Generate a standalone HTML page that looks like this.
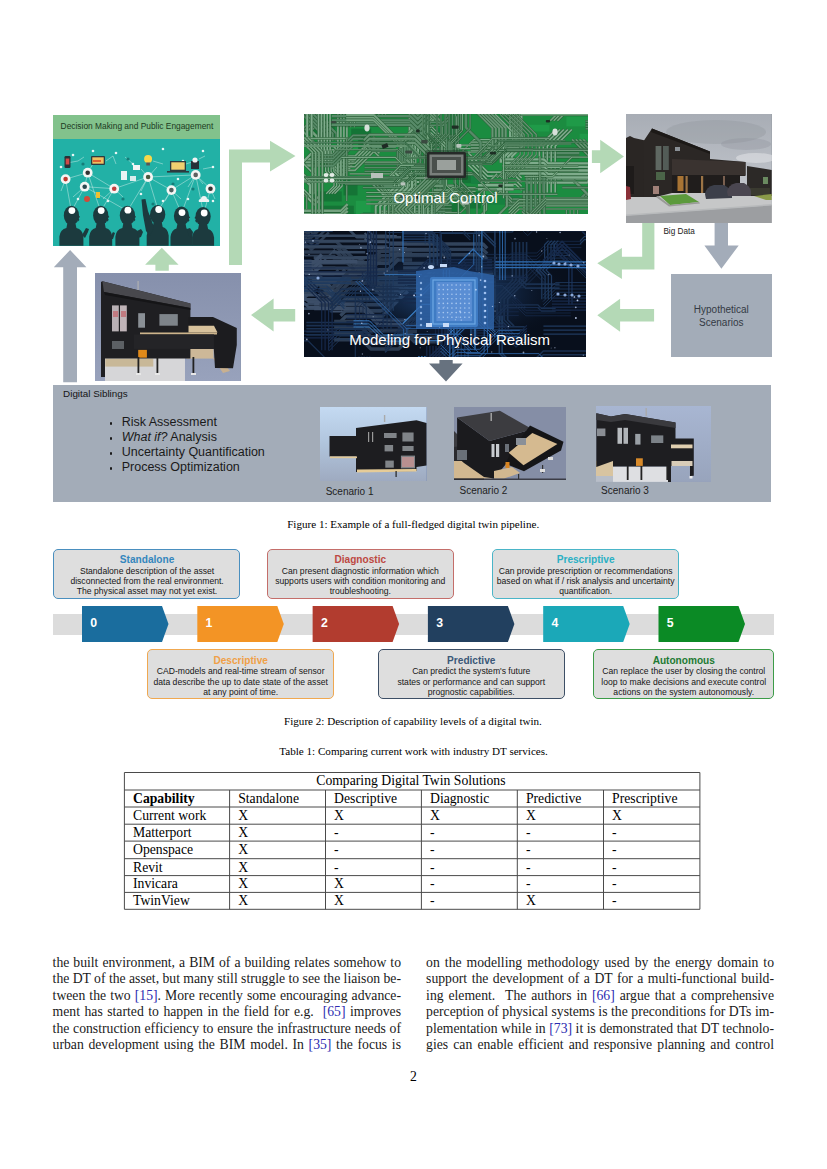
<!DOCTYPE html>
<html><head><meta charset="utf-8"><style>
html,body{margin:0;padding:0;background:#fff;}
body{width:827px;height:1169px;position:relative;overflow:hidden;}
.jl{position:absolute;font:400 13.7px/16.5px 'Liberation Serif', serif;color:#1a1a1a;text-align:justify;text-align-last:justify;white-space:nowrap;}
.jl{height:16.5px;overflow:visible;text-align:left;text-align-last:left;}
.c{color:#2b2bb0;}
svg.img{filter:blur(0.35px);}
</style></head><body>
<svg style="position:absolute;left:0;top:0" width="827" height="1169" viewBox="0 0 827 1169"><polygon points="229.0,265.0 229.0,149.6 270.0,149.6 270.0,140.8 295.5,156.0 270.0,171.6 270.0,162.4 242.0,162.4 242.0,265.0" fill="#b4d9b6"/><polygon points="591.9,150.2 600.2,150.2 600.2,139.8 623.9,156.4 600.2,173.2 600.2,163.1 591.9,163.1" fill="#b4d9b6"/><polygon points="642.2,223.0 654.4,223.0 654.4,269.5 621.9,269.5 621.9,278.9 597.3,263.3 621.9,247.9 621.9,256.8 642.2,256.8" fill="#b4d9b6"/><polygon points="714.6,223.0 728.0,223.0 728.0,245.4 738.7,245.4 721.4,268.8 704.4,245.4 714.6,245.4" fill="#a3acb9"/><polygon points="654.1,308.9 654.1,321.6 620.1,321.6 620.1,331.7 597.3,315.2 620.1,298.7 620.1,308.9" fill="#b4d9b6"/><polygon points="295.2,308.9 295.2,321.6 273.6,321.6 273.6,331.5 251.0,315.1 273.6,298.6 273.6,308.9" fill="#b4d9b6"/><polygon points="155.4,270.8 155.4,264.7 145.1,264.7 161.8,247.8 178.6,264.7 168.8,264.7 168.8,270.8" fill="#b4d9b6"/><polygon points="63.2,382.2 63.2,267.3 53.8,267.3 70.1,250.0 86.4,267.3 77.0,267.3 77.0,382.2" fill="#a3acb9"/><polygon points="439.4,360.1 452.7,360.1 452.7,363.4 462.6,363.4 446.0,381.4 429.0,363.4 439.4,363.4" fill="#67727f"/></svg><div style="position:absolute;left:53.30px;top:115.00px;width:166.70px;height:24.30px;background:#82c28c;"></div><div style="position:absolute;left:60.60px;top:121.35px;font:normal 400 8.4px/10.08px 'Liberation Sans', sans-serif;color:#1c3a22;white-space:nowrap;">Decision Making and Public Engagement</div><div style="position:absolute;left:53.3px;top:139.3px;width:166.7px;height:106.7px;background:#22b1a6;overflow:hidden"><svg class="img" width="166.7" height="106.7" viewBox="0 0 166.7 106.7" style="position:absolute;left:0;top:0"><rect width="166.7" height="106.7" fill="#22b1a6"/><line x1="12.6" y1="40.1" x2="34.7" y2="33.7" stroke="#d8f0ec" stroke-width="0.55" opacity="0.85"/><line x1="34.7" y1="33.7" x2="31.7" y2="47.7" stroke="#d8f0ec" stroke-width="0.55" opacity="0.85"/><line x1="34.7" y1="33.7" x2="61.2" y2="49.7" stroke="#d8f0ec" stroke-width="0.55" opacity="0.85"/><line x1="61.2" y1="49.7" x2="95.1" y2="38.0" stroke="#d8f0ec" stroke-width="0.55" opacity="0.85"/><line x1="95.1" y1="38.0" x2="118.4" y2="51.1" stroke="#d8f0ec" stroke-width="0.55" opacity="0.85"/><line x1="95.1" y1="38.0" x2="142.7" y2="35.9" stroke="#d8f0ec" stroke-width="0.55" opacity="0.85"/><line x1="142.7" y1="35.9" x2="157.5" y2="49.7" stroke="#d8f0ec" stroke-width="0.55" opacity="0.85"/><line x1="31.7" y1="47.7" x2="61.2" y2="49.7" stroke="#d8f0ec" stroke-width="0.55" opacity="0.85"/><line x1="118.4" y1="51.1" x2="142.7" y2="35.9" stroke="#d8f0ec" stroke-width="0.55" opacity="0.85"/><line x1="18.4" y1="72.4" x2="12.6" y2="40.1" stroke="#d8f0ec" stroke-width="0.55" opacity="0.85"/><line x1="18.4" y1="72.4" x2="31.7" y2="47.7" stroke="#d8f0ec" stroke-width="0.55" opacity="0.85"/><line x1="47.7" y1="72.4" x2="34.7" y2="33.7" stroke="#d8f0ec" stroke-width="0.55" opacity="0.85"/><line x1="47.7" y1="72.4" x2="61.2" y2="49.7" stroke="#d8f0ec" stroke-width="0.55" opacity="0.85"/><line x1="74.4" y1="72.0" x2="31.7" y2="47.7" stroke="#d8f0ec" stroke-width="0.55" opacity="0.85"/><line x1="74.4" y1="72.0" x2="95.1" y2="38.0" stroke="#d8f0ec" stroke-width="0.55" opacity="0.85"/><line x1="105.2" y1="71.3" x2="95.1" y2="38.0" stroke="#d8f0ec" stroke-width="0.55" opacity="0.85"/><line x1="105.2" y1="71.3" x2="118.4" y2="51.1" stroke="#d8f0ec" stroke-width="0.55" opacity="0.85"/><line x1="128.5" y1="74.4" x2="118.4" y2="51.1" stroke="#d8f0ec" stroke-width="0.55" opacity="0.85"/><line x1="128.5" y1="74.4" x2="142.7" y2="35.9" stroke="#d8f0ec" stroke-width="0.55" opacity="0.85"/><line x1="150.7" y1="74.8" x2="142.7" y2="35.9" stroke="#d8f0ec" stroke-width="0.55" opacity="0.85"/><line x1="150.7" y1="74.8" x2="157.5" y2="49.7" stroke="#d8f0ec" stroke-width="0.55" opacity="0.85"/><line x1="14" y1="24" x2="25" y2="22" stroke="#d8f0ec" stroke-width="0.55" opacity="0.85"/><line x1="25" y1="22" x2="31" y2="18" stroke="#d8f0ec" stroke-width="0.55" opacity="0.85"/><line x1="53" y1="22" x2="60" y2="17" stroke="#d8f0ec" stroke-width="0.55" opacity="0.85"/><line x1="60" y1="17" x2="63" y2="25" stroke="#d8f0ec" stroke-width="0.55" opacity="0.85"/><line x1="72" y1="18" x2="80" y2="25" stroke="#d8f0ec" stroke-width="0.55" opacity="0.85"/><line x1="88" y1="30" x2="95" y2="38" stroke="#d8f0ec" stroke-width="0.55" opacity="0.85"/><line x1="100" y1="22" x2="110" y2="25" stroke="#d8f0ec" stroke-width="0.55" opacity="0.85"/><line x1="133" y1="25" x2="142" y2="22" stroke="#d8f0ec" stroke-width="0.55" opacity="0.85"/><line x1="146" y1="20" x2="152" y2="17" stroke="#d8f0ec" stroke-width="0.55" opacity="0.85"/><line x1="150" y1="30" x2="160" y2="28" stroke="#d8f0ec" stroke-width="0.55" opacity="0.85"/><line x1="12.6" y1="40.1" x2="8" y2="52" stroke="#d8f0ec" stroke-width="0.55" opacity="0.85"/><line x1="31.7" y1="47.7" x2="20" y2="58" stroke="#d8f0ec" stroke-width="0.55" opacity="0.85"/><line x1="61.2" y1="49.7" x2="70" y2="58" stroke="#d8f0ec" stroke-width="0.55" opacity="0.85"/><line x1="95.1" y1="38" x2="88" y2="52" stroke="#d8f0ec" stroke-width="0.55" opacity="0.85"/><line x1="118.4" y1="51.1" x2="128" y2="60" stroke="#d8f0ec" stroke-width="0.55" opacity="0.85"/><line x1="142.7" y1="35.9" x2="150" y2="45" stroke="#d8f0ec" stroke-width="0.55" opacity="0.85"/><line x1="157.5" y1="49.7" x2="162" y2="60" stroke="#d8f0ec" stroke-width="0.55" opacity="0.85"/><line x1="34.7" y1="33.7" x2="40" y2="25" stroke="#d8f0ec" stroke-width="0.55" opacity="0.85"/><line x1="95.1" y1="38" x2="104" y2="28" stroke="#d8f0ec" stroke-width="0.55" opacity="0.85"/><line x1="118.4" y1="51.1" x2="112" y2="62" stroke="#d8f0ec" stroke-width="0.55" opacity="0.85"/><line x1="61.2" y1="49.7" x2="50" y2="60" stroke="#d8f0ec" stroke-width="0.55" opacity="0.85"/><line x1="142.7" y1="35.9" x2="135" y2="48" stroke="#d8f0ec" stroke-width="0.55" opacity="0.85"/><circle cx="20" cy="16" r="1.3" fill="#e8f6f4"/><circle cx="40" cy="12" r="1.3" fill="#e8f6f4"/><circle cx="63" cy="14" r="1.3" fill="#e8f6f4"/><circle cx="80" cy="25" r="1.3" fill="#e8f6f4"/><circle cx="95" cy="18" r="1.3" fill="#e8f6f4"/><circle cx="110" cy="10" r="1.3" fill="#e8f6f4"/><circle cx="130" cy="22" r="1.3" fill="#e8f6f4"/><circle cx="150" cy="12" r="1.3" fill="#e8f6f4"/><circle cx="160" cy="28" r="1.3" fill="#e8f6f4"/><circle cx="8" cy="28" r="1.3" fill="#e8f6f4"/><circle cx="25" cy="60" r="1.3" fill="#e8f6f4"/><circle cx="55" cy="62" r="1.3" fill="#e8f6f4"/><circle cx="88" cy="55" r="1.3" fill="#e8f6f4"/><circle cx="110" cy="62" r="1.3" fill="#e8f6f4"/><circle cx="135" cy="60" r="1.3" fill="#e8f6f4"/><circle cx="160" cy="62" r="1.3" fill="#e8f6f4"/><circle cx="70" cy="35" r="1.3" fill="#e8f6f4"/><circle cx="125" cy="40" r="1.3" fill="#e8f6f4"/><circle cx="45" cy="58" r="1.6" fill="#157c78"/><circle cx="70" cy="60" r="1.6" fill="#157c78"/><circle cx="100" cy="65" r="1.6" fill="#157c78"/><circle cx="120" cy="45" r="1.6" fill="#157c78"/><circle cx="140" cy="50" r="1.6" fill="#157c78"/><circle cx="30" cy="25" r="1.6" fill="#157c78"/><circle cx="75" cy="20" r="1.6" fill="#157c78"/><circle cx="12.6" cy="40.1" r="4.9" fill="#f4f6f4"/><circle cx="12.6" cy="40.1" r="2.3" fill="#c03a30"/><circle cx="34.7" cy="33.7" r="4.9" fill="#f4f6f4"/><circle cx="34.7" cy="33.7" r="2.3" fill="#333"/><circle cx="31.7" cy="47.7" r="4.9" fill="#f4f6f4"/><circle cx="31.7" cy="47.7" r="2.3" fill="#2a4a50"/><circle cx="61.2" cy="49.7" r="4.9" fill="#f4f6f4"/><circle cx="61.2" cy="49.7" r="2.3" fill="#c04040"/><circle cx="95.1" cy="38.0" r="4.9" fill="#f4f6f4"/><circle cx="95.1" cy="38.0" r="2.3" fill="#4a5a40"/><circle cx="118.4" cy="51.1" r="4.9" fill="#f4f6f4"/><circle cx="118.4" cy="51.1" r="2.3" fill="#506060"/><circle cx="142.7" cy="35.9" r="4.9" fill="#f4f6f4"/><circle cx="142.7" cy="35.9" r="2.3" fill="#606060"/><circle cx="157.5" cy="49.7" r="4.9" fill="#f4f6f4"/><circle cx="157.5" cy="49.7" r="2.3" fill="#333"/><rect x="11.5" y="17" width="6" height="12" rx="1.2" fill="#263238"/><rect x="12.7" y="19.5" width="3.6" height="6" fill="#d04848"/><rect x="38" y="17" width="14" height="9" rx="1" fill="#2d3b40"/><rect x="39.3" y="18.3" width="11.4" height="6.4" fill="#f0c060"/><rect x="40" y="21" width="8" height="2" fill="#e06030"/><circle cx="95.1" cy="20" r="4" fill="#f7d84a"/><rect x="93.3" y="23.5" width="3.6" height="3" fill="#555"/><rect x="117" y="22" width="16" height="10" fill="#2d3b40"/><rect x="118.3" y="23.3" width="13.4" height="7.4" fill="#f0d070"/><rect x="114" y="32" width="22" height="1.6" fill="#2d3b40"/><rect x="138" y="22" width="8" height="8" fill="#263238"/><circle cx="142" cy="21" r="2.6" fill="#f4f4f4"/><rect x="68" y="32" width="6" height="9" fill="#e8f4f4"/><rect x="77" y="37" width="6" height="5" fill="#d8ecec"/><rect x="80" y="26" width="7" height="5" fill="#f4f4f4"/><circle cx="34" cy="60" r="3" fill="#d04a3a"/><rect x="43" y="53" width="4" height="6" fill="#f0c030"/><path d="M148 60 a3 3 0 0 1 6 0 a2 2 0 0 1 2 3 h-10 a2 2 0 0 1 2 -3z" fill="#f0f4f4"/><ellipse cx="18.4" cy="76.4" rx="7.6" ry="9.6" fill="#1c3a3e"/><path d="M24.9 75.4 l2.2 2.5 l-1.5 1 l0.8 2 l-2 2 z" fill="#1c3a3e"/><path d="M6.4 106.7 L6.4 97.4 Q7.4 89.9 13.4 88.9 L14.9 81.4 L21.9 81.4 L23.4 88.9 Q29.4 89.9 30.4 97.4 L30.4 106.7 Z" fill="#1c3a3e"/><ellipse cx="47.7" cy="76.4" rx="7.6" ry="9.6" fill="#1c3a3e"/><path d="M54.2 75.4 l2.2 2.5 l-1.5 1 l0.8 2 l-2 2 z" fill="#1c3a3e"/><path d="M36.2 106.7 L36.2 97.4 Q37.2 89.9 42.7 88.9 L44.2 81.4 L51.2 81.4 L52.7 88.9 Q58.2 89.9 59.2 97.4 L59.2 106.7 Z" fill="#1c3a3e"/><ellipse cx="74.4" cy="76.4" rx="7.6" ry="9.6" fill="#1c3a3e"/><path d="M80.9 75.4 l2.2 2.5 l-1.5 1 l0.8 2 l-2 2 z" fill="#1c3a3e"/><path d="M62.4 106.7 L62.4 97.4 Q63.4 89.9 69.4 88.9 L70.9 81.4 L77.9 81.4 L79.4 88.9 Q85.4 89.9 86.4 97.4 L86.4 106.7 Z" fill="#1c3a3e"/><ellipse cx="104.7" cy="75.5" rx="7.6" ry="9.6" fill="#1c3a3e"/><path d="M98.2 74.5 l-2.2 2.5 l1.5 1 l-0.8 2 l2 2 z" fill="#1c3a3e"/><path d="M93.7 106.7 L93.7 96.5 Q94.7 89.0 99.7 88.0 L101.2 80.5 L108.2 80.5 L109.7 88.0 Q114.7 89.0 115.7 96.5 L115.7 106.7 Z" fill="#1c3a3e"/><ellipse cx="128.5" cy="77" rx="7.6" ry="9.6" fill="#1c3a3e"/><path d="M135.0 76 l2.2 2.5 l-1.5 1 l0.8 2 l-2 2 z" fill="#1c3a3e"/><path d="M117.5 106.7 L117.5 98.0 Q118.5 90.5 123.5 89.5 L125.0 82.0 L132.0 82.0 L133.5 89.5 Q138.5 90.5 139.5 98.0 L139.5 106.7 Z" fill="#1c3a3e"/><ellipse cx="150.1" cy="77.5" rx="7.6" ry="9.6" fill="#1c3a3e"/><path d="M143.6 76.5 l-2.2 2.5 l1.5 1 l-0.8 2 l2 2 z" fill="#1c3a3e"/><path d="M139.1 106.7 L139.1 98.5 Q140.1 91.0 145.1 90.0 L146.6 82.5 L153.6 82.5 L155.1 90.0 Q160.1 91.0 161.1 98.5 L161.1 106.7 Z" fill="#1c3a3e"/><path d="M88.5 60.5 L92.5 60 L95 72 L101 88 L97 97 L93 92 L90 76 Z" fill="#1c3a3e"/><path d="M29 96 L33 89 L36 90 L35 93 L32 99 Z M85 99 L84 92 L88 90 L90 93 L88 98 Z M136 97 L134 90 L137 89 L140 93 L139 99 Z M56 100 L60 93 L62 94 L60 100 Z" fill="#1c3a3e"/><circle cx="18.9" cy="71.60000000000001" r="3.4" fill="#ffffff"/><circle cx="48.2" cy="71.60000000000001" r="3.4" fill="#ffffff"/><circle cx="74.9" cy="71.2" r="3.4" fill="#ffffff"/><circle cx="105.7" cy="70.5" r="3.4" fill="#ffffff"/><circle cx="129.0" cy="73.60000000000001" r="3.4" fill="#ffffff"/><circle cx="151.2" cy="74.0" r="3.4" fill="#ffffff"/></svg></div><div style="position:absolute;left:303.5px;top:114.2px;width:284.5px;height:100.1px;background:#238f48;overflow:hidden"><svg class="img" width="284.5" height="100.1" viewBox="0 0 284.5 100.1" style="position:absolute;left:0;top:0"><rect width="284.5" height="100.1" fill="#1b8c40"/><rect x="177.2" y="74.3" width="38.3" height="16.4" fill="#178040"/><rect x="262.4" y="2.9" width="33.3" height="9.5" fill="#1f9a48"/><rect x="14.8" y="15.7" width="24.1" height="9.5" fill="#1f9a48"/><rect x="154.7" y="57.5" width="31.9" height="11.7" fill="#157436"/><rect x="51.8" y="86.8" width="14.8" height="17.2" fill="#1f9a48"/><rect x="39.5" y="61.8" width="14.0" height="19.6" fill="#157436"/><rect x="1.5" y="77.4" width="36.2" height="10.1" fill="#157436"/><rect x="273.5" y="54.0" width="28.8" height="8.5" fill="#178040"/><rect x="275.6" y="19.7" width="19.0" height="11.1" fill="#1f9a48"/><rect x="47.2" y="14.6" width="20.0" height="17.4" fill="#157436"/><rect x="166.8" y="59.7" width="20.1" height="10.3" fill="#178040"/><rect x="232.9" y="48.1" width="15.5" height="12.6" fill="#1f9a48"/><rect x="50.1" y="25.6" width="38.5" height="11.0" fill="#157436"/><rect x="115.0" y="55.0" width="21.0" height="14.1" fill="#1f9a48"/><rect x="2.6" y="4.7" width="28.7" height="19.4" fill="#157436"/><rect x="33.9" y="24.6" width="20.3" height="11.0" fill="#1f9a48"/><rect x="149.3" y="77.6" width="27.7" height="16.9" fill="#157436"/><rect x="104.5" y="29.6" width="38.4" height="7.3" fill="#1f9a48"/><rect x="96.9" y="61.1" width="20.2" height="18.9" fill="#157436"/><rect x="155.1" y="31.3" width="19.2" height="17.2" fill="#1f9a48"/><rect x="178.3" y="72.2" width="39.9" height="8.3" fill="#1f9a48"/><rect x="13.8" y="98.8" width="37.7" height="6.4" fill="#178040"/><rect x="210.7" y="34.4" width="23.7" height="11.9" fill="#1f9a48"/><rect x="15.8" y="91.7" width="34.0" height="10.7" fill="#157436"/><rect x="58.9" y="98.2" width="38.5" height="14.8" fill="#178040"/><rect x="224.2" y="10.7" width="21.2" height="6.8" fill="#1f9a48"/><rect x="119.7" y="14.1" width="35.6" height="19.7" fill="#178040"/><rect x="129.0" y="48.9" width="19.5" height="9.8" fill="#178040"/><rect x="133.7" y="90.3" width="21.3" height="19.8" fill="#157436"/><rect x="273.1" y="62.8" width="36.0" height="8.5" fill="#1f9a48"/><polyline points="139.6,51.9 139.6,84.6 139.6,114.2" fill="none" stroke="#2a5e38" stroke-width="3.4" stroke-linejoin="round" opacity="0.95"/><polyline points="139.6,51.9 139.6,84.6 139.6,114.2" fill="none" stroke="#5a8c6a" stroke-width="2.4" stroke-linejoin="round" opacity="0.95"/><polyline points="136.4,51.9 136.4,84.6 136.4,114.2" fill="none" stroke="#2a5e38" stroke-width="3.4" stroke-linejoin="round" opacity="0.95"/><polyline points="136.4,51.9 136.4,84.6 136.4,114.2" fill="none" stroke="#5a8c6a" stroke-width="2.4" stroke-linejoin="round" opacity="0.95"/><polyline points="133.2,51.9 133.2,84.6 133.2,114.2" fill="none" stroke="#2a5e38" stroke-width="3.4" stroke-linejoin="round" opacity="0.95"/><polyline points="133.2,51.9 133.2,84.6 133.2,114.2" fill="none" stroke="#5a8c6a" stroke-width="2.4" stroke-linejoin="round" opacity="0.95"/><polyline points="65.9,107.8 65.9,135.9 65.9,142.3 65.9,156.8 65.9,178.6" fill="none" stroke="#2a5e38" stroke-width="3.4" stroke-linejoin="round" opacity="0.95"/><polyline points="65.9,107.8 65.9,135.9 65.9,142.3 65.9,156.8 65.9,178.6" fill="none" stroke="#5a8c6a" stroke-width="2.4" stroke-linejoin="round" opacity="0.95"/><polyline points="62.8,107.8 62.8,135.9 62.8,142.3 62.8,156.8 62.8,178.6" fill="none" stroke="#2a5e38" stroke-width="3.4" stroke-linejoin="round" opacity="0.95"/><polyline points="62.8,107.8 62.8,135.9 62.8,142.3 62.8,156.8 62.8,178.6" fill="none" stroke="#5a8c6a" stroke-width="2.4" stroke-linejoin="round" opacity="0.95"/><polyline points="59.6,107.8 59.6,135.9 59.6,142.3 59.6,156.8 59.6,178.6" fill="none" stroke="#2a5e38" stroke-width="3.4" stroke-linejoin="round" opacity="0.95"/><polyline points="59.6,107.8 59.6,135.9 59.6,142.3 59.6,156.8 59.6,178.6" fill="none" stroke="#5a8c6a" stroke-width="2.4" stroke-linejoin="round" opacity="0.95"/><polyline points="93.6,91.2 93.6,52.7 105.6,40.7 105.6,2.8 105.6,-26.7" fill="none" stroke="#2a5e38" stroke-width="3.0" stroke-linejoin="round" opacity="0.95"/><polyline points="93.6,91.2 93.6,52.7 105.6,40.7 105.6,2.8 105.6,-26.7" fill="none" stroke="#84b090" stroke-width="2.0" stroke-linejoin="round" opacity="0.95"/><polyline points="96.4,91.2 96.4,52.7 108.4,40.7 108.4,2.8 108.4,-26.7" fill="none" stroke="#2a5e38" stroke-width="3.0" stroke-linejoin="round" opacity="0.95"/><polyline points="96.4,91.2 96.4,52.7 108.4,40.7 108.4,2.8 108.4,-26.7" fill="none" stroke="#84b090" stroke-width="2.0" stroke-linejoin="round" opacity="0.95"/><polyline points="99.3,91.2 99.3,52.7 111.3,40.7 111.3,2.8 111.3,-26.7" fill="none" stroke="#2a5e38" stroke-width="3.0" stroke-linejoin="round" opacity="0.95"/><polyline points="99.3,91.2 99.3,52.7 111.3,40.7 111.3,2.8 111.3,-26.7" fill="none" stroke="#84b090" stroke-width="2.0" stroke-linejoin="round" opacity="0.95"/><polyline points="102.1,91.2 102.1,52.7 114.1,40.7 114.1,2.8 114.1,-26.7" fill="none" stroke="#2a5e38" stroke-width="3.0" stroke-linejoin="round" opacity="0.95"/><polyline points="102.1,91.2 102.1,52.7 114.1,40.7 114.1,2.8 114.1,-26.7" fill="none" stroke="#84b090" stroke-width="2.0" stroke-linejoin="round" opacity="0.95"/><polyline points="182.4,83.0 182.4,95.7 168.8,109.3" fill="none" stroke="#2a5e38" stroke-width="2.6" stroke-linejoin="round" opacity="0.95"/><polyline points="182.4,83.0 182.4,95.7 168.8,109.3" fill="none" stroke="#78a684" stroke-width="1.6" stroke-linejoin="round" opacity="0.95"/><polyline points="-2.4,6.0 -2.4,28.4 -2.4,48.6 -16.7,62.8" fill="none" stroke="#2a5e38" stroke-width="2.2" stroke-linejoin="round" opacity="0.95"/><polyline points="-2.4,6.0 -2.4,28.4 -2.4,48.6 -16.7,62.8" fill="none" stroke="#5a8c6a" stroke-width="1.2" stroke-linejoin="round" opacity="0.95"/><polyline points="-6.4,6.0 -6.4,28.4 -6.4,48.6 -20.6,62.8" fill="none" stroke="#2a5e38" stroke-width="2.2" stroke-linejoin="round" opacity="0.95"/><polyline points="-6.4,6.0 -6.4,28.4 -6.4,48.6 -20.6,62.8" fill="none" stroke="#5a8c6a" stroke-width="1.2" stroke-linejoin="round" opacity="0.95"/><polyline points="93.7,104.3 93.7,74.9 93.7,36.1" fill="none" stroke="#2a5e38" stroke-width="3.0" stroke-linejoin="round" opacity="0.95"/><polyline points="93.7,104.3 93.7,74.9 93.7,36.1" fill="none" stroke="#5a8c6a" stroke-width="2.0" stroke-linejoin="round" opacity="0.95"/><polyline points="96.4,104.3 96.4,74.9 96.4,36.1" fill="none" stroke="#2a5e38" stroke-width="3.0" stroke-linejoin="round" opacity="0.95"/><polyline points="96.4,104.3 96.4,74.9 96.4,36.1" fill="none" stroke="#5a8c6a" stroke-width="2.0" stroke-linejoin="round" opacity="0.95"/><polyline points="99.1,104.3 99.1,74.9 99.1,36.1" fill="none" stroke="#2a5e38" stroke-width="3.0" stroke-linejoin="round" opacity="0.95"/><polyline points="99.1,104.3 99.1,74.9 99.1,36.1" fill="none" stroke="#5a8c6a" stroke-width="2.0" stroke-linejoin="round" opacity="0.95"/><polyline points="291.0,88.3 291.0,54.7 300.2,45.4 300.2,20.2 300.2,-18.7 300.2,-36.6" fill="none" stroke="#2a5e38" stroke-width="2.6" stroke-linejoin="round" opacity="0.95"/><polyline points="291.0,88.3 291.0,54.7 300.2,45.4 300.2,20.2 300.2,-18.7 300.2,-36.6" fill="none" stroke="#5a8c6a" stroke-width="1.6" stroke-linejoin="round" opacity="0.95"/><polyline points="85.6,95.3 95.9,84.9 95.9,62.6 95.9,43.6 95.9,32.2 111.5,16.6" fill="none" stroke="#2a5e38" stroke-width="3.4" stroke-linejoin="round" opacity="0.95"/><polyline points="85.6,95.3 95.9,84.9 95.9,62.6 95.9,43.6 95.9,32.2 111.5,16.6" fill="none" stroke="#5a8c6a" stroke-width="2.4" stroke-linejoin="round" opacity="0.95"/><polyline points="88.1,95.3 98.5,84.9 98.5,62.6 98.5,43.6 98.5,32.2 114.1,16.6" fill="none" stroke="#2a5e38" stroke-width="3.4" stroke-linejoin="round" opacity="0.95"/><polyline points="88.1,95.3 98.5,84.9 98.5,62.6 98.5,43.6 98.5,32.2 114.1,16.6" fill="none" stroke="#5a8c6a" stroke-width="2.4" stroke-linejoin="round" opacity="0.95"/><polyline points="90.7,95.3 101.0,84.9 101.0,62.6 101.0,43.6 101.0,32.2 116.6,16.6" fill="none" stroke="#2a5e38" stroke-width="3.4" stroke-linejoin="round" opacity="0.95"/><polyline points="90.7,95.3 101.0,84.9 101.0,62.6 101.0,43.6 101.0,32.2 116.6,16.6" fill="none" stroke="#5a8c6a" stroke-width="2.4" stroke-linejoin="round" opacity="0.95"/><polyline points="93.2,95.3 103.6,84.9 103.6,62.6 103.6,43.6 103.6,32.2 119.2,16.6" fill="none" stroke="#2a5e38" stroke-width="3.4" stroke-linejoin="round" opacity="0.95"/><polyline points="93.2,95.3 103.6,84.9 103.6,62.6 103.6,43.6 103.6,32.2 119.2,16.6" fill="none" stroke="#5a8c6a" stroke-width="2.4" stroke-linejoin="round" opacity="0.95"/><polyline points="281.6,7.2 310.1,7.2 317.3,0.0" fill="none" stroke="#2a5e38" stroke-width="2.6" stroke-linejoin="round" opacity="0.95"/><polyline points="281.6,7.2 310.1,7.2 317.3,0.0" fill="none" stroke="#5a8c6a" stroke-width="1.6" stroke-linejoin="round" opacity="0.95"/><polyline points="281.6,9.7 310.1,9.7 317.3,2.6" fill="none" stroke="#2a5e38" stroke-width="2.6" stroke-linejoin="round" opacity="0.95"/><polyline points="281.6,9.7 310.1,9.7 317.3,2.6" fill="none" stroke="#5a8c6a" stroke-width="1.6" stroke-linejoin="round" opacity="0.95"/><polyline points="281.6,12.3 310.1,12.3 317.3,5.1" fill="none" stroke="#2a5e38" stroke-width="2.6" stroke-linejoin="round" opacity="0.95"/><polyline points="281.6,12.3 310.1,12.3 317.3,5.1" fill="none" stroke="#5a8c6a" stroke-width="1.6" stroke-linejoin="round" opacity="0.95"/><polyline points="281.6,14.8 310.1,14.8 317.3,7.6" fill="none" stroke="#2a5e38" stroke-width="2.6" stroke-linejoin="round" opacity="0.95"/><polyline points="281.6,14.8 310.1,14.8 317.3,7.6" fill="none" stroke="#5a8c6a" stroke-width="1.6" stroke-linejoin="round" opacity="0.95"/><polyline points="283.5,83.9 275.9,91.5 260.0,91.5 237.8,91.5 211.3,91.5 201.3,91.5" fill="none" stroke="#2a5e38" stroke-width="3.0" stroke-linejoin="round" opacity="0.95"/><polyline points="283.5,83.9 275.9,91.5 260.0,91.5 237.8,91.5 211.3,91.5 201.3,91.5" fill="none" stroke="#5a8c6a" stroke-width="2.0" stroke-linejoin="round" opacity="0.95"/><polyline points="283.5,80.8 275.9,88.4 260.0,88.4 237.8,88.4 211.3,88.4 201.3,88.4" fill="none" stroke="#2a5e38" stroke-width="3.0" stroke-linejoin="round" opacity="0.95"/><polyline points="283.5,80.8 275.9,88.4 260.0,88.4 237.8,88.4 211.3,88.4 201.3,88.4" fill="none" stroke="#5a8c6a" stroke-width="2.0" stroke-linejoin="round" opacity="0.95"/><polyline points="283.5,77.8 275.9,85.3 260.0,85.3 237.8,85.3 211.3,85.3 201.3,85.3" fill="none" stroke="#2a5e38" stroke-width="3.0" stroke-linejoin="round" opacity="0.95"/><polyline points="283.5,77.8 275.9,85.3 260.0,85.3 237.8,85.3 211.3,85.3 201.3,85.3" fill="none" stroke="#5a8c6a" stroke-width="2.0" stroke-linejoin="round" opacity="0.95"/><polyline points="217.3,-6.8 217.3,22.4 222.6,27.6 207.9,42.3 207.9,48.8" fill="none" stroke="#2a5e38" stroke-width="3.4" stroke-linejoin="round" opacity="0.95"/><polyline points="217.3,-6.8 217.3,22.4 222.6,27.6 207.9,42.3 207.9,48.8" fill="none" stroke="#84b090" stroke-width="2.4" stroke-linejoin="round" opacity="0.95"/><polyline points="213.6,-6.8 213.6,22.4 218.9,27.6 204.2,42.3 204.2,48.8" fill="none" stroke="#2a5e38" stroke-width="3.4" stroke-linejoin="round" opacity="0.95"/><polyline points="213.6,-6.8 213.6,22.4 218.9,27.6 204.2,42.3 204.2,48.8" fill="none" stroke="#84b090" stroke-width="2.4" stroke-linejoin="round" opacity="0.95"/><polyline points="209.9,-6.8 209.9,22.4 215.2,27.6 200.5,42.3 200.5,48.8" fill="none" stroke="#2a5e38" stroke-width="3.4" stroke-linejoin="round" opacity="0.95"/><polyline points="209.9,-6.8 209.9,22.4 215.2,27.6 200.5,42.3 200.5,48.8" fill="none" stroke="#84b090" stroke-width="2.4" stroke-linejoin="round" opacity="0.95"/><polyline points="206.2,-6.8 206.2,22.4 211.5,27.6 196.8,42.3 196.8,48.8" fill="none" stroke="#2a5e38" stroke-width="3.4" stroke-linejoin="round" opacity="0.95"/><polyline points="206.2,-6.8 206.2,22.4 211.5,27.6 196.8,42.3 196.8,48.8" fill="none" stroke="#84b090" stroke-width="2.4" stroke-linejoin="round" opacity="0.95"/><polyline points="134.4,71.9 112.6,71.9 104.4,80.1 78.6,80.1 67.6,69.1" fill="none" stroke="#2a5e38" stroke-width="3.0" stroke-linejoin="round" opacity="0.95"/><polyline points="134.4,71.9 112.6,71.9 104.4,80.1 78.6,80.1 67.6,69.1" fill="none" stroke="#84b090" stroke-width="2.0" stroke-linejoin="round" opacity="0.95"/><polyline points="134.4,68.1 112.6,68.1 104.4,76.2 78.6,76.2 67.6,65.2" fill="none" stroke="#2a5e38" stroke-width="3.0" stroke-linejoin="round" opacity="0.95"/><polyline points="134.4,68.1 112.6,68.1 104.4,76.2 78.6,76.2 67.6,65.2" fill="none" stroke="#84b090" stroke-width="2.0" stroke-linejoin="round" opacity="0.95"/><polyline points="134.4,64.2 112.6,64.2 104.4,72.3 78.6,72.3 67.6,61.3" fill="none" stroke="#2a5e38" stroke-width="3.0" stroke-linejoin="round" opacity="0.95"/><polyline points="134.4,64.2 112.6,64.2 104.4,72.3 78.6,72.3 67.6,61.3" fill="none" stroke="#84b090" stroke-width="2.0" stroke-linejoin="round" opacity="0.95"/><polyline points="134.4,60.3 112.6,60.3 104.4,68.4 78.6,68.4 67.6,57.4" fill="none" stroke="#2a5e38" stroke-width="3.0" stroke-linejoin="round" opacity="0.95"/><polyline points="134.4,60.3 112.6,60.3 104.4,68.4 78.6,68.4 67.6,57.4" fill="none" stroke="#84b090" stroke-width="2.0" stroke-linejoin="round" opacity="0.95"/><polyline points="154.6,41.1 170.0,25.7 202.9,25.7" fill="none" stroke="#2a5e38" stroke-width="2.2" stroke-linejoin="round" opacity="0.95"/><polyline points="154.6,41.1 170.0,25.7 202.9,25.7" fill="none" stroke="#84b090" stroke-width="1.2" stroke-linejoin="round" opacity="0.95"/><polyline points="304.0,74.2 321.3,56.9 336.4,72.0" fill="none" stroke="#2a5e38" stroke-width="3.4" stroke-linejoin="round" opacity="0.95"/><polyline points="304.0,74.2 321.3,56.9 336.4,72.0" fill="none" stroke="#78a684" stroke-width="2.4" stroke-linejoin="round" opacity="0.95"/><polyline points="304.0,77.0 321.3,59.7 336.4,74.8" fill="none" stroke="#2a5e38" stroke-width="3.4" stroke-linejoin="round" opacity="0.95"/><polyline points="304.0,77.0 321.3,59.7 336.4,74.8" fill="none" stroke="#78a684" stroke-width="2.4" stroke-linejoin="round" opacity="0.95"/><polyline points="304.0,79.8 321.3,62.5 336.4,77.6" fill="none" stroke="#2a5e38" stroke-width="3.4" stroke-linejoin="round" opacity="0.95"/><polyline points="304.0,79.8 321.3,62.5 336.4,77.6" fill="none" stroke="#78a684" stroke-width="2.4" stroke-linejoin="round" opacity="0.95"/><polyline points="304.0,82.6 321.3,65.3 336.4,80.4" fill="none" stroke="#2a5e38" stroke-width="3.4" stroke-linejoin="round" opacity="0.95"/><polyline points="304.0,82.6 321.3,65.3 336.4,80.4" fill="none" stroke="#78a684" stroke-width="2.4" stroke-linejoin="round" opacity="0.95"/><polyline points="240.3,-1.9 215.4,-1.9 199.7,-17.6" fill="none" stroke="#2a5e38" stroke-width="2.2" stroke-linejoin="round" opacity="0.95"/><polyline points="240.3,-1.9 215.4,-1.9 199.7,-17.6" fill="none" stroke="#78a684" stroke-width="1.2" stroke-linejoin="round" opacity="0.95"/><polyline points="240.3,-6.2 215.4,-6.2 199.7,-21.9" fill="none" stroke="#2a5e38" stroke-width="2.2" stroke-linejoin="round" opacity="0.95"/><polyline points="240.3,-6.2 215.4,-6.2 199.7,-21.9" fill="none" stroke="#78a684" stroke-width="1.2" stroke-linejoin="round" opacity="0.95"/><polyline points="240.3,-10.4 215.4,-10.4 199.7,-26.1" fill="none" stroke="#2a5e38" stroke-width="2.2" stroke-linejoin="round" opacity="0.95"/><polyline points="240.3,-10.4 215.4,-10.4 199.7,-26.1" fill="none" stroke="#78a684" stroke-width="1.2" stroke-linejoin="round" opacity="0.95"/><polyline points="240.3,-14.7 215.4,-14.7 199.7,-30.4" fill="none" stroke="#2a5e38" stroke-width="2.2" stroke-linejoin="round" opacity="0.95"/><polyline points="240.3,-14.7 215.4,-14.7 199.7,-30.4" fill="none" stroke="#78a684" stroke-width="1.2" stroke-linejoin="round" opacity="0.95"/><polyline points="120.1,27.8 120.1,9.8 138.6,-8.8 138.6,-19.9 138.6,-43.1 138.6,-68.0" fill="none" stroke="#2a5e38" stroke-width="3.0" stroke-linejoin="round" opacity="0.95"/><polyline points="120.1,27.8 120.1,9.8 138.6,-8.8 138.6,-19.9 138.6,-43.1 138.6,-68.0" fill="none" stroke="#78a684" stroke-width="2.0" stroke-linejoin="round" opacity="0.95"/><polyline points="122.7,27.8 122.7,9.8 141.3,-8.8 141.3,-19.9 141.3,-43.1 141.3,-68.0" fill="none" stroke="#2a5e38" stroke-width="3.0" stroke-linejoin="round" opacity="0.95"/><polyline points="122.7,27.8 122.7,9.8 141.3,-8.8 141.3,-19.9 141.3,-43.1 141.3,-68.0" fill="none" stroke="#78a684" stroke-width="2.0" stroke-linejoin="round" opacity="0.95"/><polyline points="125.3,27.8 125.3,9.8 143.9,-8.8 143.9,-19.9 143.9,-43.1 143.9,-68.0" fill="none" stroke="#2a5e38" stroke-width="3.0" stroke-linejoin="round" opacity="0.95"/><polyline points="125.3,27.8 125.3,9.8 143.9,-8.8 143.9,-19.9 143.9,-43.1 143.9,-68.0" fill="none" stroke="#78a684" stroke-width="2.0" stroke-linejoin="round" opacity="0.95"/><polyline points="250.2,24.0 214.8,24.0 205.2,14.4 191.1,0.3" fill="none" stroke="#2a5e38" stroke-width="2.6" stroke-linejoin="round" opacity="0.95"/><polyline points="250.2,24.0 214.8,24.0 205.2,14.4 191.1,0.3" fill="none" stroke="#84b090" stroke-width="1.6" stroke-linejoin="round" opacity="0.95"/><polyline points="106.5,45.6 123.0,62.1 127.0,66.0" fill="none" stroke="#2a5e38" stroke-width="3.4" stroke-linejoin="round" opacity="0.95"/><polyline points="106.5,45.6 123.0,62.1 127.0,66.0" fill="none" stroke="#6a9877" stroke-width="2.4" stroke-linejoin="round" opacity="0.95"/><polyline points="102.5,45.6 119.0,62.1 123.0,66.0" fill="none" stroke="#2a5e38" stroke-width="3.4" stroke-linejoin="round" opacity="0.95"/><polyline points="102.5,45.6 119.0,62.1 123.0,66.0" fill="none" stroke="#6a9877" stroke-width="2.4" stroke-linejoin="round" opacity="0.95"/><polyline points="246.3,6.8 263.5,-10.4 263.5,-43.5 263.5,-74.1 263.5,-90.1" fill="none" stroke="#2a5e38" stroke-width="2.6" stroke-linejoin="round" opacity="0.95"/><polyline points="246.3,6.8 263.5,-10.4 263.5,-43.5 263.5,-74.1 263.5,-90.1" fill="none" stroke="#78a684" stroke-width="1.6" stroke-linejoin="round" opacity="0.95"/><polyline points="249.8,6.8 267.0,-10.4 267.0,-43.5 267.0,-74.1 267.0,-90.1" fill="none" stroke="#2a5e38" stroke-width="2.6" stroke-linejoin="round" opacity="0.95"/><polyline points="249.8,6.8 267.0,-10.4 267.0,-43.5 267.0,-74.1 267.0,-90.1" fill="none" stroke="#78a684" stroke-width="1.6" stroke-linejoin="round" opacity="0.95"/><polyline points="253.4,6.8 270.6,-10.4 270.6,-43.5 270.6,-74.1 270.6,-90.1" fill="none" stroke="#2a5e38" stroke-width="2.6" stroke-linejoin="round" opacity="0.95"/><polyline points="253.4,6.8 270.6,-10.4 270.6,-43.5 270.6,-74.1 270.6,-90.1" fill="none" stroke="#78a684" stroke-width="1.6" stroke-linejoin="round" opacity="0.95"/><polyline points="108.3,1.6 114.8,8.1 129.0,22.3 151.0,22.3" fill="none" stroke="#2a5e38" stroke-width="3.4" stroke-linejoin="round" opacity="0.95"/><polyline points="108.3,1.6 114.8,8.1 129.0,22.3 151.0,22.3" fill="none" stroke="#5a8c6a" stroke-width="2.4" stroke-linejoin="round" opacity="0.95"/><polyline points="108.3,6.0 114.8,12.4 129.0,26.7 151.0,26.7" fill="none" stroke="#2a5e38" stroke-width="3.4" stroke-linejoin="round" opacity="0.95"/><polyline points="108.3,6.0 114.8,12.4 129.0,26.7 151.0,26.7" fill="none" stroke="#5a8c6a" stroke-width="2.4" stroke-linejoin="round" opacity="0.95"/><polyline points="108.3,10.3 114.8,16.8 129.0,31.0 151.0,31.0" fill="none" stroke="#2a5e38" stroke-width="3.4" stroke-linejoin="round" opacity="0.95"/><polyline points="108.3,10.3 114.8,16.8 129.0,31.0 151.0,31.0" fill="none" stroke="#5a8c6a" stroke-width="2.4" stroke-linejoin="round" opacity="0.95"/><polyline points="108.3,14.7 114.8,21.1 129.0,35.4 151.0,35.4" fill="none" stroke="#2a5e38" stroke-width="3.4" stroke-linejoin="round" opacity="0.95"/><polyline points="108.3,14.7 114.8,21.1 129.0,35.4 151.0,35.4" fill="none" stroke="#5a8c6a" stroke-width="2.4" stroke-linejoin="round" opacity="0.95"/><polyline points="108.3,19.0 114.8,25.5 129.0,39.7 151.0,39.7" fill="none" stroke="#2a5e38" stroke-width="3.4" stroke-linejoin="round" opacity="0.95"/><polyline points="108.3,19.0 114.8,25.5 129.0,39.7 151.0,39.7" fill="none" stroke="#5a8c6a" stroke-width="2.4" stroke-linejoin="round" opacity="0.95"/><polyline points="129.9,13.0 111.1,13.0 93.2,31.0" fill="none" stroke="#2a5e38" stroke-width="3.0" stroke-linejoin="round" opacity="0.95"/><polyline points="129.9,13.0 111.1,13.0 93.2,31.0" fill="none" stroke="#78a684" stroke-width="2.0" stroke-linejoin="round" opacity="0.95"/><polyline points="198.1,-6.0 235.5,-6.0 273.4,-6.0 302.3,-6.0 321.4,13.1" fill="none" stroke="#2a5e38" stroke-width="2.6" stroke-linejoin="round" opacity="0.95"/><polyline points="198.1,-6.0 235.5,-6.0 273.4,-6.0 302.3,-6.0 321.4,13.1" fill="none" stroke="#78a684" stroke-width="1.6" stroke-linejoin="round" opacity="0.95"/><polyline points="198.1,-2.6 235.5,-2.6 273.4,-2.6 302.3,-2.6 321.4,16.5" fill="none" stroke="#2a5e38" stroke-width="2.6" stroke-linejoin="round" opacity="0.95"/><polyline points="198.1,-2.6 235.5,-2.6 273.4,-2.6 302.3,-2.6 321.4,16.5" fill="none" stroke="#78a684" stroke-width="1.6" stroke-linejoin="round" opacity="0.95"/><polyline points="198.1,0.8 235.5,0.8 273.4,0.8 302.3,0.8 321.4,19.9" fill="none" stroke="#2a5e38" stroke-width="2.6" stroke-linejoin="round" opacity="0.95"/><polyline points="198.1,0.8 235.5,0.8 273.4,0.8 302.3,0.8 321.4,19.9" fill="none" stroke="#78a684" stroke-width="1.6" stroke-linejoin="round" opacity="0.95"/><polyline points="-9.1,75.8 -36.1,75.8 -66.1,75.8" fill="none" stroke="#2a5e38" stroke-width="2.2" stroke-linejoin="round" opacity="0.95"/><polyline points="-9.1,75.8 -36.1,75.8 -66.1,75.8" fill="none" stroke="#5a8c6a" stroke-width="1.2" stroke-linejoin="round" opacity="0.95"/><polyline points="-9.1,72.4 -36.1,72.4 -66.1,72.4" fill="none" stroke="#2a5e38" stroke-width="2.2" stroke-linejoin="round" opacity="0.95"/><polyline points="-9.1,72.4 -36.1,72.4 -66.1,72.4" fill="none" stroke="#5a8c6a" stroke-width="1.2" stroke-linejoin="round" opacity="0.95"/><polyline points="217.6,76.2 211.7,70.2 183.7,70.2 164.1,50.7" fill="none" stroke="#2a5e38" stroke-width="2.6" stroke-linejoin="round" opacity="0.95"/><polyline points="217.6,76.2 211.7,70.2 183.7,70.2 164.1,50.7" fill="none" stroke="#84b090" stroke-width="1.6" stroke-linejoin="round" opacity="0.95"/><polyline points="217.6,72.2 211.7,66.2 183.7,66.2 164.1,46.6" fill="none" stroke="#2a5e38" stroke-width="2.6" stroke-linejoin="round" opacity="0.95"/><polyline points="217.6,72.2 211.7,66.2 183.7,66.2 164.1,46.6" fill="none" stroke="#84b090" stroke-width="1.6" stroke-linejoin="round" opacity="0.95"/><polyline points="217.6,68.1 211.7,62.1 183.7,62.1 164.1,42.5" fill="none" stroke="#2a5e38" stroke-width="2.6" stroke-linejoin="round" opacity="0.95"/><polyline points="217.6,68.1 211.7,62.1 183.7,62.1 164.1,42.5" fill="none" stroke="#84b090" stroke-width="1.6" stroke-linejoin="round" opacity="0.95"/><polyline points="217.6,64.0 211.7,58.1 183.7,58.1 164.1,38.5" fill="none" stroke="#2a5e38" stroke-width="2.6" stroke-linejoin="round" opacity="0.95"/><polyline points="217.6,64.0 211.7,58.1 183.7,58.1 164.1,38.5" fill="none" stroke="#84b090" stroke-width="1.6" stroke-linejoin="round" opacity="0.95"/><polyline points="-5.4,55.9 9.8,71.0 9.8,80.2" fill="none" stroke="#2a5e38" stroke-width="3.4" stroke-linejoin="round" opacity="0.95"/><polyline points="-5.4,55.9 9.8,71.0 9.8,80.2" fill="none" stroke="#84b090" stroke-width="2.4" stroke-linejoin="round" opacity="0.95"/><polyline points="-9.2,55.9 6.0,71.0 6.0,80.2" fill="none" stroke="#2a5e38" stroke-width="3.4" stroke-linejoin="round" opacity="0.95"/><polyline points="-9.2,55.9 6.0,71.0 6.0,80.2" fill="none" stroke="#84b090" stroke-width="2.4" stroke-linejoin="round" opacity="0.95"/><polyline points="233.6,-4.2 225.4,-12.4 244.6,-31.6 250.8,-37.8 234.3,-54.2 234.3,-80.6" fill="none" stroke="#2a5e38" stroke-width="3.0" stroke-linejoin="round" opacity="0.95"/><polyline points="233.6,-4.2 225.4,-12.4 244.6,-31.6 250.8,-37.8 234.3,-54.2 234.3,-80.6" fill="none" stroke="#84b090" stroke-width="2.0" stroke-linejoin="round" opacity="0.95"/><polyline points="237.4,-4.2 229.2,-12.4 248.3,-31.6 254.5,-37.8 238.1,-54.2 238.1,-80.6" fill="none" stroke="#2a5e38" stroke-width="3.0" stroke-linejoin="round" opacity="0.95"/><polyline points="237.4,-4.2 229.2,-12.4 248.3,-31.6 254.5,-37.8 238.1,-54.2 238.1,-80.6" fill="none" stroke="#84b090" stroke-width="2.0" stroke-linejoin="round" opacity="0.95"/><polyline points="137.9,58.6 137.9,28.0 137.9,11.5 120.8,-5.6" fill="none" stroke="#2a5e38" stroke-width="3.0" stroke-linejoin="round" opacity="0.95"/><polyline points="137.9,58.6 137.9,28.0 137.9,11.5 120.8,-5.6" fill="none" stroke="#6a9877" stroke-width="2.0" stroke-linejoin="round" opacity="0.95"/><polyline points="141.0,58.6 141.0,28.0 141.0,11.5 124.0,-5.6" fill="none" stroke="#2a5e38" stroke-width="3.0" stroke-linejoin="round" opacity="0.95"/><polyline points="141.0,58.6 141.0,28.0 141.0,11.5 124.0,-5.6" fill="none" stroke="#6a9877" stroke-width="2.0" stroke-linejoin="round" opacity="0.95"/><polyline points="245.9,27.6 223.9,27.6 190.7,27.6" fill="none" stroke="#2a5e38" stroke-width="2.6" stroke-linejoin="round" opacity="0.95"/><polyline points="245.9,27.6 223.9,27.6 190.7,27.6" fill="none" stroke="#84b090" stroke-width="1.6" stroke-linejoin="round" opacity="0.95"/><polyline points="245.9,24.5 223.9,24.5 190.7,24.5" fill="none" stroke="#2a5e38" stroke-width="2.6" stroke-linejoin="round" opacity="0.95"/><polyline points="245.9,24.5 223.9,24.5 190.7,24.5" fill="none" stroke="#84b090" stroke-width="1.6" stroke-linejoin="round" opacity="0.95"/><polyline points="-4.4,14.0 13.6,32.1 13.6,51.0 10.6,54.0 10.6,79.5" fill="none" stroke="#2a5e38" stroke-width="3.0" stroke-linejoin="round" opacity="0.95"/><polyline points="-4.4,14.0 13.6,32.1 13.6,51.0 10.6,54.0 10.6,79.5" fill="none" stroke="#84b090" stroke-width="2.0" stroke-linejoin="round" opacity="0.95"/><polyline points="14.6,86.7 10.5,90.8 -1.0,79.4 -9.2,79.4 -21.6,66.9" fill="none" stroke="#2a5e38" stroke-width="3.0" stroke-linejoin="round" opacity="0.95"/><polyline points="14.6,86.7 10.5,90.8 -1.0,79.4 -9.2,79.4 -21.6,66.9" fill="none" stroke="#84b090" stroke-width="2.0" stroke-linejoin="round" opacity="0.95"/><polyline points="14.6,82.6 10.5,86.7 -1.0,75.2 -9.2,75.2 -21.6,62.7" fill="none" stroke="#2a5e38" stroke-width="3.0" stroke-linejoin="round" opacity="0.95"/><polyline points="14.6,82.6 10.5,86.7 -1.0,75.2 -9.2,75.2 -21.6,62.7" fill="none" stroke="#84b090" stroke-width="2.0" stroke-linejoin="round" opacity="0.95"/><polyline points="288.0,63.5 282.9,68.6 276.5,68.6 242.4,68.6 233.1,68.6 221.3,68.6" fill="none" stroke="#2a5e38" stroke-width="3.4" stroke-linejoin="round" opacity="0.95"/><polyline points="288.0,63.5 282.9,68.6 276.5,68.6 242.4,68.6 233.1,68.6 221.3,68.6" fill="none" stroke="#84b090" stroke-width="2.4" stroke-linejoin="round" opacity="0.95"/><polyline points="288.0,59.5 282.9,64.6 276.5,64.6 242.4,64.6 233.1,64.6 221.3,64.6" fill="none" stroke="#2a5e38" stroke-width="3.4" stroke-linejoin="round" opacity="0.95"/><polyline points="288.0,59.5 282.9,64.6 276.5,64.6 242.4,64.6 233.1,64.6 221.3,64.6" fill="none" stroke="#84b090" stroke-width="2.4" stroke-linejoin="round" opacity="0.95"/><polyline points="288.0,55.4 282.9,60.6 276.5,60.6 242.4,60.6 233.1,60.6 221.3,60.6" fill="none" stroke="#2a5e38" stroke-width="3.4" stroke-linejoin="round" opacity="0.95"/><polyline points="288.0,55.4 282.9,60.6 276.5,60.6 242.4,60.6 233.1,60.6 221.3,60.6" fill="none" stroke="#84b090" stroke-width="2.4" stroke-linejoin="round" opacity="0.95"/><polyline points="288.0,51.4 282.9,56.5 276.5,56.5 242.4,56.5 233.1,56.5 221.3,56.5" fill="none" stroke="#2a5e38" stroke-width="3.4" stroke-linejoin="round" opacity="0.95"/><polyline points="288.0,51.4 282.9,56.5 276.5,56.5 242.4,56.5 233.1,56.5 221.3,56.5" fill="none" stroke="#84b090" stroke-width="2.4" stroke-linejoin="round" opacity="0.95"/><polyline points="18.4,28.1 5.2,14.9 -26.9,14.9 -51.0,14.9 -64.1,28.1 -78.8,13.4" fill="none" stroke="#2a5e38" stroke-width="3.4" stroke-linejoin="round" opacity="0.95"/><polyline points="18.4,28.1 5.2,14.9 -26.9,14.9 -51.0,14.9 -64.1,28.1 -78.8,13.4" fill="none" stroke="#78a684" stroke-width="2.4" stroke-linejoin="round" opacity="0.95"/><polyline points="208.8,32.5 208.8,19.7 208.8,3.4 208.8,-28.6" fill="none" stroke="#2a5e38" stroke-width="2.2" stroke-linejoin="round" opacity="0.95"/><polyline points="208.8,32.5 208.8,19.7 208.8,3.4 208.8,-28.6" fill="none" stroke="#78a684" stroke-width="1.2" stroke-linejoin="round" opacity="0.95"/><polyline points="212.0,32.5 212.0,19.7 212.0,3.4 212.0,-28.6" fill="none" stroke="#2a5e38" stroke-width="2.2" stroke-linejoin="round" opacity="0.95"/><polyline points="212.0,32.5 212.0,19.7 212.0,3.4 212.0,-28.6" fill="none" stroke="#78a684" stroke-width="1.2" stroke-linejoin="round" opacity="0.95"/><polyline points="215.2,32.5 215.2,19.7 215.2,3.4 215.2,-28.6" fill="none" stroke="#2a5e38" stroke-width="2.2" stroke-linejoin="round" opacity="0.95"/><polyline points="215.2,32.5 215.2,19.7 215.2,3.4 215.2,-28.6" fill="none" stroke="#78a684" stroke-width="1.2" stroke-linejoin="round" opacity="0.95"/><polyline points="180.6,38.1 146.3,38.1 142.7,34.5 126.9,18.7" fill="none" stroke="#2a5e38" stroke-width="2.2" stroke-linejoin="round" opacity="0.95"/><polyline points="180.6,38.1 146.3,38.1 142.7,34.5 126.9,18.7" fill="none" stroke="#84b090" stroke-width="1.2" stroke-linejoin="round" opacity="0.95"/><polyline points="180.6,34.7 146.3,34.7 142.7,31.0 126.9,15.2" fill="none" stroke="#2a5e38" stroke-width="2.2" stroke-linejoin="round" opacity="0.95"/><polyline points="180.6,34.7 146.3,34.7 142.7,31.0 126.9,15.2" fill="none" stroke="#84b090" stroke-width="1.2" stroke-linejoin="round" opacity="0.95"/><polyline points="180.6,31.2 146.3,31.2 142.7,27.6 126.9,11.8" fill="none" stroke="#2a5e38" stroke-width="2.2" stroke-linejoin="round" opacity="0.95"/><polyline points="180.6,31.2 146.3,31.2 142.7,27.6 126.9,11.8" fill="none" stroke="#84b090" stroke-width="1.2" stroke-linejoin="round" opacity="0.95"/><polyline points="239.7,35.2 263.1,35.2 275.4,35.2" fill="none" stroke="#2a5e38" stroke-width="3.4" stroke-linejoin="round" opacity="0.95"/><polyline points="239.7,35.2 263.1,35.2 275.4,35.2" fill="none" stroke="#5a8c6a" stroke-width="2.4" stroke-linejoin="round" opacity="0.95"/><polyline points="239.7,39.1 263.1,39.1 275.4,39.1" fill="none" stroke="#2a5e38" stroke-width="3.4" stroke-linejoin="round" opacity="0.95"/><polyline points="239.7,39.1 263.1,39.1 275.4,39.1" fill="none" stroke="#5a8c6a" stroke-width="2.4" stroke-linejoin="round" opacity="0.95"/><polyline points="239.7,42.9 263.1,42.9 275.4,42.9" fill="none" stroke="#2a5e38" stroke-width="3.4" stroke-linejoin="round" opacity="0.95"/><polyline points="239.7,42.9 263.1,42.9 275.4,42.9" fill="none" stroke="#5a8c6a" stroke-width="2.4" stroke-linejoin="round" opacity="0.95"/><polyline points="142.6,55.5 142.6,16.1 142.6,-21.3 142.6,-50.1 142.6,-83.2 142.6,-109.4" fill="none" stroke="#2a5e38" stroke-width="2.2" stroke-linejoin="round" opacity="0.95"/><polyline points="142.6,55.5 142.6,16.1 142.6,-21.3 142.6,-50.1 142.6,-83.2 142.6,-109.4" fill="none" stroke="#5a8c6a" stroke-width="1.2" stroke-linejoin="round" opacity="0.95"/><polyline points="145.5,55.5 145.5,16.1 145.5,-21.3 145.5,-50.1 145.5,-83.2 145.5,-109.4" fill="none" stroke="#2a5e38" stroke-width="2.2" stroke-linejoin="round" opacity="0.95"/><polyline points="145.5,55.5 145.5,16.1 145.5,-21.3 145.5,-50.1 145.5,-83.2 145.5,-109.4" fill="none" stroke="#5a8c6a" stroke-width="1.2" stroke-linejoin="round" opacity="0.95"/><polyline points="148.5,55.5 148.5,16.1 148.5,-21.3 148.5,-50.1 148.5,-83.2 148.5,-109.4" fill="none" stroke="#2a5e38" stroke-width="2.2" stroke-linejoin="round" opacity="0.95"/><polyline points="148.5,55.5 148.5,16.1 148.5,-21.3 148.5,-50.1 148.5,-83.2 148.5,-109.4" fill="none" stroke="#5a8c6a" stroke-width="1.2" stroke-linejoin="round" opacity="0.95"/><polyline points="151.4,55.5 151.4,16.1 151.4,-21.3 151.4,-50.1 151.4,-83.2 151.4,-109.4" fill="none" stroke="#2a5e38" stroke-width="2.2" stroke-linejoin="round" opacity="0.95"/><polyline points="151.4,55.5 151.4,16.1 151.4,-21.3 151.4,-50.1 151.4,-83.2 151.4,-109.4" fill="none" stroke="#5a8c6a" stroke-width="1.2" stroke-linejoin="round" opacity="0.95"/><polyline points="154.3,55.5 154.3,16.1 154.3,-21.3 154.3,-50.1 154.3,-83.2 154.3,-109.4" fill="none" stroke="#2a5e38" stroke-width="2.2" stroke-linejoin="round" opacity="0.95"/><polyline points="154.3,55.5 154.3,16.1 154.3,-21.3 154.3,-50.1 154.3,-83.2 154.3,-109.4" fill="none" stroke="#5a8c6a" stroke-width="1.2" stroke-linejoin="round" opacity="0.95"/><polyline points="-11.1,82.9 -30.6,63.5 -30.6,55.0 -30.6,26.2 -30.6,-10.3" fill="none" stroke="#2a5e38" stroke-width="3.4" stroke-linejoin="round" opacity="0.95"/><polyline points="-11.1,82.9 -30.6,63.5 -30.6,55.0 -30.6,26.2 -30.6,-10.3" fill="none" stroke="#78a684" stroke-width="2.4" stroke-linejoin="round" opacity="0.95"/><polyline points="-7.4,82.9 -26.9,63.5 -26.9,55.0 -26.9,26.2 -26.9,-10.3" fill="none" stroke="#2a5e38" stroke-width="3.4" stroke-linejoin="round" opacity="0.95"/><polyline points="-7.4,82.9 -26.9,63.5 -26.9,55.0 -26.9,26.2 -26.9,-10.3" fill="none" stroke="#78a684" stroke-width="2.4" stroke-linejoin="round" opacity="0.95"/><polyline points="-3.7,82.9 -23.2,63.5 -23.2,55.0 -23.2,26.2 -23.2,-10.3" fill="none" stroke="#2a5e38" stroke-width="3.4" stroke-linejoin="round" opacity="0.95"/><polyline points="-3.7,82.9 -23.2,63.5 -23.2,55.0 -23.2,26.2 -23.2,-10.3" fill="none" stroke="#78a684" stroke-width="2.4" stroke-linejoin="round" opacity="0.95"/><polyline points="0.0,82.9 -19.4,63.5 -19.4,55.0 -19.4,26.2 -19.4,-10.3" fill="none" stroke="#2a5e38" stroke-width="3.4" stroke-linejoin="round" opacity="0.95"/><polyline points="0.0,82.9 -19.4,63.5 -19.4,55.0 -19.4,26.2 -19.4,-10.3" fill="none" stroke="#78a684" stroke-width="2.4" stroke-linejoin="round" opacity="0.95"/><polyline points="3.8,82.9 -15.7,63.5 -15.7,55.0 -15.7,26.2 -15.7,-10.3" fill="none" stroke="#2a5e38" stroke-width="3.4" stroke-linejoin="round" opacity="0.95"/><polyline points="3.8,82.9 -15.7,63.5 -15.7,55.0 -15.7,26.2 -15.7,-10.3" fill="none" stroke="#78a684" stroke-width="2.4" stroke-linejoin="round" opacity="0.95"/><polyline points="147.7,97.6 108.5,97.6 98.8,107.3 80.0,107.3 68.0,119.3" fill="none" stroke="#2a5e38" stroke-width="2.6" stroke-linejoin="round" opacity="0.95"/><polyline points="147.7,97.6 108.5,97.6 98.8,107.3 80.0,107.3 68.0,119.3" fill="none" stroke="#5a8c6a" stroke-width="1.6" stroke-linejoin="round" opacity="0.95"/><polyline points="147.7,94.5 108.5,94.5 98.8,104.2 80.0,104.2 68.0,116.1" fill="none" stroke="#2a5e38" stroke-width="2.6" stroke-linejoin="round" opacity="0.95"/><polyline points="147.7,94.5 108.5,94.5 98.8,104.2 80.0,104.2 68.0,116.1" fill="none" stroke="#5a8c6a" stroke-width="1.6" stroke-linejoin="round" opacity="0.95"/><polyline points="147.7,91.3 108.5,91.3 98.8,101.0 80.0,101.0 68.0,113.0" fill="none" stroke="#2a5e38" stroke-width="2.6" stroke-linejoin="round" opacity="0.95"/><polyline points="147.7,91.3 108.5,91.3 98.8,101.0 80.0,101.0 68.0,113.0" fill="none" stroke="#5a8c6a" stroke-width="1.6" stroke-linejoin="round" opacity="0.95"/><polyline points="147.7,88.2 108.5,88.2 98.8,97.9 80.0,97.9 68.0,109.8" fill="none" stroke="#2a5e38" stroke-width="2.6" stroke-linejoin="round" opacity="0.95"/><polyline points="147.7,88.2 108.5,88.2 98.8,97.9 80.0,97.9 68.0,109.8" fill="none" stroke="#5a8c6a" stroke-width="1.6" stroke-linejoin="round" opacity="0.95"/><polyline points="267.8,15.5 251.2,32.1 251.2,40.7 251.2,53.0 251.2,78.4" fill="none" stroke="#2a5e38" stroke-width="2.6" stroke-linejoin="round" opacity="0.95"/><polyline points="267.8,15.5 251.2,32.1 251.2,40.7 251.2,53.0 251.2,78.4" fill="none" stroke="#84b090" stroke-width="1.6" stroke-linejoin="round" opacity="0.95"/><polyline points="263.8,15.5 247.2,32.1 247.2,40.7 247.2,53.0 247.2,78.4" fill="none" stroke="#2a5e38" stroke-width="2.6" stroke-linejoin="round" opacity="0.95"/><polyline points="263.8,15.5 247.2,32.1 247.2,40.7 247.2,53.0 247.2,78.4" fill="none" stroke="#84b090" stroke-width="1.6" stroke-linejoin="round" opacity="0.95"/><polyline points="259.8,15.5 243.3,32.1 243.3,40.7 243.3,53.0 243.3,78.4" fill="none" stroke="#2a5e38" stroke-width="2.6" stroke-linejoin="round" opacity="0.95"/><polyline points="259.8,15.5 243.3,32.1 243.3,40.7 243.3,53.0 243.3,78.4" fill="none" stroke="#84b090" stroke-width="1.6" stroke-linejoin="round" opacity="0.95"/><polyline points="255.9,15.5 239.3,32.1 239.3,40.7 239.3,53.0 239.3,78.4" fill="none" stroke="#2a5e38" stroke-width="2.6" stroke-linejoin="round" opacity="0.95"/><polyline points="255.9,15.5 239.3,32.1 239.3,40.7 239.3,53.0 239.3,78.4" fill="none" stroke="#84b090" stroke-width="1.6" stroke-linejoin="round" opacity="0.95"/><polyline points="251.9,15.5 235.4,32.1 235.4,40.7 235.4,53.0 235.4,78.4" fill="none" stroke="#2a5e38" stroke-width="2.6" stroke-linejoin="round" opacity="0.95"/><polyline points="251.9,15.5 235.4,32.1 235.4,40.7 235.4,53.0 235.4,78.4" fill="none" stroke="#84b090" stroke-width="1.6" stroke-linejoin="round" opacity="0.95"/><polyline points="118.0,53.5 107.9,63.6 101.7,57.4 85.7,57.4 60.5,57.4" fill="none" stroke="#2a5e38" stroke-width="2.2" stroke-linejoin="round" opacity="0.95"/><polyline points="118.0,53.5 107.9,63.6 101.7,57.4 85.7,57.4 60.5,57.4" fill="none" stroke="#5a8c6a" stroke-width="1.2" stroke-linejoin="round" opacity="0.95"/><polyline points="118.0,49.8 107.9,59.9 101.7,53.7 85.7,53.7 60.5,53.7" fill="none" stroke="#2a5e38" stroke-width="2.2" stroke-linejoin="round" opacity="0.95"/><polyline points="118.0,49.8 107.9,59.9 101.7,53.7 85.7,53.7 60.5,53.7" fill="none" stroke="#5a8c6a" stroke-width="1.2" stroke-linejoin="round" opacity="0.95"/><polyline points="118.0,46.1 107.9,56.2 101.7,50.1 85.7,50.1 60.5,50.1" fill="none" stroke="#2a5e38" stroke-width="2.2" stroke-linejoin="round" opacity="0.95"/><polyline points="118.0,46.1 107.9,56.2 101.7,50.1 85.7,50.1 60.5,50.1" fill="none" stroke="#5a8c6a" stroke-width="1.2" stroke-linejoin="round" opacity="0.95"/><polyline points="-0.1,48.2 12.4,48.2 31.4,48.2 67.8,48.2 100.9,48.2" fill="none" stroke="#2a5e38" stroke-width="2.2" stroke-linejoin="round" opacity="0.95"/><polyline points="-0.1,48.2 12.4,48.2 31.4,48.2 67.8,48.2 100.9,48.2" fill="none" stroke="#78a684" stroke-width="1.2" stroke-linejoin="round" opacity="0.95"/><polyline points="10.1,8.2 41.2,8.2 74.5,8.2 111.9,8.2 139.2,8.2 143.9,3.5" fill="none" stroke="#2a5e38" stroke-width="2.6" stroke-linejoin="round" opacity="0.95"/><polyline points="10.1,8.2 41.2,8.2 74.5,8.2 111.9,8.2 139.2,8.2 143.9,3.5" fill="none" stroke="#5a8c6a" stroke-width="1.6" stroke-linejoin="round" opacity="0.95"/><polyline points="10.1,11.2 41.2,11.2 74.5,11.2 111.9,11.2 139.2,11.2 143.9,6.4" fill="none" stroke="#2a5e38" stroke-width="2.6" stroke-linejoin="round" opacity="0.95"/><polyline points="10.1,11.2 41.2,11.2 74.5,11.2 111.9,11.2 139.2,11.2 143.9,6.4" fill="none" stroke="#5a8c6a" stroke-width="1.6" stroke-linejoin="round" opacity="0.95"/><polyline points="128.8,71.7 148.6,71.7 157.9,81.1 163.2,86.4" fill="none" stroke="#2a5e38" stroke-width="3.4" stroke-linejoin="round" opacity="0.95"/><polyline points="128.8,71.7 148.6,71.7 157.9,81.1 163.2,86.4" fill="none" stroke="#6a9877" stroke-width="2.4" stroke-linejoin="round" opacity="0.95"/><polyline points="128.8,76.1 148.6,76.1 157.9,85.5 163.2,90.8" fill="none" stroke="#2a5e38" stroke-width="3.4" stroke-linejoin="round" opacity="0.95"/><polyline points="128.8,76.1 148.6,76.1 157.9,85.5 163.2,90.8" fill="none" stroke="#6a9877" stroke-width="2.4" stroke-linejoin="round" opacity="0.95"/><polyline points="128.8,80.5 148.6,80.5 157.9,89.9 163.2,95.1" fill="none" stroke="#2a5e38" stroke-width="3.4" stroke-linejoin="round" opacity="0.95"/><polyline points="128.8,80.5 148.6,80.5 157.9,89.9 163.2,95.1" fill="none" stroke="#6a9877" stroke-width="2.4" stroke-linejoin="round" opacity="0.95"/><polyline points="226.6,76.6 226.6,86.6 226.6,104.6" fill="none" stroke="#2a5e38" stroke-width="3.4" stroke-linejoin="round" opacity="0.95"/><polyline points="226.6,76.6 226.6,86.6 226.6,104.6" fill="none" stroke="#5a8c6a" stroke-width="2.4" stroke-linejoin="round" opacity="0.95"/><polyline points="223.3,76.6 223.3,86.6 223.3,104.6" fill="none" stroke="#2a5e38" stroke-width="3.4" stroke-linejoin="round" opacity="0.95"/><polyline points="223.3,76.6 223.3,86.6 223.3,104.6" fill="none" stroke="#5a8c6a" stroke-width="2.4" stroke-linejoin="round" opacity="0.95"/><polyline points="220.0,76.6 220.0,86.6 220.0,104.6" fill="none" stroke="#2a5e38" stroke-width="3.4" stroke-linejoin="round" opacity="0.95"/><polyline points="220.0,76.6 220.0,86.6 220.0,104.6" fill="none" stroke="#5a8c6a" stroke-width="2.4" stroke-linejoin="round" opacity="0.95"/><polyline points="188.5,82.0 196.5,74.0 208.3,85.8" fill="none" stroke="#2a5e38" stroke-width="2.6" stroke-linejoin="round" opacity="0.95"/><polyline points="188.5,82.0 196.5,74.0 208.3,85.8" fill="none" stroke="#6a9877" stroke-width="1.6" stroke-linejoin="round" opacity="0.95"/><polyline points="188.5,85.1 196.5,77.0 208.3,88.8" fill="none" stroke="#2a5e38" stroke-width="2.6" stroke-linejoin="round" opacity="0.95"/><polyline points="188.5,85.1 196.5,77.0 208.3,88.8" fill="none" stroke="#6a9877" stroke-width="1.6" stroke-linejoin="round" opacity="0.95"/><polyline points="68.0,1.5 68.0,-37.9 68.0,-57.1 68.0,-66.2 51.2,-83.0 60.3,-92.1" fill="none" stroke="#2a5e38" stroke-width="2.2" stroke-linejoin="round" opacity="0.95"/><polyline points="68.0,1.5 68.0,-37.9 68.0,-57.1 68.0,-66.2 51.2,-83.0 60.3,-92.1" fill="none" stroke="#84b090" stroke-width="1.2" stroke-linejoin="round" opacity="0.95"/><polyline points="71.4,1.5 71.4,-37.9 71.4,-57.1 71.4,-66.2 54.6,-83.0 63.7,-92.1" fill="none" stroke="#2a5e38" stroke-width="2.2" stroke-linejoin="round" opacity="0.95"/><polyline points="71.4,1.5 71.4,-37.9 71.4,-57.1 71.4,-66.2 54.6,-83.0 63.7,-92.1" fill="none" stroke="#84b090" stroke-width="1.2" stroke-linejoin="round" opacity="0.95"/><polyline points="74.8,1.5 74.8,-37.9 74.8,-57.1 74.8,-66.2 58.0,-83.0 67.1,-92.1" fill="none" stroke="#2a5e38" stroke-width="2.2" stroke-linejoin="round" opacity="0.95"/><polyline points="74.8,1.5 74.8,-37.9 74.8,-57.1 74.8,-66.2 58.0,-83.0 67.1,-92.1" fill="none" stroke="#84b090" stroke-width="1.2" stroke-linejoin="round" opacity="0.95"/><polyline points="78.2,1.5 78.2,-37.9 78.2,-57.1 78.2,-66.2 61.4,-83.0 70.6,-92.1" fill="none" stroke="#2a5e38" stroke-width="2.2" stroke-linejoin="round" opacity="0.95"/><polyline points="78.2,1.5 78.2,-37.9 78.2,-57.1 78.2,-66.2 61.4,-83.0 70.6,-92.1" fill="none" stroke="#84b090" stroke-width="1.2" stroke-linejoin="round" opacity="0.95"/><polyline points="81.6,1.5 81.6,-37.9 81.6,-57.1 81.6,-66.2 64.8,-83.0 74.0,-92.1" fill="none" stroke="#2a5e38" stroke-width="2.2" stroke-linejoin="round" opacity="0.95"/><polyline points="81.6,1.5 81.6,-37.9 81.6,-57.1 81.6,-66.2 64.8,-83.0 74.0,-92.1" fill="none" stroke="#84b090" stroke-width="1.2" stroke-linejoin="round" opacity="0.95"/><polyline points="-2.8,16.3 8.3,5.2 8.3,-21.1" fill="none" stroke="#2a5e38" stroke-width="2.6" stroke-linejoin="round" opacity="0.95"/><polyline points="-2.8,16.3 8.3,5.2 8.3,-21.1" fill="none" stroke="#6a9877" stroke-width="1.6" stroke-linejoin="round" opacity="0.95"/><polyline points="0.8,16.3 11.8,5.2 11.8,-21.1" fill="none" stroke="#2a5e38" stroke-width="2.6" stroke-linejoin="round" opacity="0.95"/><polyline points="0.8,16.3 11.8,5.2 11.8,-21.1" fill="none" stroke="#6a9877" stroke-width="1.6" stroke-linejoin="round" opacity="0.95"/><polyline points="4.3,16.3 15.3,5.2 15.3,-21.1" fill="none" stroke="#2a5e38" stroke-width="2.6" stroke-linejoin="round" opacity="0.95"/><polyline points="4.3,16.3 15.3,5.2 15.3,-21.1" fill="none" stroke="#6a9877" stroke-width="1.6" stroke-linejoin="round" opacity="0.95"/><polyline points="7.8,16.3 18.8,5.2 18.8,-21.1" fill="none" stroke="#2a5e38" stroke-width="2.6" stroke-linejoin="round" opacity="0.95"/><polyline points="7.8,16.3 18.8,5.2 18.8,-21.1" fill="none" stroke="#6a9877" stroke-width="1.6" stroke-linejoin="round" opacity="0.95"/><polyline points="107.4,83.5 107.4,70.2 107.4,39.6" fill="none" stroke="#2a5e38" stroke-width="2.2" stroke-linejoin="round" opacity="0.95"/><polyline points="107.4,83.5 107.4,70.2 107.4,39.6" fill="none" stroke="#84b090" stroke-width="1.2" stroke-linejoin="round" opacity="0.95"/><polyline points="111.8,83.5 111.8,70.2 111.8,39.6" fill="none" stroke="#2a5e38" stroke-width="2.2" stroke-linejoin="round" opacity="0.95"/><polyline points="111.8,83.5 111.8,70.2 111.8,39.6" fill="none" stroke="#84b090" stroke-width="1.2" stroke-linejoin="round" opacity="0.95"/><polyline points="116.1,83.5 116.1,70.2 116.1,39.6" fill="none" stroke="#2a5e38" stroke-width="2.2" stroke-linejoin="round" opacity="0.95"/><polyline points="116.1,83.5 116.1,70.2 116.1,39.6" fill="none" stroke="#84b090" stroke-width="1.2" stroke-linejoin="round" opacity="0.95"/><polyline points="120.4,83.5 120.4,70.2 120.4,39.6" fill="none" stroke="#2a5e38" stroke-width="2.2" stroke-linejoin="round" opacity="0.95"/><polyline points="120.4,83.5 120.4,70.2 120.4,39.6" fill="none" stroke="#84b090" stroke-width="1.2" stroke-linejoin="round" opacity="0.95"/><polyline points="304.2,80.8 296.0,89.0 315.9,108.9 322.2,115.1" fill="none" stroke="#2a5e38" stroke-width="2.6" stroke-linejoin="round" opacity="0.95"/><polyline points="304.2,80.8 296.0,89.0 315.9,108.9 322.2,115.1" fill="none" stroke="#6a9877" stroke-width="1.6" stroke-linejoin="round" opacity="0.95"/><polyline points="301.7,80.8 293.5,89.0 313.4,108.9 319.7,115.1" fill="none" stroke="#2a5e38" stroke-width="2.6" stroke-linejoin="round" opacity="0.95"/><polyline points="301.7,80.8 293.5,89.0 313.4,108.9 319.7,115.1" fill="none" stroke="#6a9877" stroke-width="1.6" stroke-linejoin="round" opacity="0.95"/><polyline points="299.2,80.8 291.0,89.0 310.9,108.9 317.2,115.1" fill="none" stroke="#2a5e38" stroke-width="2.6" stroke-linejoin="round" opacity="0.95"/><polyline points="299.2,80.8 291.0,89.0 310.9,108.9 317.2,115.1" fill="none" stroke="#6a9877" stroke-width="1.6" stroke-linejoin="round" opacity="0.95"/><polyline points="226.0,-0.8 226.0,-37.3 232.3,-43.6" fill="none" stroke="#2a5e38" stroke-width="3.4" stroke-linejoin="round" opacity="0.95"/><polyline points="226.0,-0.8 226.0,-37.3 232.3,-43.6" fill="none" stroke="#78a684" stroke-width="2.4" stroke-linejoin="round" opacity="0.95"/><polyline points="229.7,-0.8 229.7,-37.3 236.0,-43.6" fill="none" stroke="#2a5e38" stroke-width="3.4" stroke-linejoin="round" opacity="0.95"/><polyline points="229.7,-0.8 229.7,-37.3 236.0,-43.6" fill="none" stroke="#78a684" stroke-width="2.4" stroke-linejoin="round" opacity="0.95"/><polyline points="233.4,-0.8 233.4,-37.3 239.7,-43.6" fill="none" stroke="#2a5e38" stroke-width="3.4" stroke-linejoin="round" opacity="0.95"/><polyline points="233.4,-0.8 233.4,-37.3 239.7,-43.6" fill="none" stroke="#78a684" stroke-width="2.4" stroke-linejoin="round" opacity="0.95"/><polyline points="56.8,100.5 69.0,100.5 84.1,100.5" fill="none" stroke="#2a5e38" stroke-width="2.6" stroke-linejoin="round" opacity="0.95"/><polyline points="56.8,100.5 69.0,100.5 84.1,100.5" fill="none" stroke="#78a684" stroke-width="1.6" stroke-linejoin="round" opacity="0.95"/><polyline points="56.8,103.7 69.0,103.7 84.1,103.7" fill="none" stroke="#2a5e38" stroke-width="2.6" stroke-linejoin="round" opacity="0.95"/><polyline points="56.8,103.7 69.0,103.7 84.1,103.7" fill="none" stroke="#78a684" stroke-width="1.6" stroke-linejoin="round" opacity="0.95"/><polyline points="56.8,106.9 69.0,106.9 84.1,106.9" fill="none" stroke="#2a5e38" stroke-width="2.6" stroke-linejoin="round" opacity="0.95"/><polyline points="56.8,106.9 69.0,106.9 84.1,106.9" fill="none" stroke="#78a684" stroke-width="1.6" stroke-linejoin="round" opacity="0.95"/><polyline points="75.3,97.6 85.1,97.6 103.9,97.6 126.1,97.6 145.5,78.2" fill="none" stroke="#2a5e38" stroke-width="3.4" stroke-linejoin="round" opacity="0.95"/><polyline points="75.3,97.6 85.1,97.6 103.9,97.6 126.1,97.6 145.5,78.2" fill="none" stroke="#6a9877" stroke-width="2.4" stroke-linejoin="round" opacity="0.95"/><polyline points="75.3,100.2 85.1,100.2 103.9,100.2 126.1,100.2 145.5,80.8" fill="none" stroke="#2a5e38" stroke-width="3.4" stroke-linejoin="round" opacity="0.95"/><polyline points="75.3,100.2 85.1,100.2 103.9,100.2 126.1,100.2 145.5,80.8" fill="none" stroke="#6a9877" stroke-width="2.4" stroke-linejoin="round" opacity="0.95"/><polyline points="75.3,102.7 85.1,102.7 103.9,102.7 126.1,102.7 145.5,83.3" fill="none" stroke="#2a5e38" stroke-width="3.4" stroke-linejoin="round" opacity="0.95"/><polyline points="75.3,102.7 85.1,102.7 103.9,102.7 126.1,102.7 145.5,83.3" fill="none" stroke="#6a9877" stroke-width="2.4" stroke-linejoin="round" opacity="0.95"/><polyline points="23.4,47.8 26.6,44.5 49.8,44.5" fill="none" stroke="#2a5e38" stroke-width="2.2" stroke-linejoin="round" opacity="0.95"/><polyline points="23.4,47.8 26.6,44.5 49.8,44.5" fill="none" stroke="#78a684" stroke-width="1.2" stroke-linejoin="round" opacity="0.95"/><polyline points="23.4,50.4 26.6,47.1 49.8,47.1" fill="none" stroke="#2a5e38" stroke-width="2.2" stroke-linejoin="round" opacity="0.95"/><polyline points="23.4,50.4 26.6,47.1 49.8,47.1" fill="none" stroke="#78a684" stroke-width="1.2" stroke-linejoin="round" opacity="0.95"/><polyline points="23.4,53.0 26.6,49.8 49.8,49.8" fill="none" stroke="#2a5e38" stroke-width="2.2" stroke-linejoin="round" opacity="0.95"/><polyline points="23.4,53.0 26.6,49.8 49.8,49.8" fill="none" stroke="#78a684" stroke-width="1.2" stroke-linejoin="round" opacity="0.95"/><polyline points="204.6,96.2 215.1,85.7 252.6,85.7 276.6,85.7 314.4,85.7" fill="none" stroke="#2a5e38" stroke-width="2.2" stroke-linejoin="round" opacity="0.95"/><polyline points="204.6,96.2 215.1,85.7 252.6,85.7 276.6,85.7 314.4,85.7" fill="none" stroke="#78a684" stroke-width="1.2" stroke-linejoin="round" opacity="0.95"/><polyline points="204.6,99.3 215.1,88.8 252.6,88.8 276.6,88.8 314.4,88.8" fill="none" stroke="#2a5e38" stroke-width="2.2" stroke-linejoin="round" opacity="0.95"/><polyline points="204.6,99.3 215.1,88.8 252.6,88.8 276.6,88.8 314.4,88.8" fill="none" stroke="#78a684" stroke-width="1.2" stroke-linejoin="round" opacity="0.95"/><polyline points="204.6,102.4 215.1,91.9 252.6,91.9 276.6,91.9 314.4,91.9" fill="none" stroke="#2a5e38" stroke-width="2.2" stroke-linejoin="round" opacity="0.95"/><polyline points="204.6,102.4 215.1,91.9 252.6,91.9 276.6,91.9 314.4,91.9" fill="none" stroke="#78a684" stroke-width="1.2" stroke-linejoin="round" opacity="0.95"/><polyline points="204.6,105.5 215.1,95.0 252.6,95.0 276.6,95.0 314.4,95.0" fill="none" stroke="#2a5e38" stroke-width="2.2" stroke-linejoin="round" opacity="0.95"/><polyline points="204.6,105.5 215.1,95.0 252.6,95.0 276.6,95.0 314.4,95.0" fill="none" stroke="#78a684" stroke-width="1.2" stroke-linejoin="round" opacity="0.95"/><polyline points="189.2,-3.4 179.8,-3.4 146.1,-3.4 126.2,-3.4 122.1,-7.4 109.4,-20.1" fill="none" stroke="#2a5e38" stroke-width="3.0" stroke-linejoin="round" opacity="0.95"/><polyline points="189.2,-3.4 179.8,-3.4 146.1,-3.4 126.2,-3.4 122.1,-7.4 109.4,-20.1" fill="none" stroke="#78a684" stroke-width="2.0" stroke-linejoin="round" opacity="0.95"/><polyline points="294.0,21.6 294.0,54.3 294.0,69.2 294.0,96.5 307.7,110.1 307.7,136.3" fill="none" stroke="#2a5e38" stroke-width="3.0" stroke-linejoin="round" opacity="0.95"/><polyline points="294.0,21.6 294.0,54.3 294.0,69.2 294.0,96.5 307.7,110.1 307.7,136.3" fill="none" stroke="#6a9877" stroke-width="2.0" stroke-linejoin="round" opacity="0.95"/><polyline points="290.3,21.6 290.3,54.3 290.3,69.2 290.3,96.5 304.0,110.1 304.0,136.3" fill="none" stroke="#2a5e38" stroke-width="3.0" stroke-linejoin="round" opacity="0.95"/><polyline points="290.3,21.6 290.3,54.3 290.3,69.2 290.3,96.5 304.0,110.1 304.0,136.3" fill="none" stroke="#6a9877" stroke-width="2.0" stroke-linejoin="round" opacity="0.95"/><polyline points="162.1,-8.8 191.0,-8.8 197.9,-8.8 217.9,-8.8 239.0,-8.8 263.2,-8.8" fill="none" stroke="#2a5e38" stroke-width="2.2" stroke-linejoin="round" opacity="0.95"/><polyline points="162.1,-8.8 191.0,-8.8 197.9,-8.8 217.9,-8.8 239.0,-8.8 263.2,-8.8" fill="none" stroke="#6a9877" stroke-width="1.2" stroke-linejoin="round" opacity="0.95"/><polyline points="1.7,45.3 11.8,45.3 19.2,37.9 37.1,55.8 48.0,44.9" fill="none" stroke="#2a5e38" stroke-width="3.4" stroke-linejoin="round" opacity="0.95"/><polyline points="1.7,45.3 11.8,45.3 19.2,37.9 37.1,55.8 48.0,44.9" fill="none" stroke="#78a684" stroke-width="2.4" stroke-linejoin="round" opacity="0.95"/><polyline points="1.7,48.4 11.8,48.4 19.2,41.0 37.1,59.0 48.0,48.0" fill="none" stroke="#2a5e38" stroke-width="3.4" stroke-linejoin="round" opacity="0.95"/><polyline points="1.7,48.4 11.8,48.4 19.2,41.0 37.1,59.0 48.0,48.0" fill="none" stroke="#78a684" stroke-width="2.4" stroke-linejoin="round" opacity="0.95"/><polyline points="1.7,51.5 11.8,51.5 19.2,44.1 37.1,62.1 48.0,51.2" fill="none" stroke="#2a5e38" stroke-width="3.4" stroke-linejoin="round" opacity="0.95"/><polyline points="1.7,51.5 11.8,51.5 19.2,44.1 37.1,62.1 48.0,51.2" fill="none" stroke="#78a684" stroke-width="2.4" stroke-linejoin="round" opacity="0.95"/><polyline points="8.6,32.4 29.5,32.4 39.2,42.1 51.0,42.1 69.9,23.2 75.4,28.6" fill="none" stroke="#2a5e38" stroke-width="2.6" stroke-linejoin="round" opacity="0.95"/><polyline points="8.6,32.4 29.5,32.4 39.2,42.1 51.0,42.1 69.9,23.2 75.4,28.6" fill="none" stroke="#78a684" stroke-width="1.6" stroke-linejoin="round" opacity="0.95"/><polyline points="8.6,35.9 29.5,35.9 39.2,45.6 51.0,45.6 69.9,26.7 75.4,32.2" fill="none" stroke="#2a5e38" stroke-width="2.6" stroke-linejoin="round" opacity="0.95"/><polyline points="8.6,35.9 29.5,35.9 39.2,45.6 51.0,45.6 69.9,26.7 75.4,32.2" fill="none" stroke="#78a684" stroke-width="1.6" stroke-linejoin="round" opacity="0.95"/><polyline points="8.6,39.5 29.5,39.5 39.2,49.2 51.0,49.2 69.9,30.3 75.4,35.8" fill="none" stroke="#2a5e38" stroke-width="2.6" stroke-linejoin="round" opacity="0.95"/><polyline points="8.6,39.5 29.5,39.5 39.2,49.2 51.0,49.2 69.9,30.3 75.4,35.8" fill="none" stroke="#78a684" stroke-width="1.6" stroke-linejoin="round" opacity="0.95"/><polyline points="8.6,43.1 29.5,43.1 39.2,52.8 51.0,52.8 69.9,33.9 75.4,39.4" fill="none" stroke="#2a5e38" stroke-width="2.6" stroke-linejoin="round" opacity="0.95"/><polyline points="8.6,43.1 29.5,43.1 39.2,52.8 51.0,52.8 69.9,33.9 75.4,39.4" fill="none" stroke="#78a684" stroke-width="1.6" stroke-linejoin="round" opacity="0.95"/><polyline points="8.6,46.7 29.5,46.7 39.2,56.4 51.0,56.4 69.9,37.5 75.4,42.9" fill="none" stroke="#2a5e38" stroke-width="2.6" stroke-linejoin="round" opacity="0.95"/><polyline points="8.6,46.7 29.5,46.7 39.2,56.4 51.0,56.4 69.9,37.5 75.4,42.9" fill="none" stroke="#78a684" stroke-width="1.6" stroke-linejoin="round" opacity="0.95"/><polyline points="194.9,40.4 202.9,48.4 202.9,68.8 202.9,92.4 187.9,107.5" fill="none" stroke="#2a5e38" stroke-width="3.0" stroke-linejoin="round" opacity="0.95"/><polyline points="194.9,40.4 202.9,48.4 202.9,68.8 202.9,92.4 187.9,107.5" fill="none" stroke="#6a9877" stroke-width="2.0" stroke-linejoin="round" opacity="0.95"/><polyline points="254.0,60.0 259.9,65.9 269.3,65.9 287.3,83.9 317.7,83.9 335.5,101.7" fill="none" stroke="#2a5e38" stroke-width="3.4" stroke-linejoin="round" opacity="0.95"/><polyline points="254.0,60.0 259.9,65.9 269.3,65.9 287.3,83.9 317.7,83.9 335.5,101.7" fill="none" stroke="#6a9877" stroke-width="2.4" stroke-linejoin="round" opacity="0.95"/><polyline points="13.8,40.0 6.9,40.0 -1.0,47.9 -38.8,47.9 -49.7,37.0 -59.6,37.0" fill="none" stroke="#2a5e38" stroke-width="3.4" stroke-linejoin="round" opacity="0.95"/><polyline points="13.8,40.0 6.9,40.0 -1.0,47.9 -38.8,47.9 -49.7,37.0 -59.6,37.0" fill="none" stroke="#84b090" stroke-width="2.4" stroke-linejoin="round" opacity="0.95"/><polyline points="17.3,26.8 17.3,19.5 -2.4,-0.2 -21.0,-18.8 -15.7,-24.2 -15.7,-40.6" fill="none" stroke="#2a5e38" stroke-width="3.0" stroke-linejoin="round" opacity="0.95"/><polyline points="17.3,26.8 17.3,19.5 -2.4,-0.2 -21.0,-18.8 -15.7,-24.2 -15.7,-40.6" fill="none" stroke="#5a8c6a" stroke-width="2.0" stroke-linejoin="round" opacity="0.95"/><polyline points="21.0,26.8 21.0,19.5 1.4,-0.2 -17.3,-18.8 -11.9,-24.2 -11.9,-40.6" fill="none" stroke="#2a5e38" stroke-width="3.0" stroke-linejoin="round" opacity="0.95"/><polyline points="21.0,26.8 21.0,19.5 1.4,-0.2 -17.3,-18.8 -11.9,-24.2 -11.9,-40.6" fill="none" stroke="#5a8c6a" stroke-width="2.0" stroke-linejoin="round" opacity="0.95"/><polyline points="24.8,26.8 24.8,19.5 5.1,-0.2 -13.5,-18.8 -8.1,-24.2 -8.1,-40.6" fill="none" stroke="#2a5e38" stroke-width="3.0" stroke-linejoin="round" opacity="0.95"/><polyline points="24.8,26.8 24.8,19.5 5.1,-0.2 -13.5,-18.8 -8.1,-24.2 -8.1,-40.6" fill="none" stroke="#5a8c6a" stroke-width="2.0" stroke-linejoin="round" opacity="0.95"/><polyline points="28.6,26.8 28.6,19.5 8.9,-0.2 -9.7,-18.8 -4.3,-24.2 -4.3,-40.6" fill="none" stroke="#2a5e38" stroke-width="3.0" stroke-linejoin="round" opacity="0.95"/><polyline points="28.6,26.8 28.6,19.5 8.9,-0.2 -9.7,-18.8 -4.3,-24.2 -4.3,-40.6" fill="none" stroke="#5a8c6a" stroke-width="2.0" stroke-linejoin="round" opacity="0.95"/><polyline points="32.4,26.8 32.4,19.5 12.7,-0.2 -5.9,-18.8 -0.6,-24.2 -0.6,-40.6" fill="none" stroke="#2a5e38" stroke-width="3.0" stroke-linejoin="round" opacity="0.95"/><polyline points="32.4,26.8 32.4,19.5 12.7,-0.2 -5.9,-18.8 -0.6,-24.2 -0.6,-40.6" fill="none" stroke="#5a8c6a" stroke-width="2.0" stroke-linejoin="round" opacity="0.95"/><polyline points="33.9,65.5 33.9,45.8 33.9,36.4 33.9,14.9 33.9,-17.3 26.9,-24.3" fill="none" stroke="#2a5e38" stroke-width="2.6" stroke-linejoin="round" opacity="0.95"/><polyline points="33.9,65.5 33.9,45.8 33.9,36.4 33.9,14.9 33.9,-17.3 26.9,-24.3" fill="none" stroke="#84b090" stroke-width="1.6" stroke-linejoin="round" opacity="0.95"/><polyline points="36.9,65.5 36.9,45.8 36.9,36.4 36.9,14.9 36.9,-17.3 29.9,-24.3" fill="none" stroke="#2a5e38" stroke-width="2.6" stroke-linejoin="round" opacity="0.95"/><polyline points="36.9,65.5 36.9,45.8 36.9,36.4 36.9,14.9 36.9,-17.3 29.9,-24.3" fill="none" stroke="#84b090" stroke-width="1.6" stroke-linejoin="round" opacity="0.95"/><polyline points="39.9,65.5 39.9,45.8 39.9,36.4 39.9,14.9 39.9,-17.3 32.9,-24.3" fill="none" stroke="#2a5e38" stroke-width="2.6" stroke-linejoin="round" opacity="0.95"/><polyline points="39.9,65.5 39.9,45.8 39.9,36.4 39.9,14.9 39.9,-17.3 32.9,-24.3" fill="none" stroke="#84b090" stroke-width="1.6" stroke-linejoin="round" opacity="0.95"/><polyline points="42.9,65.5 42.9,45.8 42.9,36.4 42.9,14.9 42.9,-17.3 35.9,-24.3" fill="none" stroke="#2a5e38" stroke-width="2.6" stroke-linejoin="round" opacity="0.95"/><polyline points="42.9,65.5 42.9,45.8 42.9,36.4 42.9,14.9 42.9,-17.3 35.9,-24.3" fill="none" stroke="#84b090" stroke-width="1.6" stroke-linejoin="round" opacity="0.95"/><polyline points="240.2,47.9 240.2,75.2 240.2,99.7 246.7,106.2 246.7,133.9" fill="none" stroke="#2a5e38" stroke-width="3.0" stroke-linejoin="round" opacity="0.95"/><polyline points="240.2,47.9 240.2,75.2 240.2,99.7 246.7,106.2 246.7,133.9" fill="none" stroke="#5a8c6a" stroke-width="2.0" stroke-linejoin="round" opacity="0.95"/><polyline points="235.9,47.9 235.9,75.2 235.9,99.7 242.4,106.2 242.4,133.9" fill="none" stroke="#2a5e38" stroke-width="3.0" stroke-linejoin="round" opacity="0.95"/><polyline points="235.9,47.9 235.9,75.2 235.9,99.7 242.4,106.2 242.4,133.9" fill="none" stroke="#5a8c6a" stroke-width="2.0" stroke-linejoin="round" opacity="0.95"/><polyline points="231.5,47.9 231.5,75.2 231.5,99.7 238.1,106.2 238.1,133.9" fill="none" stroke="#2a5e38" stroke-width="3.0" stroke-linejoin="round" opacity="0.95"/><polyline points="231.5,47.9 231.5,75.2 231.5,99.7 238.1,106.2 238.1,133.9" fill="none" stroke="#5a8c6a" stroke-width="2.0" stroke-linejoin="round" opacity="0.95"/><polyline points="227.2,47.9 227.2,75.2 227.2,99.7 233.7,106.2 233.7,133.9" fill="none" stroke="#2a5e38" stroke-width="3.0" stroke-linejoin="round" opacity="0.95"/><polyline points="227.2,47.9 227.2,75.2 227.2,99.7 233.7,106.2 233.7,133.9" fill="none" stroke="#5a8c6a" stroke-width="2.0" stroke-linejoin="round" opacity="0.95"/><polyline points="222.9,47.9 222.9,75.2 222.9,99.7 229.4,106.2 229.4,133.9" fill="none" stroke="#2a5e38" stroke-width="3.0" stroke-linejoin="round" opacity="0.95"/><polyline points="222.9,47.9 222.9,75.2 222.9,99.7 229.4,106.2 229.4,133.9" fill="none" stroke="#5a8c6a" stroke-width="2.0" stroke-linejoin="round" opacity="0.95"/><polyline points="-1.2,24.7 -1.2,4.6 -1.2,-5.8 -1.2,-37.5 -1.2,-43.6" fill="none" stroke="#2a5e38" stroke-width="3.0" stroke-linejoin="round" opacity="0.95"/><polyline points="-1.2,24.7 -1.2,4.6 -1.2,-5.8 -1.2,-37.5 -1.2,-43.6" fill="none" stroke="#84b090" stroke-width="2.0" stroke-linejoin="round" opacity="0.95"/><polyline points="3.2,24.7 3.2,4.6 3.2,-5.8 3.2,-37.5 3.2,-43.6" fill="none" stroke="#2a5e38" stroke-width="3.0" stroke-linejoin="round" opacity="0.95"/><polyline points="3.2,24.7 3.2,4.6 3.2,-5.8 3.2,-37.5 3.2,-43.6" fill="none" stroke="#84b090" stroke-width="2.0" stroke-linejoin="round" opacity="0.95"/><polyline points="7.6,24.7 7.6,4.6 7.6,-5.8 7.6,-37.5 7.6,-43.6" fill="none" stroke="#2a5e38" stroke-width="3.0" stroke-linejoin="round" opacity="0.95"/><polyline points="7.6,24.7 7.6,4.6 7.6,-5.8 7.6,-37.5 7.6,-43.6" fill="none" stroke="#84b090" stroke-width="2.0" stroke-linejoin="round" opacity="0.95"/><polyline points="116.6,90.6 116.6,53.5 116.6,36.4 133.0,19.9 133.0,-8.2" fill="none" stroke="#2a5e38" stroke-width="2.2" stroke-linejoin="round" opacity="0.95"/><polyline points="116.6,90.6 116.6,53.5 116.6,36.4 133.0,19.9 133.0,-8.2" fill="none" stroke="#5a8c6a" stroke-width="1.2" stroke-linejoin="round" opacity="0.95"/><polyline points="120.6,90.6 120.6,53.5 120.6,36.4 137.0,19.9 137.0,-8.2" fill="none" stroke="#2a5e38" stroke-width="2.2" stroke-linejoin="round" opacity="0.95"/><polyline points="120.6,90.6 120.6,53.5 120.6,36.4 137.0,19.9 137.0,-8.2" fill="none" stroke="#5a8c6a" stroke-width="1.2" stroke-linejoin="round" opacity="0.95"/><polyline points="124.6,90.6 124.6,53.5 124.6,36.4 141.1,19.9 141.1,-8.2" fill="none" stroke="#2a5e38" stroke-width="2.2" stroke-linejoin="round" opacity="0.95"/><polyline points="124.6,90.6 124.6,53.5 124.6,36.4 141.1,19.9 141.1,-8.2" fill="none" stroke="#5a8c6a" stroke-width="1.2" stroke-linejoin="round" opacity="0.95"/><polyline points="128.7,90.6 128.7,53.5 128.7,36.4 145.1,19.9 145.1,-8.2" fill="none" stroke="#2a5e38" stroke-width="2.2" stroke-linejoin="round" opacity="0.95"/><polyline points="128.7,90.6 128.7,53.5 128.7,36.4 145.1,19.9 145.1,-8.2" fill="none" stroke="#5a8c6a" stroke-width="1.2" stroke-linejoin="round" opacity="0.95"/><polyline points="53.8,-9.8 59.7,-15.6 88.3,-15.6 97.8,-15.6" fill="none" stroke="#2a5e38" stroke-width="2.6" stroke-linejoin="round" opacity="0.95"/><polyline points="53.8,-9.8 59.7,-15.6 88.3,-15.6 97.8,-15.6" fill="none" stroke="#6a9877" stroke-width="1.6" stroke-linejoin="round" opacity="0.95"/><polyline points="53.8,-6.0 59.7,-11.8 88.3,-11.8 97.8,-11.8" fill="none" stroke="#2a5e38" stroke-width="2.6" stroke-linejoin="round" opacity="0.95"/><polyline points="53.8,-6.0 59.7,-11.8 88.3,-11.8 97.8,-11.8" fill="none" stroke="#6a9877" stroke-width="1.6" stroke-linejoin="round" opacity="0.95"/><polyline points="193.1,59.8 180.2,72.7 180.2,91.4 180.2,123.2 194.8,137.8 206.9,149.8" fill="none" stroke="#2a5e38" stroke-width="2.6" stroke-linejoin="round" opacity="0.95"/><polyline points="193.1,59.8 180.2,72.7 180.2,91.4 180.2,123.2 194.8,137.8 206.9,149.8" fill="none" stroke="#78a684" stroke-width="1.6" stroke-linejoin="round" opacity="0.95"/><polyline points="14.5,45.0 14.5,22.8 14.5,16.0 14.5,-16.1 14.5,-50.5 14.5,-80.9" fill="none" stroke="#2a5e38" stroke-width="2.6" stroke-linejoin="round" opacity="0.95"/><polyline points="14.5,45.0 14.5,22.8 14.5,16.0 14.5,-16.1 14.5,-50.5 14.5,-80.9" fill="none" stroke="#84b090" stroke-width="1.6" stroke-linejoin="round" opacity="0.95"/><polyline points="17.4,45.0 17.4,22.8 17.4,16.0 17.4,-16.1 17.4,-50.5 17.4,-80.9" fill="none" stroke="#2a5e38" stroke-width="2.6" stroke-linejoin="round" opacity="0.95"/><polyline points="17.4,45.0 17.4,22.8 17.4,16.0 17.4,-16.1 17.4,-50.5 17.4,-80.9" fill="none" stroke="#84b090" stroke-width="1.6" stroke-linejoin="round" opacity="0.95"/><polyline points="20.3,45.0 20.3,22.8 20.3,16.0 20.3,-16.1 20.3,-50.5 20.3,-80.9" fill="none" stroke="#2a5e38" stroke-width="2.6" stroke-linejoin="round" opacity="0.95"/><polyline points="20.3,45.0 20.3,22.8 20.3,16.0 20.3,-16.1 20.3,-50.5 20.3,-80.9" fill="none" stroke="#84b090" stroke-width="1.6" stroke-linejoin="round" opacity="0.95"/><polyline points="23.2,45.0 23.2,22.8 23.2,16.0 23.2,-16.1 23.2,-50.5 23.2,-80.9" fill="none" stroke="#2a5e38" stroke-width="2.6" stroke-linejoin="round" opacity="0.95"/><polyline points="23.2,45.0 23.2,22.8 23.2,16.0 23.2,-16.1 23.2,-50.5 23.2,-80.9" fill="none" stroke="#84b090" stroke-width="1.6" stroke-linejoin="round" opacity="0.95"/><polyline points="26.1,45.0 26.1,22.8 26.1,16.0 26.1,-16.1 26.1,-50.5 26.1,-80.9" fill="none" stroke="#2a5e38" stroke-width="2.6" stroke-linejoin="round" opacity="0.95"/><polyline points="26.1,45.0 26.1,22.8 26.1,16.0 26.1,-16.1 26.1,-50.5 26.1,-80.9" fill="none" stroke="#84b090" stroke-width="1.6" stroke-linejoin="round" opacity="0.95"/><polyline points="294.2,73.6 270.1,73.6 258.2,73.6" fill="none" stroke="#2a5e38" stroke-width="2.6" stroke-linejoin="round" opacity="0.95"/><polyline points="294.2,73.6 270.1,73.6 258.2,73.6" fill="none" stroke="#5a8c6a" stroke-width="1.6" stroke-linejoin="round" opacity="0.95"/><polyline points="216.5,36.7 180.1,36.7 166.7,36.7" fill="none" stroke="#2a5e38" stroke-width="3.0" stroke-linejoin="round" opacity="0.95"/><polyline points="216.5,36.7 180.1,36.7 166.7,36.7" fill="none" stroke="#6a9877" stroke-width="2.0" stroke-linejoin="round" opacity="0.95"/><polyline points="216.5,33.9 180.1,33.9 166.7,33.9" fill="none" stroke="#2a5e38" stroke-width="3.0" stroke-linejoin="round" opacity="0.95"/><polyline points="216.5,33.9 180.1,33.9 166.7,33.9" fill="none" stroke="#6a9877" stroke-width="2.0" stroke-linejoin="round" opacity="0.95"/><polyline points="216.5,31.1 180.1,31.1 166.7,31.1" fill="none" stroke="#2a5e38" stroke-width="3.0" stroke-linejoin="round" opacity="0.95"/><polyline points="216.5,31.1 180.1,31.1 166.7,31.1" fill="none" stroke="#6a9877" stroke-width="2.0" stroke-linejoin="round" opacity="0.95"/><polyline points="216.5,28.3 180.1,28.3 166.7,28.3" fill="none" stroke="#2a5e38" stroke-width="3.0" stroke-linejoin="round" opacity="0.95"/><polyline points="216.5,28.3 180.1,28.3 166.7,28.3" fill="none" stroke="#6a9877" stroke-width="2.0" stroke-linejoin="round" opacity="0.95"/><polyline points="127.9,82.2 127.9,117.8 127.9,150.8" fill="none" stroke="#2a5e38" stroke-width="2.6" stroke-linejoin="round" opacity="0.95"/><polyline points="127.9,82.2 127.9,117.8 127.9,150.8" fill="none" stroke="#84b090" stroke-width="1.6" stroke-linejoin="round" opacity="0.95"/><polyline points="123.6,82.2 123.6,117.8 123.6,150.8" fill="none" stroke="#2a5e38" stroke-width="2.6" stroke-linejoin="round" opacity="0.95"/><polyline points="123.6,82.2 123.6,117.8 123.6,150.8" fill="none" stroke="#84b090" stroke-width="1.6" stroke-linejoin="round" opacity="0.95"/><polyline points="119.3,82.2 119.3,117.8 119.3,150.8" fill="none" stroke="#2a5e38" stroke-width="2.6" stroke-linejoin="round" opacity="0.95"/><polyline points="119.3,82.2 119.3,117.8 119.3,150.8" fill="none" stroke="#84b090" stroke-width="1.6" stroke-linejoin="round" opacity="0.95"/><polyline points="115.1,82.2 115.1,117.8 115.1,150.8" fill="none" stroke="#2a5e38" stroke-width="2.6" stroke-linejoin="round" opacity="0.95"/><polyline points="115.1,82.2 115.1,117.8 115.1,150.8" fill="none" stroke="#84b090" stroke-width="1.6" stroke-linejoin="round" opacity="0.95"/><polyline points="110.8,82.2 110.8,117.8 110.8,150.8" fill="none" stroke="#2a5e38" stroke-width="2.6" stroke-linejoin="round" opacity="0.95"/><polyline points="110.8,82.2 110.8,117.8 110.8,150.8" fill="none" stroke="#84b090" stroke-width="1.6" stroke-linejoin="round" opacity="0.95"/><polyline points="45.7,59.9 79.7,59.9 91.1,59.9 121.2,59.9" fill="none" stroke="#2a5e38" stroke-width="2.2" stroke-linejoin="round" opacity="0.95"/><polyline points="45.7,59.9 79.7,59.9 91.1,59.9 121.2,59.9" fill="none" stroke="#78a684" stroke-width="1.2" stroke-linejoin="round" opacity="0.95"/><polyline points="45.7,63.7 79.7,63.7 91.1,63.7 121.2,63.7" fill="none" stroke="#2a5e38" stroke-width="2.2" stroke-linejoin="round" opacity="0.95"/><polyline points="45.7,63.7 79.7,63.7 91.1,63.7 121.2,63.7" fill="none" stroke="#78a684" stroke-width="1.2" stroke-linejoin="round" opacity="0.95"/><polyline points="156.6,74.7 186.4,74.7 220.6,74.7" fill="none" stroke="#2a5e38" stroke-width="2.2" stroke-linejoin="round" opacity="0.95"/><polyline points="156.6,74.7 186.4,74.7 220.6,74.7" fill="none" stroke="#5a8c6a" stroke-width="1.2" stroke-linejoin="round" opacity="0.95"/><polyline points="300.7,76.8 300.7,91.8 318.7,109.9 318.7,121.7 318.7,142.7 311.8,149.6" fill="none" stroke="#2a5e38" stroke-width="3.0" stroke-linejoin="round" opacity="0.95"/><polyline points="300.7,76.8 300.7,91.8 318.7,109.9 318.7,121.7 318.7,142.7 311.8,149.6" fill="none" stroke="#6a9877" stroke-width="2.0" stroke-linejoin="round" opacity="0.95"/><polyline points="297.2,76.8 297.2,91.8 315.3,109.9 315.3,121.7 315.3,142.7 308.4,149.6" fill="none" stroke="#2a5e38" stroke-width="3.0" stroke-linejoin="round" opacity="0.95"/><polyline points="297.2,76.8 297.2,91.8 315.3,109.9 315.3,121.7 315.3,142.7 308.4,149.6" fill="none" stroke="#6a9877" stroke-width="2.0" stroke-linejoin="round" opacity="0.95"/><polyline points="293.7,76.8 293.7,91.8 311.8,109.9 311.8,121.7 311.8,142.7 304.9,149.6" fill="none" stroke="#2a5e38" stroke-width="3.0" stroke-linejoin="round" opacity="0.95"/><polyline points="293.7,76.8 293.7,91.8 311.8,109.9 311.8,121.7 311.8,142.7 304.9,149.6" fill="none" stroke="#6a9877" stroke-width="2.0" stroke-linejoin="round" opacity="0.95"/><polyline points="290.3,76.8 290.3,91.8 308.3,109.9 308.3,121.7 308.3,142.7 301.4,149.6" fill="none" stroke="#2a5e38" stroke-width="3.0" stroke-linejoin="round" opacity="0.95"/><polyline points="290.3,76.8 290.3,91.8 308.3,109.9 308.3,121.7 308.3,142.7 301.4,149.6" fill="none" stroke="#6a9877" stroke-width="2.0" stroke-linejoin="round" opacity="0.95"/><polyline points="286.8,76.8 286.8,91.8 304.9,109.9 304.9,121.7 304.9,142.7 298.0,149.6" fill="none" stroke="#2a5e38" stroke-width="3.0" stroke-linejoin="round" opacity="0.95"/><polyline points="286.8,76.8 286.8,91.8 304.9,109.9 304.9,121.7 304.9,142.7 298.0,149.6" fill="none" stroke="#6a9877" stroke-width="2.0" stroke-linejoin="round" opacity="0.95"/><polyline points="10.6,77.7 10.6,60.8 -5.6,44.6 -5.6,7.0" fill="none" stroke="#2a5e38" stroke-width="2.6" stroke-linejoin="round" opacity="0.95"/><polyline points="10.6,77.7 10.6,60.8 -5.6,44.6 -5.6,7.0" fill="none" stroke="#84b090" stroke-width="1.6" stroke-linejoin="round" opacity="0.95"/><polyline points="123.8,8.2 123.8,33.6 123.8,57.2 123.8,91.5 123.8,99.9 133.8,110.0" fill="none" stroke="#2a5e38" stroke-width="3.0" stroke-linejoin="round" opacity="0.95"/><polyline points="123.8,8.2 123.8,33.6 123.8,57.2 123.8,91.5 123.8,99.9 133.8,110.0" fill="none" stroke="#78a684" stroke-width="2.0" stroke-linejoin="round" opacity="0.95"/><polyline points="201.2,45.4 218.4,45.4 239.8,45.4 243.8,49.4 260.3,49.4 296.6,49.4" fill="none" stroke="#2a5e38" stroke-width="3.4" stroke-linejoin="round" opacity="0.95"/><polyline points="201.2,45.4 218.4,45.4 239.8,45.4 243.8,49.4 260.3,49.4 296.6,49.4" fill="none" stroke="#84b090" stroke-width="2.4" stroke-linejoin="round" opacity="0.95"/><polyline points="201.2,49.0 218.4,49.0 239.8,49.0 243.8,52.9 260.3,52.9 296.6,52.9" fill="none" stroke="#2a5e38" stroke-width="3.4" stroke-linejoin="round" opacity="0.95"/><polyline points="201.2,49.0 218.4,49.0 239.8,49.0 243.8,52.9 260.3,52.9 296.6,52.9" fill="none" stroke="#84b090" stroke-width="2.4" stroke-linejoin="round" opacity="0.95"/><polyline points="201.2,52.5 218.4,52.5 239.8,52.5 243.8,56.5 260.3,56.5 296.6,56.5" fill="none" stroke="#2a5e38" stroke-width="3.4" stroke-linejoin="round" opacity="0.95"/><polyline points="201.2,52.5 218.4,52.5 239.8,52.5 243.8,56.5 260.3,56.5 296.6,56.5" fill="none" stroke="#84b090" stroke-width="2.4" stroke-linejoin="round" opacity="0.95"/><polyline points="201.2,56.0 218.4,56.0 239.8,56.0 243.8,60.0 260.3,60.0 296.6,60.0" fill="none" stroke="#2a5e38" stroke-width="3.4" stroke-linejoin="round" opacity="0.95"/><polyline points="201.2,56.0 218.4,56.0 239.8,56.0 243.8,60.0 260.3,60.0 296.6,60.0" fill="none" stroke="#84b090" stroke-width="2.4" stroke-linejoin="round" opacity="0.95"/><polyline points="201.2,59.5 218.4,59.5 239.8,59.5 243.8,63.5 260.3,63.5 296.6,63.5" fill="none" stroke="#2a5e38" stroke-width="3.4" stroke-linejoin="round" opacity="0.95"/><polyline points="201.2,59.5 218.4,59.5 239.8,59.5 243.8,63.5 260.3,63.5 296.6,63.5" fill="none" stroke="#84b090" stroke-width="2.4" stroke-linejoin="round" opacity="0.95"/><polyline points="193.1,63.9 198.3,58.8 216.2,40.8 216.2,20.5 211.4,15.7 195.9,0.2" fill="none" stroke="#2a5e38" stroke-width="2.2" stroke-linejoin="round" opacity="0.95"/><polyline points="193.1,63.9 198.3,58.8 216.2,40.8 216.2,20.5 211.4,15.7 195.9,0.2" fill="none" stroke="#6a9877" stroke-width="1.2" stroke-linejoin="round" opacity="0.95"/><polyline points="197.2,63.9 202.3,58.8 220.2,40.8 220.2,20.5 215.4,15.7 199.9,0.2" fill="none" stroke="#2a5e38" stroke-width="2.2" stroke-linejoin="round" opacity="0.95"/><polyline points="197.2,63.9 202.3,58.8 220.2,40.8 220.2,20.5 215.4,15.7 199.9,0.2" fill="none" stroke="#6a9877" stroke-width="1.2" stroke-linejoin="round" opacity="0.95"/><polyline points="201.2,63.9 206.3,58.8 224.2,40.8 224.2,20.5 219.4,15.7 203.9,0.2" fill="none" stroke="#2a5e38" stroke-width="2.2" stroke-linejoin="round" opacity="0.95"/><polyline points="201.2,63.9 206.3,58.8 224.2,40.8 224.2,20.5 219.4,15.7 203.9,0.2" fill="none" stroke="#6a9877" stroke-width="1.2" stroke-linejoin="round" opacity="0.95"/><polyline points="205.2,63.9 210.3,58.8 228.2,40.8 228.2,20.5 223.4,15.7 207.9,0.2" fill="none" stroke="#2a5e38" stroke-width="2.2" stroke-linejoin="round" opacity="0.95"/><polyline points="205.2,63.9 210.3,58.8 228.2,40.8 228.2,20.5 223.4,15.7 207.9,0.2" fill="none" stroke="#6a9877" stroke-width="1.2" stroke-linejoin="round" opacity="0.95"/><polyline points="209.2,63.9 214.3,58.8 232.2,40.8 232.2,20.5 227.4,15.7 211.9,0.2" fill="none" stroke="#2a5e38" stroke-width="2.2" stroke-linejoin="round" opacity="0.95"/><polyline points="209.2,63.9 214.3,58.8 232.2,40.8 232.2,20.5 227.4,15.7 211.9,0.2" fill="none" stroke="#6a9877" stroke-width="1.2" stroke-linejoin="round" opacity="0.95"/><polyline points="279.3,25.4 289.6,35.8 300.4,46.5 300.4,70.5 300.4,95.7" fill="none" stroke="#2a5e38" stroke-width="2.6" stroke-linejoin="round" opacity="0.95"/><polyline points="279.3,25.4 289.6,35.8 300.4,46.5 300.4,70.5 300.4,95.7" fill="none" stroke="#6a9877" stroke-width="1.6" stroke-linejoin="round" opacity="0.95"/><polyline points="275.5,25.4 285.9,35.8 296.6,46.5 296.6,70.5 296.6,95.7" fill="none" stroke="#2a5e38" stroke-width="2.6" stroke-linejoin="round" opacity="0.95"/><polyline points="275.5,25.4 285.9,35.8 296.6,46.5 296.6,70.5 296.6,95.7" fill="none" stroke="#6a9877" stroke-width="1.6" stroke-linejoin="round" opacity="0.95"/><polyline points="271.8,25.4 282.1,35.8 292.9,46.5 292.9,70.5 292.9,95.7" fill="none" stroke="#2a5e38" stroke-width="2.6" stroke-linejoin="round" opacity="0.95"/><polyline points="271.8,25.4 282.1,35.8 292.9,46.5 292.9,70.5 292.9,95.7" fill="none" stroke="#6a9877" stroke-width="1.6" stroke-linejoin="round" opacity="0.95"/><polyline points="268.1,25.4 278.4,35.8 289.2,46.5 289.2,70.5 289.2,95.7" fill="none" stroke="#2a5e38" stroke-width="2.6" stroke-linejoin="round" opacity="0.95"/><polyline points="268.1,25.4 278.4,35.8 289.2,46.5 289.2,70.5 289.2,95.7" fill="none" stroke="#6a9877" stroke-width="1.6" stroke-linejoin="round" opacity="0.95"/><polyline points="98.6,109.7 109.0,120.1 147.1,120.1" fill="none" stroke="#2a5e38" stroke-width="3.0" stroke-linejoin="round" opacity="0.95"/><polyline points="98.6,109.7 109.0,120.1 147.1,120.1" fill="none" stroke="#84b090" stroke-width="2.0" stroke-linejoin="round" opacity="0.95"/><polyline points="98.6,113.0 109.0,123.5 147.1,123.5" fill="none" stroke="#2a5e38" stroke-width="3.0" stroke-linejoin="round" opacity="0.95"/><polyline points="98.6,113.0 109.0,123.5 147.1,123.5" fill="none" stroke="#84b090" stroke-width="2.0" stroke-linejoin="round" opacity="0.95"/><polyline points="98.6,116.3 109.0,126.8 147.1,126.8" fill="none" stroke="#2a5e38" stroke-width="3.0" stroke-linejoin="round" opacity="0.95"/><polyline points="98.6,116.3 109.0,126.8 147.1,126.8" fill="none" stroke="#84b090" stroke-width="2.0" stroke-linejoin="round" opacity="0.95"/><polyline points="98.6,119.6 109.0,130.1 147.1,130.1" fill="none" stroke="#2a5e38" stroke-width="3.0" stroke-linejoin="round" opacity="0.95"/><polyline points="98.6,119.6 109.0,130.1 147.1,130.1" fill="none" stroke="#84b090" stroke-width="2.0" stroke-linejoin="round" opacity="0.95"/><polyline points="22.2,79.8 30.0,72.0 30.0,65.7 21.6,57.4 21.6,36.5" fill="none" stroke="#2a5e38" stroke-width="2.2" stroke-linejoin="round" opacity="0.95"/><polyline points="22.2,79.8 30.0,72.0 30.0,65.7 21.6,57.4 21.6,36.5" fill="none" stroke="#84b090" stroke-width="1.2" stroke-linejoin="round" opacity="0.95"/><polyline points="25.0,79.8 32.7,72.0 32.7,65.7 24.3,57.4 24.3,36.5" fill="none" stroke="#2a5e38" stroke-width="2.2" stroke-linejoin="round" opacity="0.95"/><polyline points="25.0,79.8 32.7,72.0 32.7,65.7 24.3,57.4 24.3,36.5" fill="none" stroke="#84b090" stroke-width="1.2" stroke-linejoin="round" opacity="0.95"/><polyline points="27.7,79.8 35.4,72.0 35.4,65.7 27.1,57.4 27.1,36.5" fill="none" stroke="#2a5e38" stroke-width="2.2" stroke-linejoin="round" opacity="0.95"/><polyline points="27.7,79.8 35.4,72.0 35.4,65.7 27.1,57.4 27.1,36.5" fill="none" stroke="#84b090" stroke-width="1.2" stroke-linejoin="round" opacity="0.95"/><polyline points="30.5,79.8 38.2,72.0 38.2,65.7 29.8,57.4 29.8,36.5" fill="none" stroke="#2a5e38" stroke-width="2.2" stroke-linejoin="round" opacity="0.95"/><polyline points="30.5,79.8 38.2,72.0 38.2,65.7 29.8,57.4 29.8,36.5" fill="none" stroke="#84b090" stroke-width="1.2" stroke-linejoin="round" opacity="0.95"/><polyline points="43.0,13.2 43.0,-16.3 28.6,-30.6 44.9,-46.8" fill="none" stroke="#2a5e38" stroke-width="2.2" stroke-linejoin="round" opacity="0.95"/><polyline points="43.0,13.2 43.0,-16.3 28.6,-30.6 44.9,-46.8" fill="none" stroke="#78a684" stroke-width="1.2" stroke-linejoin="round" opacity="0.95"/><polyline points="46.7,13.2 46.7,-16.3 32.3,-30.6 48.6,-46.8" fill="none" stroke="#2a5e38" stroke-width="2.2" stroke-linejoin="round" opacity="0.95"/><polyline points="46.7,13.2 46.7,-16.3 32.3,-30.6 48.6,-46.8" fill="none" stroke="#78a684" stroke-width="1.2" stroke-linejoin="round" opacity="0.95"/><polyline points="50.4,13.2 50.4,-16.3 36.1,-30.6 52.3,-46.8" fill="none" stroke="#2a5e38" stroke-width="2.2" stroke-linejoin="round" opacity="0.95"/><polyline points="50.4,13.2 50.4,-16.3 36.1,-30.6 52.3,-46.8" fill="none" stroke="#78a684" stroke-width="1.2" stroke-linejoin="round" opacity="0.95"/><polyline points="-5.3,50.0 -17.2,61.9 2.7,81.8 2.7,95.3 -0.9,98.9 -0.9,108.6" fill="none" stroke="#2a5e38" stroke-width="2.2" stroke-linejoin="round" opacity="0.95"/><polyline points="-5.3,50.0 -17.2,61.9 2.7,81.8 2.7,95.3 -0.9,98.9 -0.9,108.6" fill="none" stroke="#6a9877" stroke-width="1.2" stroke-linejoin="round" opacity="0.95"/><polyline points="230.6,97.5 237.9,104.9 237.9,121.3 237.9,135.5 237.9,170.0" fill="none" stroke="#2a5e38" stroke-width="2.6" stroke-linejoin="round" opacity="0.95"/><polyline points="230.6,97.5 237.9,104.9 237.9,121.3 237.9,135.5 237.9,170.0" fill="none" stroke="#6a9877" stroke-width="1.6" stroke-linejoin="round" opacity="0.95"/><polyline points="226.4,97.5 233.7,104.9 233.7,121.3 233.7,135.5 233.7,170.0" fill="none" stroke="#2a5e38" stroke-width="2.6" stroke-linejoin="round" opacity="0.95"/><polyline points="226.4,97.5 233.7,104.9 233.7,121.3 233.7,135.5 233.7,170.0" fill="none" stroke="#6a9877" stroke-width="1.6" stroke-linejoin="round" opacity="0.95"/><polyline points="222.2,97.5 229.5,104.9 229.5,121.3 229.5,135.5 229.5,170.0" fill="none" stroke="#2a5e38" stroke-width="2.6" stroke-linejoin="round" opacity="0.95"/><polyline points="222.2,97.5 229.5,104.9 229.5,121.3 229.5,135.5 229.5,170.0" fill="none" stroke="#6a9877" stroke-width="1.6" stroke-linejoin="round" opacity="0.95"/><polyline points="218.0,97.5 225.3,104.9 225.3,121.3 225.3,135.5 225.3,170.0" fill="none" stroke="#2a5e38" stroke-width="2.6" stroke-linejoin="round" opacity="0.95"/><polyline points="218.0,97.5 225.3,104.9 225.3,121.3 225.3,135.5 225.3,170.0" fill="none" stroke="#6a9877" stroke-width="1.6" stroke-linejoin="round" opacity="0.95"/><polyline points="104.4,58.8 108.0,62.5 108.0,73.5 89.3,92.2 89.3,130.7 89.3,165.2" fill="none" stroke="#2a5e38" stroke-width="3.0" stroke-linejoin="round" opacity="0.95"/><polyline points="104.4,58.8 108.0,62.5 108.0,73.5 89.3,92.2 89.3,130.7 89.3,165.2" fill="none" stroke="#84b090" stroke-width="2.0" stroke-linejoin="round" opacity="0.95"/><polyline points="100.0,58.8 103.6,62.5 103.6,73.5 84.9,92.2 84.9,130.7 84.9,165.2" fill="none" stroke="#2a5e38" stroke-width="3.0" stroke-linejoin="round" opacity="0.95"/><polyline points="100.0,58.8 103.6,62.5 103.6,73.5 84.9,92.2 84.9,130.7 84.9,165.2" fill="none" stroke="#84b090" stroke-width="2.0" stroke-linejoin="round" opacity="0.95"/><polyline points="95.6,58.8 99.2,62.5 99.2,73.5 80.5,92.2 80.5,130.7 80.5,165.2" fill="none" stroke="#2a5e38" stroke-width="3.0" stroke-linejoin="round" opacity="0.95"/><polyline points="95.6,58.8 99.2,62.5 99.2,73.5 80.5,92.2 80.5,130.7 80.5,165.2" fill="none" stroke="#84b090" stroke-width="2.0" stroke-linejoin="round" opacity="0.95"/><polyline points="91.2,58.8 94.8,62.5 94.8,73.5 76.1,92.2 76.1,130.7 76.1,165.2" fill="none" stroke="#2a5e38" stroke-width="3.0" stroke-linejoin="round" opacity="0.95"/><polyline points="91.2,58.8 94.8,62.5 94.8,73.5 76.1,92.2 76.1,130.7 76.1,165.2" fill="none" stroke="#84b090" stroke-width="2.0" stroke-linejoin="round" opacity="0.95"/><polyline points="86.8,58.8 90.4,62.5 90.4,73.5 71.7,92.2 71.7,130.7 71.7,165.2" fill="none" stroke="#2a5e38" stroke-width="3.0" stroke-linejoin="round" opacity="0.95"/><polyline points="86.8,58.8 90.4,62.5 90.4,73.5 71.7,92.2 71.7,130.7 71.7,165.2" fill="none" stroke="#84b090" stroke-width="2.0" stroke-linejoin="round" opacity="0.95"/><polyline points="82.9,66.2 77.4,71.7 84.3,78.6 88.8,83.1 88.8,111.7 88.8,127.3" fill="none" stroke="#2a5e38" stroke-width="2.2" stroke-linejoin="round" opacity="0.95"/><polyline points="82.9,66.2 77.4,71.7 84.3,78.6 88.8,83.1 88.8,111.7 88.8,127.3" fill="none" stroke="#78a684" stroke-width="1.2" stroke-linejoin="round" opacity="0.95"/><polyline points="78.9,66.2 73.4,71.7 80.2,78.6 84.7,83.1 84.7,111.7 84.7,127.3" fill="none" stroke="#2a5e38" stroke-width="2.2" stroke-linejoin="round" opacity="0.95"/><polyline points="78.9,66.2 73.4,71.7 80.2,78.6 84.7,83.1 84.7,111.7 84.7,127.3" fill="none" stroke="#78a684" stroke-width="1.2" stroke-linejoin="round" opacity="0.95"/><polyline points="176.6,63.9 176.6,28.2 161.9,13.5 161.9,-12.6" fill="none" stroke="#2a5e38" stroke-width="3.4" stroke-linejoin="round" opacity="0.95"/><polyline points="176.6,63.9 176.6,28.2 161.9,13.5 161.9,-12.6" fill="none" stroke="#5a8c6a" stroke-width="2.4" stroke-linejoin="round" opacity="0.95"/><polyline points="286.6,109.1 289.9,105.9 304.0,120.0 338.5,120.0 351.8,106.7" fill="none" stroke="#2a5e38" stroke-width="2.2" stroke-linejoin="round" opacity="0.95"/><polyline points="286.6,109.1 289.9,105.9 304.0,120.0 338.5,120.0 351.8,106.7" fill="none" stroke="#78a684" stroke-width="1.2" stroke-linejoin="round" opacity="0.95"/><polyline points="286.6,112.7 289.9,109.5 304.0,123.6 338.5,123.6 351.8,110.3" fill="none" stroke="#2a5e38" stroke-width="2.2" stroke-linejoin="round" opacity="0.95"/><polyline points="286.6,112.7 289.9,109.5 304.0,123.6 338.5,123.6 351.8,110.3" fill="none" stroke="#78a684" stroke-width="1.2" stroke-linejoin="round" opacity="0.95"/><polyline points="286.6,116.3 289.9,113.0 304.0,127.2 338.5,127.2 351.8,113.9" fill="none" stroke="#2a5e38" stroke-width="2.2" stroke-linejoin="round" opacity="0.95"/><polyline points="286.6,116.3 289.9,113.0 304.0,127.2 338.5,127.2 351.8,113.9" fill="none" stroke="#78a684" stroke-width="1.2" stroke-linejoin="round" opacity="0.95"/><polyline points="286.6,119.9 289.9,116.6 304.0,130.8 338.5,130.8 351.8,117.5" fill="none" stroke="#2a5e38" stroke-width="2.2" stroke-linejoin="round" opacity="0.95"/><polyline points="286.6,119.9 289.9,116.6 304.0,130.8 338.5,130.8 351.8,117.5" fill="none" stroke="#78a684" stroke-width="1.2" stroke-linejoin="round" opacity="0.95"/><polyline points="178.2,91.2 186.2,83.2 201.3,68.0 201.3,59.3" fill="none" stroke="#2a5e38" stroke-width="2.6" stroke-linejoin="round" opacity="0.95"/><polyline points="178.2,91.2 186.2,83.2 201.3,68.0 201.3,59.3" fill="none" stroke="#6a9877" stroke-width="1.6" stroke-linejoin="round" opacity="0.95"/><polyline points="286.1,86.8 302.9,70.1 314.1,58.8 333.1,39.9 346.5,26.5 346.5,9.2" fill="none" stroke="#2a5e38" stroke-width="3.4" stroke-linejoin="round" opacity="0.95"/><polyline points="286.1,86.8 302.9,70.1 314.1,58.8 333.1,39.9 346.5,26.5 346.5,9.2" fill="none" stroke="#78a684" stroke-width="2.4" stroke-linejoin="round" opacity="0.95"/><polyline points="289.5,86.8 306.2,70.1 317.5,58.8 336.4,39.9 349.9,26.5 349.9,9.2" fill="none" stroke="#2a5e38" stroke-width="3.4" stroke-linejoin="round" opacity="0.95"/><polyline points="289.5,86.8 306.2,70.1 317.5,58.8 336.4,39.9 349.9,26.5 349.9,9.2" fill="none" stroke="#78a684" stroke-width="2.4" stroke-linejoin="round" opacity="0.95"/><polyline points="292.9,86.8 309.6,70.1 320.8,58.8 339.8,39.9 353.2,26.5 353.2,9.2" fill="none" stroke="#2a5e38" stroke-width="3.4" stroke-linejoin="round" opacity="0.95"/><polyline points="292.9,86.8 309.6,70.1 320.8,58.8 339.8,39.9 353.2,26.5 353.2,9.2" fill="none" stroke="#78a684" stroke-width="2.4" stroke-linejoin="round" opacity="0.95"/><polyline points="209.7,75.2 194.1,75.2 173.9,75.2" fill="none" stroke="#2a5e38" stroke-width="3.4" stroke-linejoin="round" opacity="0.95"/><polyline points="209.7,75.2 194.1,75.2 173.9,75.2" fill="none" stroke="#84b090" stroke-width="2.4" stroke-linejoin="round" opacity="0.95"/><polyline points="209.7,71.2 194.1,71.2 173.9,71.2" fill="none" stroke="#2a5e38" stroke-width="3.4" stroke-linejoin="round" opacity="0.95"/><polyline points="209.7,71.2 194.1,71.2 173.9,71.2" fill="none" stroke="#84b090" stroke-width="2.4" stroke-linejoin="round" opacity="0.95"/><polyline points="284.9,43.2 267.9,43.2 248.6,62.5 220.5,62.5" fill="none" stroke="#2a5e38" stroke-width="2.2" stroke-linejoin="round" opacity="0.95"/><polyline points="284.9,43.2 267.9,43.2 248.6,62.5 220.5,62.5" fill="none" stroke="#78a684" stroke-width="1.2" stroke-linejoin="round" opacity="0.95"/><polyline points="137.9,63.9 104.6,63.9 96.4,63.9" fill="none" stroke="#2a5e38" stroke-width="3.0" stroke-linejoin="round" opacity="0.95"/><polyline points="137.9,63.9 104.6,63.9 96.4,63.9" fill="none" stroke="#6a9877" stroke-width="2.0" stroke-linejoin="round" opacity="0.95"/><polyline points="137.9,59.5 104.6,59.5 96.4,59.5" fill="none" stroke="#2a5e38" stroke-width="3.0" stroke-linejoin="round" opacity="0.95"/><polyline points="137.9,59.5 104.6,59.5 96.4,59.5" fill="none" stroke="#6a9877" stroke-width="2.0" stroke-linejoin="round" opacity="0.95"/><polyline points="235.9,42.3 235.9,81.3 235.9,104.1 248.4,116.7" fill="none" stroke="#2a5e38" stroke-width="2.6" stroke-linejoin="round" opacity="0.95"/><polyline points="235.9,42.3 235.9,81.3 235.9,104.1 248.4,116.7" fill="none" stroke="#6a9877" stroke-width="1.6" stroke-linejoin="round" opacity="0.95"/><polyline points="41.8,101.5 41.8,115.4 52.3,125.9 52.3,162.4 60.9,171.0" fill="none" stroke="#2a5e38" stroke-width="2.6" stroke-linejoin="round" opacity="0.95"/><polyline points="41.8,101.5 41.8,115.4 52.3,125.9 52.3,162.4 60.9,171.0" fill="none" stroke="#6a9877" stroke-width="1.6" stroke-linejoin="round" opacity="0.95"/><polyline points="39.3,101.5 39.3,115.4 49.8,125.9 49.8,162.4 58.4,171.0" fill="none" stroke="#2a5e38" stroke-width="2.6" stroke-linejoin="round" opacity="0.95"/><polyline points="39.3,101.5 39.3,115.4 49.8,125.9 49.8,162.4 58.4,171.0" fill="none" stroke="#6a9877" stroke-width="1.6" stroke-linejoin="round" opacity="0.95"/><polyline points="36.8,101.5 36.8,115.4 47.3,125.9 47.3,162.4 55.9,171.0" fill="none" stroke="#2a5e38" stroke-width="2.6" stroke-linejoin="round" opacity="0.95"/><polyline points="36.8,101.5 36.8,115.4 47.3,125.9 47.3,162.4 55.9,171.0" fill="none" stroke="#6a9877" stroke-width="1.6" stroke-linejoin="round" opacity="0.95"/><polyline points="34.3,101.5 34.3,115.4 44.8,125.9 44.8,162.4 53.4,171.0" fill="none" stroke="#2a5e38" stroke-width="2.6" stroke-linejoin="round" opacity="0.95"/><polyline points="34.3,101.5 34.3,115.4 44.8,125.9 44.8,162.4 53.4,171.0" fill="none" stroke="#6a9877" stroke-width="1.6" stroke-linejoin="round" opacity="0.95"/><polyline points="57.0,24.5 25.0,24.5 15.5,24.5 0.9,24.5 -12.8,10.7" fill="none" stroke="#2a5e38" stroke-width="2.6" stroke-linejoin="round" opacity="0.95"/><polyline points="57.0,24.5 25.0,24.5 15.5,24.5 0.9,24.5 -12.8,10.7" fill="none" stroke="#78a684" stroke-width="1.6" stroke-linejoin="round" opacity="0.95"/><polyline points="82.9,103.7 119.4,103.7 122.4,106.7 153.5,106.7 156.6,109.8 167.3,109.8" fill="none" stroke="#2a5e38" stroke-width="3.0" stroke-linejoin="round" opacity="0.95"/><polyline points="82.9,103.7 119.4,103.7 122.4,106.7 153.5,106.7 156.6,109.8 167.3,109.8" fill="none" stroke="#5a8c6a" stroke-width="2.0" stroke-linejoin="round" opacity="0.95"/><polyline points="82.9,106.9 119.4,106.9 122.4,109.9 153.5,109.9 156.6,113.0 167.3,113.0" fill="none" stroke="#2a5e38" stroke-width="3.0" stroke-linejoin="round" opacity="0.95"/><polyline points="82.9,106.9 119.4,106.9 122.4,109.9 153.5,109.9 156.6,113.0 167.3,113.0" fill="none" stroke="#5a8c6a" stroke-width="2.0" stroke-linejoin="round" opacity="0.95"/><polyline points="6.8,41.2 29.1,41.2 49.0,21.4 63.3,21.4 68.1,26.2 91.9,26.2" fill="none" stroke="#2a5e38" stroke-width="2.6" stroke-linejoin="round" opacity="0.95"/><polyline points="6.8,41.2 29.1,41.2 49.0,21.4 63.3,21.4 68.1,26.2 91.9,26.2" fill="none" stroke="#5a8c6a" stroke-width="1.6" stroke-linejoin="round" opacity="0.95"/><polyline points="6.8,44.8 29.1,44.8 49.0,24.9 63.3,24.9 68.1,29.7 91.9,29.7" fill="none" stroke="#2a5e38" stroke-width="2.6" stroke-linejoin="round" opacity="0.95"/><polyline points="6.8,44.8 29.1,44.8 49.0,24.9 63.3,24.9 68.1,29.7 91.9,29.7" fill="none" stroke="#5a8c6a" stroke-width="1.6" stroke-linejoin="round" opacity="0.95"/><polyline points="6.8,48.3 29.1,48.3 49.0,28.5 63.3,28.5 68.1,33.2 91.9,33.2" fill="none" stroke="#2a5e38" stroke-width="2.6" stroke-linejoin="round" opacity="0.95"/><polyline points="6.8,48.3 29.1,48.3 49.0,28.5 63.3,28.5 68.1,33.2 91.9,33.2" fill="none" stroke="#5a8c6a" stroke-width="1.6" stroke-linejoin="round" opacity="0.95"/><polyline points="6.8,51.9 29.1,51.9 49.0,32.0 63.3,32.0 68.1,36.8 91.9,36.8" fill="none" stroke="#2a5e38" stroke-width="2.6" stroke-linejoin="round" opacity="0.95"/><polyline points="6.8,51.9 29.1,51.9 49.0,32.0 63.3,32.0 68.1,36.8 91.9,36.8" fill="none" stroke="#5a8c6a" stroke-width="1.6" stroke-linejoin="round" opacity="0.95"/><polyline points="27.8,-6.5 47.9,-6.5 69.8,-6.5 106.3,-6.5 113.7,0.9 124.9,-10.3" fill="none" stroke="#2a5e38" stroke-width="3.4" stroke-linejoin="round" opacity="0.95"/><polyline points="27.8,-6.5 47.9,-6.5 69.8,-6.5 106.3,-6.5 113.7,0.9 124.9,-10.3" fill="none" stroke="#5a8c6a" stroke-width="2.4" stroke-linejoin="round" opacity="0.95"/><polyline points="27.8,-2.2 47.9,-2.2 69.8,-2.2 106.3,-2.2 113.7,5.2 124.9,-6.0" fill="none" stroke="#2a5e38" stroke-width="3.4" stroke-linejoin="round" opacity="0.95"/><polyline points="27.8,-2.2 47.9,-2.2 69.8,-2.2 106.3,-2.2 113.7,5.2 124.9,-6.0" fill="none" stroke="#5a8c6a" stroke-width="2.4" stroke-linejoin="round" opacity="0.95"/><polyline points="27.8,2.1 47.9,2.1 69.8,2.1 106.3,2.1 113.7,9.5 124.9,-1.7" fill="none" stroke="#2a5e38" stroke-width="3.4" stroke-linejoin="round" opacity="0.95"/><polyline points="27.8,2.1 47.9,2.1 69.8,2.1 106.3,2.1 113.7,9.5 124.9,-1.7" fill="none" stroke="#5a8c6a" stroke-width="2.4" stroke-linejoin="round" opacity="0.95"/><polyline points="27.8,6.4 47.9,6.4 69.8,6.4 106.3,6.4 113.7,13.8 124.9,2.6" fill="none" stroke="#2a5e38" stroke-width="3.4" stroke-linejoin="round" opacity="0.95"/><polyline points="27.8,6.4 47.9,6.4 69.8,6.4 106.3,6.4 113.7,13.8 124.9,2.6" fill="none" stroke="#5a8c6a" stroke-width="2.4" stroke-linejoin="round" opacity="0.95"/><polyline points="27.8,10.7 47.9,10.7 69.8,10.7 106.3,10.7 113.7,18.1 124.9,6.8" fill="none" stroke="#2a5e38" stroke-width="3.4" stroke-linejoin="round" opacity="0.95"/><polyline points="27.8,10.7 47.9,10.7 69.8,10.7 106.3,10.7 113.7,18.1 124.9,6.8" fill="none" stroke="#5a8c6a" stroke-width="2.4" stroke-linejoin="round" opacity="0.95"/><polyline points="-5.1,96.8 2.6,96.8 37.1,96.8 43.6,90.2" fill="none" stroke="#2a5e38" stroke-width="3.4" stroke-linejoin="round" opacity="0.95"/><polyline points="-5.1,96.8 2.6,96.8 37.1,96.8 43.6,90.2" fill="none" stroke="#78a684" stroke-width="2.4" stroke-linejoin="round" opacity="0.95"/><polyline points="-5.1,100.1 2.6,100.1 37.1,100.1 43.6,93.6" fill="none" stroke="#2a5e38" stroke-width="3.4" stroke-linejoin="round" opacity="0.95"/><polyline points="-5.1,100.1 2.6,100.1 37.1,100.1 43.6,93.6" fill="none" stroke="#78a684" stroke-width="2.4" stroke-linejoin="round" opacity="0.95"/><polyline points="-5.1,103.5 2.6,103.5 37.1,103.5 43.6,96.9" fill="none" stroke="#2a5e38" stroke-width="3.4" stroke-linejoin="round" opacity="0.95"/><polyline points="-5.1,103.5 2.6,103.5 37.1,103.5 43.6,96.9" fill="none" stroke="#78a684" stroke-width="2.4" stroke-linejoin="round" opacity="0.95"/><polyline points="-5.1,106.8 2.6,106.8 37.1,106.8 43.6,100.3" fill="none" stroke="#2a5e38" stroke-width="3.4" stroke-linejoin="round" opacity="0.95"/><polyline points="-5.1,106.8 2.6,106.8 37.1,106.8 43.6,100.3" fill="none" stroke="#78a684" stroke-width="2.4" stroke-linejoin="round" opacity="0.95"/><polyline points="-5.1,110.2 2.6,110.2 37.1,110.2 43.6,103.6" fill="none" stroke="#2a5e38" stroke-width="3.4" stroke-linejoin="round" opacity="0.95"/><polyline points="-5.1,110.2 2.6,110.2 37.1,110.2 43.6,103.6" fill="none" stroke="#78a684" stroke-width="2.4" stroke-linejoin="round" opacity="0.95"/><polyline points="286.7,106.3 297.3,95.8 297.3,73.3 297.3,57.2" fill="none" stroke="#2a5e38" stroke-width="2.6" stroke-linejoin="round" opacity="0.95"/><polyline points="286.7,106.3 297.3,95.8 297.3,73.3 297.3,57.2" fill="none" stroke="#5a8c6a" stroke-width="1.6" stroke-linejoin="round" opacity="0.95"/><polyline points="290.6,106.3 301.1,95.8 301.1,73.3 301.1,57.2" fill="none" stroke="#2a5e38" stroke-width="2.6" stroke-linejoin="round" opacity="0.95"/><polyline points="290.6,106.3 301.1,95.8 301.1,73.3 301.1,57.2" fill="none" stroke="#5a8c6a" stroke-width="1.6" stroke-linejoin="round" opacity="0.95"/><polyline points="294.4,106.3 305.0,95.8 305.0,73.3 305.0,57.2" fill="none" stroke="#2a5e38" stroke-width="2.6" stroke-linejoin="round" opacity="0.95"/><polyline points="294.4,106.3 305.0,95.8 305.0,73.3 305.0,57.2" fill="none" stroke="#5a8c6a" stroke-width="1.6" stroke-linejoin="round" opacity="0.95"/><polyline points="3.8,23.6 18.4,38.2 18.4,56.8 18.4,91.7 18.4,111.7" fill="none" stroke="#2a5e38" stroke-width="2.6" stroke-linejoin="round" opacity="0.95"/><polyline points="3.8,23.6 18.4,38.2 18.4,56.8 18.4,91.7 18.4,111.7" fill="none" stroke="#78a684" stroke-width="1.6" stroke-linejoin="round" opacity="0.95"/><polyline points="0.5,23.6 15.0,38.2 15.0,56.8 15.0,91.7 15.0,111.7" fill="none" stroke="#2a5e38" stroke-width="2.6" stroke-linejoin="round" opacity="0.95"/><polyline points="0.5,23.6 15.0,38.2 15.0,56.8 15.0,91.7 15.0,111.7" fill="none" stroke="#78a684" stroke-width="1.6" stroke-linejoin="round" opacity="0.95"/><polyline points="-2.9,23.6 11.7,38.2 11.7,56.8 11.7,91.7 11.7,111.7" fill="none" stroke="#2a5e38" stroke-width="2.6" stroke-linejoin="round" opacity="0.95"/><polyline points="-2.9,23.6 11.7,38.2 11.7,56.8 11.7,91.7 11.7,111.7" fill="none" stroke="#78a684" stroke-width="1.6" stroke-linejoin="round" opacity="0.95"/><polyline points="-6.2,23.6 8.4,38.2 8.4,56.8 8.4,91.7 8.4,111.7" fill="none" stroke="#2a5e38" stroke-width="2.6" stroke-linejoin="round" opacity="0.95"/><polyline points="-6.2,23.6 8.4,38.2 8.4,56.8 8.4,91.7 8.4,111.7" fill="none" stroke="#78a684" stroke-width="1.6" stroke-linejoin="round" opacity="0.95"/><polyline points="224.0,102.0 241.9,84.0 278.9,84.0 302.7,84.0 317.2,69.6" fill="none" stroke="#2a5e38" stroke-width="2.2" stroke-linejoin="round" opacity="0.95"/><polyline points="224.0,102.0 241.9,84.0 278.9,84.0 302.7,84.0 317.2,69.6" fill="none" stroke="#6a9877" stroke-width="1.2" stroke-linejoin="round" opacity="0.95"/><polyline points="224.0,105.0 241.9,87.0 278.9,87.0 302.7,87.0 317.2,72.6" fill="none" stroke="#2a5e38" stroke-width="2.2" stroke-linejoin="round" opacity="0.95"/><polyline points="224.0,105.0 241.9,87.0 278.9,87.0 302.7,87.0 317.2,72.6" fill="none" stroke="#6a9877" stroke-width="1.2" stroke-linejoin="round" opacity="0.95"/><polyline points="224.0,107.9 241.9,89.9 278.9,89.9 302.7,89.9 317.2,75.5" fill="none" stroke="#2a5e38" stroke-width="2.2" stroke-linejoin="round" opacity="0.95"/><polyline points="224.0,107.9 241.9,89.9 278.9,89.9 302.7,89.9 317.2,75.5" fill="none" stroke="#6a9877" stroke-width="1.2" stroke-linejoin="round" opacity="0.95"/><polyline points="102.7,27.8 97.0,33.5 85.7,22.1 69.8,6.2 42.1,6.2" fill="none" stroke="#2a5e38" stroke-width="3.0" stroke-linejoin="round" opacity="0.95"/><polyline points="102.7,27.8 97.0,33.5 85.7,22.1 69.8,6.2 42.1,6.2" fill="none" stroke="#78a684" stroke-width="2.0" stroke-linejoin="round" opacity="0.95"/><polyline points="102.7,25.1 97.0,30.8 85.7,19.4 69.8,3.5 42.1,3.5" fill="none" stroke="#2a5e38" stroke-width="3.0" stroke-linejoin="round" opacity="0.95"/><polyline points="102.7,25.1 97.0,30.8 85.7,19.4 69.8,3.5 42.1,3.5" fill="none" stroke="#78a684" stroke-width="2.0" stroke-linejoin="round" opacity="0.95"/><polyline points="102.7,22.4 97.0,28.1 85.7,16.7 69.8,0.9 42.1,0.9" fill="none" stroke="#2a5e38" stroke-width="3.0" stroke-linejoin="round" opacity="0.95"/><polyline points="102.7,22.4 97.0,28.1 85.7,16.7 69.8,0.9 42.1,0.9" fill="none" stroke="#78a684" stroke-width="2.0" stroke-linejoin="round" opacity="0.95"/><polyline points="143.3,48.6 130.6,48.6 110.8,28.9 78.0,28.9 65.4,28.9 59.7,34.5" fill="none" stroke="#2a5e38" stroke-width="3.0" stroke-linejoin="round" opacity="0.95"/><polyline points="143.3,48.6 130.6,48.6 110.8,28.9 78.0,28.9 65.4,28.9 59.7,34.5" fill="none" stroke="#6a9877" stroke-width="2.0" stroke-linejoin="round" opacity="0.95"/><polyline points="143.3,44.5 130.6,44.5 110.8,24.8 78.0,24.8 65.4,24.8 59.7,30.5" fill="none" stroke="#2a5e38" stroke-width="3.0" stroke-linejoin="round" opacity="0.95"/><polyline points="143.3,44.5 130.6,44.5 110.8,24.8 78.0,24.8 65.4,24.8 59.7,30.5" fill="none" stroke="#6a9877" stroke-width="2.0" stroke-linejoin="round" opacity="0.95"/><polyline points="143.3,40.5 130.6,40.5 110.8,20.8 78.0,20.8 65.4,20.8 59.7,26.4" fill="none" stroke="#2a5e38" stroke-width="3.0" stroke-linejoin="round" opacity="0.95"/><polyline points="143.3,40.5 130.6,40.5 110.8,20.8 78.0,20.8 65.4,20.8 59.7,26.4" fill="none" stroke="#6a9877" stroke-width="2.0" stroke-linejoin="round" opacity="0.95"/><polyline points="285.9,72.5 314.5,72.5 344.0,72.5 360.9,72.5" fill="none" stroke="#2a5e38" stroke-width="2.6" stroke-linejoin="round" opacity="0.95"/><polyline points="285.9,72.5 314.5,72.5 344.0,72.5 360.9,72.5" fill="none" stroke="#78a684" stroke-width="1.6" stroke-linejoin="round" opacity="0.95"/><polyline points="285.9,76.2 314.5,76.2 344.0,76.2 360.9,76.2" fill="none" stroke="#2a5e38" stroke-width="2.6" stroke-linejoin="round" opacity="0.95"/><polyline points="285.9,76.2 314.5,76.2 344.0,76.2 360.9,76.2" fill="none" stroke="#78a684" stroke-width="1.6" stroke-linejoin="round" opacity="0.95"/><polyline points="176.4,48.1 184.9,39.6 188.5,36.0 188.5,14.0 174.3,-0.1 157.7,-16.7" fill="none" stroke="#2a5e38" stroke-width="3.0" stroke-linejoin="round" opacity="0.95"/><polyline points="176.4,48.1 184.9,39.6 188.5,36.0 188.5,14.0 174.3,-0.1 157.7,-16.7" fill="none" stroke="#6a9877" stroke-width="2.0" stroke-linejoin="round" opacity="0.95"/><polyline points="179.7,48.1 188.2,39.6 191.8,36.0 191.8,14.0 177.6,-0.1 161.1,-16.7" fill="none" stroke="#2a5e38" stroke-width="3.0" stroke-linejoin="round" opacity="0.95"/><polyline points="179.7,48.1 188.2,39.6 191.8,36.0 191.8,14.0 177.6,-0.1 161.1,-16.7" fill="none" stroke="#6a9877" stroke-width="2.0" stroke-linejoin="round" opacity="0.95"/><polyline points="183.0,48.1 191.5,39.6 195.1,36.0 195.1,14.0 180.9,-0.1 164.4,-16.7" fill="none" stroke="#2a5e38" stroke-width="3.0" stroke-linejoin="round" opacity="0.95"/><polyline points="183.0,48.1 191.5,39.6 195.1,36.0 195.1,14.0 180.9,-0.1 164.4,-16.7" fill="none" stroke="#6a9877" stroke-width="2.0" stroke-linejoin="round" opacity="0.95"/><polyline points="186.3,48.1 194.8,39.6 198.4,36.0 198.4,14.0 184.3,-0.1 167.7,-16.7" fill="none" stroke="#2a5e38" stroke-width="3.0" stroke-linejoin="round" opacity="0.95"/><polyline points="186.3,48.1 194.8,39.6 198.4,36.0 198.4,14.0 184.3,-0.1 167.7,-16.7" fill="none" stroke="#6a9877" stroke-width="2.0" stroke-linejoin="round" opacity="0.95"/><polyline points="189.6,48.1 198.1,39.6 201.7,36.0 201.7,14.0 187.6,-0.1 171.0,-16.7" fill="none" stroke="#2a5e38" stroke-width="3.0" stroke-linejoin="round" opacity="0.95"/><polyline points="189.6,48.1 198.1,39.6 201.7,36.0 201.7,14.0 187.6,-0.1 171.0,-16.7" fill="none" stroke="#6a9877" stroke-width="2.0" stroke-linejoin="round" opacity="0.95"/><polyline points="300.2,49.6 300.2,27.6 300.2,-4.2" fill="none" stroke="#2a5e38" stroke-width="2.2" stroke-linejoin="round" opacity="0.95"/><polyline points="300.2,49.6 300.2,27.6 300.2,-4.2" fill="none" stroke="#78a684" stroke-width="1.2" stroke-linejoin="round" opacity="0.95"/><polyline points="141.1,98.6 156.6,98.6 169.7,85.5 179.3,75.9 192.7,75.9" fill="none" stroke="#2a5e38" stroke-width="2.2" stroke-linejoin="round" opacity="0.95"/><polyline points="141.1,98.6 156.6,98.6 169.7,85.5 179.3,75.9 192.7,75.9" fill="none" stroke="#6a9877" stroke-width="1.2" stroke-linejoin="round" opacity="0.95"/><polyline points="171.6,84.9 148.4,84.9 143.6,89.8 116.9,89.8 90.4,89.8 62.2,89.8" fill="none" stroke="#2a5e38" stroke-width="2.2" stroke-linejoin="round" opacity="0.95"/><polyline points="171.6,84.9 148.4,84.9 143.6,89.8 116.9,89.8 90.4,89.8 62.2,89.8" fill="none" stroke="#78a684" stroke-width="1.2" stroke-linejoin="round" opacity="0.95"/><polyline points="171.6,81.2 148.4,81.2 143.6,86.0 116.9,86.0 90.4,86.0 62.2,86.0" fill="none" stroke="#2a5e38" stroke-width="2.2" stroke-linejoin="round" opacity="0.95"/><polyline points="171.6,81.2 148.4,81.2 143.6,86.0 116.9,86.0 90.4,86.0 62.2,86.0" fill="none" stroke="#78a684" stroke-width="1.2" stroke-linejoin="round" opacity="0.95"/><polyline points="171.6,77.4 148.4,77.4 143.6,82.3 116.9,82.3 90.4,82.3 62.2,82.3" fill="none" stroke="#2a5e38" stroke-width="2.2" stroke-linejoin="round" opacity="0.95"/><polyline points="171.6,77.4 148.4,77.4 143.6,82.3 116.9,82.3 90.4,82.3 62.2,82.3" fill="none" stroke="#78a684" stroke-width="1.2" stroke-linejoin="round" opacity="0.95"/><polyline points="171.6,73.6 148.4,73.6 143.6,78.5 116.9,78.5 90.4,78.5 62.2,78.5" fill="none" stroke="#2a5e38" stroke-width="2.2" stroke-linejoin="round" opacity="0.95"/><polyline points="171.6,73.6 148.4,73.6 143.6,78.5 116.9,78.5 90.4,78.5 62.2,78.5" fill="none" stroke="#78a684" stroke-width="1.2" stroke-linejoin="round" opacity="0.95"/><polyline points="105.5,-5.5 79.5,-5.5 57.2,-5.5 43.5,-5.5 21.3,-5.5" fill="none" stroke="#2a5e38" stroke-width="2.2" stroke-linejoin="round" opacity="0.95"/><polyline points="105.5,-5.5 79.5,-5.5 57.2,-5.5 43.5,-5.5 21.3,-5.5" fill="none" stroke="#6a9877" stroke-width="1.2" stroke-linejoin="round" opacity="0.95"/><polyline points="105.5,-8.3 79.5,-8.3 57.2,-8.3 43.5,-8.3 21.3,-8.3" fill="none" stroke="#2a5e38" stroke-width="2.2" stroke-linejoin="round" opacity="0.95"/><polyline points="105.5,-8.3 79.5,-8.3 57.2,-8.3 43.5,-8.3 21.3,-8.3" fill="none" stroke="#6a9877" stroke-width="1.2" stroke-linejoin="round" opacity="0.95"/><polyline points="105.5,-11.0 79.5,-11.0 57.2,-11.0 43.5,-11.0 21.3,-11.0" fill="none" stroke="#2a5e38" stroke-width="2.2" stroke-linejoin="round" opacity="0.95"/><polyline points="105.5,-11.0 79.5,-11.0 57.2,-11.0 43.5,-11.0 21.3,-11.0" fill="none" stroke="#6a9877" stroke-width="1.2" stroke-linejoin="round" opacity="0.95"/><polyline points="105.5,-13.7 79.5,-13.7 57.2,-13.7 43.5,-13.7 21.3,-13.7" fill="none" stroke="#2a5e38" stroke-width="2.2" stroke-linejoin="round" opacity="0.95"/><polyline points="105.5,-13.7 79.5,-13.7 57.2,-13.7 43.5,-13.7 21.3,-13.7" fill="none" stroke="#6a9877" stroke-width="1.2" stroke-linejoin="round" opacity="0.95"/><polyline points="42.7,87.0 42.7,69.8 42.7,42.0 42.7,24.4" fill="none" stroke="#2a5e38" stroke-width="2.2" stroke-linejoin="round" opacity="0.95"/><polyline points="42.7,87.0 42.7,69.8 42.7,42.0 42.7,24.4" fill="none" stroke="#6a9877" stroke-width="1.2" stroke-linejoin="round" opacity="0.95"/><polyline points="198.1,51.9 234.4,51.9 255.3,51.9 274.3,51.9" fill="none" stroke="#2a5e38" stroke-width="2.2" stroke-linejoin="round" opacity="0.95"/><polyline points="198.1,51.9 234.4,51.9 255.3,51.9 274.3,51.9" fill="none" stroke="#78a684" stroke-width="1.2" stroke-linejoin="round" opacity="0.95"/><polyline points="198.1,56.3 234.4,56.3 255.3,56.3 274.3,56.3" fill="none" stroke="#2a5e38" stroke-width="2.2" stroke-linejoin="round" opacity="0.95"/><polyline points="198.1,56.3 234.4,56.3 255.3,56.3 274.3,56.3" fill="none" stroke="#78a684" stroke-width="1.2" stroke-linejoin="round" opacity="0.95"/><polyline points="273.6,96.0 273.6,103.2 273.6,136.7 255.8,154.6 242.7,167.6" fill="none" stroke="#2a5e38" stroke-width="2.2" stroke-linejoin="round" opacity="0.95"/><polyline points="273.6,96.0 273.6,103.2 273.6,136.7 255.8,154.6 242.7,167.6" fill="none" stroke="#6a9877" stroke-width="1.2" stroke-linejoin="round" opacity="0.95"/><polyline points="269.9,96.0 269.9,103.2 269.9,136.7 252.0,154.6 239.0,167.6" fill="none" stroke="#2a5e38" stroke-width="2.2" stroke-linejoin="round" opacity="0.95"/><polyline points="269.9,96.0 269.9,103.2 269.9,136.7 252.0,154.6 239.0,167.6" fill="none" stroke="#6a9877" stroke-width="1.2" stroke-linejoin="round" opacity="0.95"/><polyline points="266.1,96.0 266.1,103.2 266.1,136.7 248.2,154.6 235.2,167.6" fill="none" stroke="#2a5e38" stroke-width="2.2" stroke-linejoin="round" opacity="0.95"/><polyline points="266.1,96.0 266.1,103.2 266.1,136.7 248.2,154.6 235.2,167.6" fill="none" stroke="#6a9877" stroke-width="1.2" stroke-linejoin="round" opacity="0.95"/><polyline points="262.4,96.0 262.4,103.2 262.4,136.7 244.5,154.6 231.4,167.6" fill="none" stroke="#2a5e38" stroke-width="2.2" stroke-linejoin="round" opacity="0.95"/><polyline points="262.4,96.0 262.4,103.2 262.4,136.7 244.5,154.6 231.4,167.6" fill="none" stroke="#6a9877" stroke-width="1.2" stroke-linejoin="round" opacity="0.95"/><polyline points="199.5,84.2 199.5,61.5 199.5,52.8 199.5,40.9 199.5,33.5 203.6,29.4" fill="none" stroke="#2a5e38" stroke-width="2.2" stroke-linejoin="round" opacity="0.95"/><polyline points="199.5,84.2 199.5,61.5 199.5,52.8 199.5,40.9 199.5,33.5 203.6,29.4" fill="none" stroke="#84b090" stroke-width="1.2" stroke-linejoin="round" opacity="0.95"/><polyline points="154.3,18.4 154.3,-11.4 154.3,-21.3" fill="none" stroke="#2a5e38" stroke-width="2.6" stroke-linejoin="round" opacity="0.95"/><polyline points="154.3,18.4 154.3,-11.4 154.3,-21.3" fill="none" stroke="#5a8c6a" stroke-width="1.6" stroke-linejoin="round" opacity="0.95"/><polyline points="157.7,18.4 157.7,-11.4 157.7,-21.3" fill="none" stroke="#2a5e38" stroke-width="2.6" stroke-linejoin="round" opacity="0.95"/><polyline points="157.7,18.4 157.7,-11.4 157.7,-21.3" fill="none" stroke="#5a8c6a" stroke-width="1.6" stroke-linejoin="round" opacity="0.95"/><polyline points="98.2,102.4 91.2,95.4 109.2,77.4 122.8,63.8" fill="none" stroke="#2a5e38" stroke-width="2.6" stroke-linejoin="round" opacity="0.95"/><polyline points="98.2,102.4 91.2,95.4 109.2,77.4 122.8,63.8" fill="none" stroke="#6a9877" stroke-width="1.6" stroke-linejoin="round" opacity="0.95"/><polyline points="101.6,102.4 94.6,95.4 112.6,77.4 126.3,63.8" fill="none" stroke="#2a5e38" stroke-width="2.6" stroke-linejoin="round" opacity="0.95"/><polyline points="101.6,102.4 94.6,95.4 112.6,77.4 126.3,63.8" fill="none" stroke="#6a9877" stroke-width="1.6" stroke-linejoin="round" opacity="0.95"/><polyline points="105.1,102.4 98.1,95.4 116.1,77.4 129.7,63.8" fill="none" stroke="#2a5e38" stroke-width="2.6" stroke-linejoin="round" opacity="0.95"/><polyline points="105.1,102.4 98.1,95.4 116.1,77.4 129.7,63.8" fill="none" stroke="#6a9877" stroke-width="1.6" stroke-linejoin="round" opacity="0.95"/><polyline points="108.6,102.4 101.5,95.4 119.5,77.4 133.2,63.8" fill="none" stroke="#2a5e38" stroke-width="2.6" stroke-linejoin="round" opacity="0.95"/><polyline points="108.6,102.4 101.5,95.4 119.5,77.4 133.2,63.8" fill="none" stroke="#6a9877" stroke-width="1.6" stroke-linejoin="round" opacity="0.95"/><polyline points="112.0,102.4 105.0,95.4 123.0,77.4 136.6,63.8" fill="none" stroke="#2a5e38" stroke-width="2.6" stroke-linejoin="round" opacity="0.95"/><polyline points="112.0,102.4 105.0,95.4 123.0,77.4 136.6,63.8" fill="none" stroke="#6a9877" stroke-width="1.6" stroke-linejoin="round" opacity="0.95"/><polyline points="-13.8,79.8 -32.8,79.8 -44.7,79.8 -59.5,65.1" fill="none" stroke="#2a5e38" stroke-width="2.6" stroke-linejoin="round" opacity="0.95"/><polyline points="-13.8,79.8 -32.8,79.8 -44.7,79.8 -59.5,65.1" fill="none" stroke="#5a8c6a" stroke-width="1.6" stroke-linejoin="round" opacity="0.95"/><polyline points="-13.8,76.0 -32.8,76.0 -44.7,76.0 -59.5,61.3" fill="none" stroke="#2a5e38" stroke-width="2.6" stroke-linejoin="round" opacity="0.95"/><polyline points="-13.8,76.0 -32.8,76.0 -44.7,76.0 -59.5,61.3" fill="none" stroke="#5a8c6a" stroke-width="1.6" stroke-linejoin="round" opacity="0.95"/><polyline points="-13.8,72.2 -32.8,72.2 -44.7,72.2 -59.5,57.5" fill="none" stroke="#2a5e38" stroke-width="2.6" stroke-linejoin="round" opacity="0.95"/><polyline points="-13.8,72.2 -32.8,72.2 -44.7,72.2 -59.5,57.5" fill="none" stroke="#5a8c6a" stroke-width="1.6" stroke-linejoin="round" opacity="0.95"/><polyline points="144.3,37.0 144.3,27.5 156.6,15.2 156.6,-27.1" fill="none" stroke="#245a34" stroke-width="1.6" stroke-linejoin="round"/><polyline points="144.3,37.0 144.3,27.5 156.6,15.2 156.6,-27.1" fill="none" stroke="#6a9877" stroke-width="0.8" stroke-linejoin="round"/><polyline points="164.1,48.4 188.1,48.4 201.3,35.2 320.9,35.2" fill="none" stroke="#245a34" stroke-width="1.6" stroke-linejoin="round"/><polyline points="164.1,48.4 188.1,48.4 201.3,35.2 320.9,35.2" fill="none" stroke="#6a9877" stroke-width="0.8" stroke-linejoin="round"/><polyline points="160.9,43.4 185.3,43.4 192.1,36.5 224.7,36.5" fill="none" stroke="#245a34" stroke-width="1.8" stroke-linejoin="round"/><polyline points="160.9,43.4 185.3,43.4 192.1,36.5 224.7,36.5" fill="none" stroke="#5a8c6a" stroke-width="1.0" stroke-linejoin="round"/><polyline points="140.2,64.9 140.2,75.6 121.0,94.8 121.0,142.0" fill="none" stroke="#245a34" stroke-width="2.1" stroke-linejoin="round"/><polyline points="140.2,64.9 140.2,75.6 121.0,94.8 121.0,142.0" fill="none" stroke="#6a9877" stroke-width="1.3" stroke-linejoin="round"/><polyline points="162.3,45.0 176.8,45.0 195.1,26.7 261.5,26.7" fill="none" stroke="#245a34" stroke-width="1.6" stroke-linejoin="round"/><polyline points="162.3,45.0 176.8,45.0 195.1,26.7 261.5,26.7" fill="none" stroke="#5a8c6a" stroke-width="0.8" stroke-linejoin="round"/><polyline points="141.3,65.0 141.3,74.8 130.8,85.3 130.8,130.7" fill="none" stroke="#245a34" stroke-width="2.1" stroke-linejoin="round"/><polyline points="141.3,65.0 141.3,74.8 130.8,85.3 130.8,130.7" fill="none" stroke="#5a8c6a" stroke-width="1.3" stroke-linejoin="round"/><polyline points="122.7,57.0 117.0,57.0 108.0,66.1 46.3,66.1" fill="none" stroke="#245a34" stroke-width="1.6" stroke-linejoin="round"/><polyline points="122.7,57.0 117.0,57.0 108.0,66.1 46.3,66.1" fill="none" stroke="#78a684" stroke-width="0.8" stroke-linejoin="round"/><polyline points="123.4,44.0 118.3,44.0 106.3,32.0 -3.0,32.0" fill="none" stroke="#245a34" stroke-width="2.1" stroke-linejoin="round"/><polyline points="123.4,44.0 118.3,44.0 106.3,32.0 -3.0,32.0" fill="none" stroke="#78a684" stroke-width="1.3" stroke-linejoin="round"/><polyline points="120.5,50.3 98.2,50.3 91.4,43.4 37.2,43.4" fill="none" stroke="#245a34" stroke-width="2.1" stroke-linejoin="round"/><polyline points="120.5,50.3 98.2,50.3 91.4,43.4 37.2,43.4" fill="none" stroke="#78a684" stroke-width="1.3" stroke-linejoin="round"/><polyline points="120.5,51.4 96.7,51.4 83.4,64.7 3.6,64.7" fill="none" stroke="#245a34" stroke-width="2.1" stroke-linejoin="round"/><polyline points="120.5,51.4 96.7,51.4 83.4,64.7 3.6,64.7" fill="none" stroke="#78a684" stroke-width="1.3" stroke-linejoin="round"/><polyline points="123.6,43.9 102.1,43.9 93.9,35.7 31.2,35.7" fill="none" stroke="#245a34" stroke-width="1.6" stroke-linejoin="round"/><polyline points="123.6,43.9 102.1,43.9 93.9,35.7 31.2,35.7" fill="none" stroke="#78a684" stroke-width="0.8" stroke-linejoin="round"/><polyline points="160.8,43.2 173.1,43.2 184.5,31.8 241.4,31.8" fill="none" stroke="#245a34" stroke-width="1.6" stroke-linejoin="round"/><polyline points="160.8,43.2 173.1,43.2 184.5,31.8 241.4,31.8" fill="none" stroke="#78a684" stroke-width="0.8" stroke-linejoin="round"/><polyline points="160.2,59.3 170.2,59.3 177.2,66.2 211.5,66.2" fill="none" stroke="#245a34" stroke-width="1.6" stroke-linejoin="round"/><polyline points="160.2,59.3 170.2,59.3 177.2,66.2 211.5,66.2" fill="none" stroke="#5a8c6a" stroke-width="0.8" stroke-linejoin="round"/><polyline points="150.2,64.1 150.2,68.6 164.5,82.9 164.5,98.1" fill="none" stroke="#245a34" stroke-width="2.1" stroke-linejoin="round"/><polyline points="150.2,64.1 150.2,68.6 164.5,82.9 164.5,98.1" fill="none" stroke="#5a8c6a" stroke-width="1.3" stroke-linejoin="round"/><polyline points="125.1,42.4 114.9,42.4 101.2,28.7 -1.6,28.7" fill="none" stroke="#245a34" stroke-width="1.8" stroke-linejoin="round"/><polyline points="125.1,42.4 114.9,42.4 101.2,28.7 -1.6,28.7" fill="none" stroke="#5a8c6a" stroke-width="1.0" stroke-linejoin="round"/><polyline points="158.7,60.5 169.4,60.5 189.2,80.3 253.5,80.3" fill="none" stroke="#245a34" stroke-width="2.1" stroke-linejoin="round"/><polyline points="158.7,60.5 169.4,60.5 189.2,80.3 253.5,80.3" fill="none" stroke="#6a9877" stroke-width="1.3" stroke-linejoin="round"/><polyline points="161.5,43.9 169.1,43.9 188.7,24.3 245.5,24.3" fill="none" stroke="#245a34" stroke-width="2.1" stroke-linejoin="round"/><polyline points="161.5,43.9 169.1,43.9 188.7,24.3 245.5,24.3" fill="none" stroke="#6a9877" stroke-width="1.3" stroke-linejoin="round"/><polyline points="142.5,65.0 142.5,71.4 154.4,83.3 154.4,110.1" fill="none" stroke="#245a34" stroke-width="2.1" stroke-linejoin="round"/><polyline points="142.5,65.0 142.5,71.4 154.4,83.3 154.4,110.1" fill="none" stroke="#78a684" stroke-width="1.3" stroke-linejoin="round"/><polyline points="157.0,61.5 157.0,70.7 163.2,76.9 163.2,100.2" fill="none" stroke="#245a34" stroke-width="1.8" stroke-linejoin="round"/><polyline points="157.0,61.5 157.0,70.7 163.2,76.9 163.2,100.2" fill="none" stroke="#5a8c6a" stroke-width="1.0" stroke-linejoin="round"/><polyline points="151.6,38.3 151.6,29.1 166.1,14.6 166.1,-20.2" fill="none" stroke="#245a34" stroke-width="2.1" stroke-linejoin="round"/><polyline points="151.6,38.3 151.6,29.1 166.1,14.6 166.1,-20.2" fill="none" stroke="#5a8c6a" stroke-width="1.3" stroke-linejoin="round"/><polyline points="126.0,60.3 109.8,60.3 96.5,73.6 58.8,73.6" fill="none" stroke="#245a34" stroke-width="2.1" stroke-linejoin="round"/><polyline points="126.0,60.3 109.8,60.3 96.5,73.6 58.8,73.6" fill="none" stroke="#5a8c6a" stroke-width="1.3" stroke-linejoin="round"/><polyline points="120.5,51.2 111.6,51.2 99.9,62.9 -3.7,62.9" fill="none" stroke="#245a34" stroke-width="1.8" stroke-linejoin="round"/><polyline points="120.5,51.2 111.6,51.2 99.9,62.9 -3.7,62.9" fill="none" stroke="#5a8c6a" stroke-width="1.0" stroke-linejoin="round"/><polyline points="132.0,63.3 132.0,68.5 117.6,82.9 117.6,115.0" fill="none" stroke="#245a34" stroke-width="1.6" stroke-linejoin="round"/><polyline points="132.0,63.3 132.0,68.5 117.6,82.9 117.6,115.0" fill="none" stroke="#78a684" stroke-width="0.8" stroke-linejoin="round"/><polyline points="120.9,53.5 107.7,53.5 93.3,67.9 -14.5,67.9" fill="none" stroke="#245a34" stroke-width="2.1" stroke-linejoin="round"/><polyline points="120.9,53.5 107.7,53.5 93.3,67.9 -14.5,67.9" fill="none" stroke="#78a684" stroke-width="1.3" stroke-linejoin="round"/><polyline points="155.5,62.3 155.5,73.2 164.4,82.1 164.4,117.2" fill="none" stroke="#245a34" stroke-width="1.6" stroke-linejoin="round"/><polyline points="155.5,62.3 155.5,73.2 164.4,82.1 164.4,117.2" fill="none" stroke="#6a9877" stroke-width="0.8" stroke-linejoin="round"/><polyline points="136.0,37.6 136.0,33.0 124.7,21.7 124.7,-13.9" fill="none" stroke="#245a34" stroke-width="1.6" stroke-linejoin="round"/><polyline points="136.0,37.6 136.0,33.0 124.7,21.7 124.7,-13.9" fill="none" stroke="#5a8c6a" stroke-width="0.8" stroke-linejoin="round"/><polyline points="164.3,49.3 177.6,49.3 190.5,36.4 297.2,36.4" fill="none" stroke="#245a34" stroke-width="2.1" stroke-linejoin="round"/><polyline points="164.3,49.3 177.6,49.3 190.5,36.4 297.2,36.4" fill="none" stroke="#6a9877" stroke-width="1.3" stroke-linejoin="round"/><polyline points="147.7,37.4 147.7,29.1 152.7,24.1 152.7,2.3" fill="none" stroke="#245a34" stroke-width="2.1" stroke-linejoin="round"/><polyline points="147.7,37.4 147.7,29.1 152.7,24.1 152.7,2.3" fill="none" stroke="#6a9877" stroke-width="1.3" stroke-linejoin="round"/><polyline points="164.0,48.1 181.5,48.1 201.2,28.4 282.7,28.4" fill="none" stroke="#245a34" stroke-width="1.6" stroke-linejoin="round"/><polyline points="164.0,48.1 181.5,48.1 201.2,28.4 282.7,28.4" fill="none" stroke="#5a8c6a" stroke-width="0.8" stroke-linejoin="round"/><polyline points="157.4,61.3 157.4,68.3 173.0,83.9 173.0,100.0" fill="none" stroke="#245a34" stroke-width="2.1" stroke-linejoin="round"/><polyline points="157.4,61.3 157.4,68.3 173.0,83.9 173.0,100.0" fill="none" stroke="#6a9877" stroke-width="1.3" stroke-linejoin="round"/><polyline points="164.5,50.2 187.9,50.2 202.7,35.4 229.0,35.4" fill="none" stroke="#245a34" stroke-width="1.6" stroke-linejoin="round"/><polyline points="164.5,50.2 187.9,50.2 202.7,35.4 229.0,35.4" fill="none" stroke="#5a8c6a" stroke-width="0.8" stroke-linejoin="round"/><polyline points="147.0,37.3 147.0,27.9 158.5,16.3 158.5,-19.0" fill="none" stroke="#245a34" stroke-width="1.8" stroke-linejoin="round"/><polyline points="147.0,37.3 147.0,27.9 158.5,16.3 158.5,-19.0" fill="none" stroke="#78a684" stroke-width="1.0" stroke-linejoin="round"/><polyline points="121.2,54.5 104.5,54.5 88.6,70.4 41.0,70.4" fill="none" stroke="#245a34" stroke-width="1.6" stroke-linejoin="round"/><polyline points="121.2,54.5 104.5,54.5 88.6,70.4 41.0,70.4" fill="none" stroke="#6a9877" stroke-width="0.8" stroke-linejoin="round"/><polyline points="161.2,58.4 167.8,58.4 176.7,67.3 283.2,67.3" fill="none" stroke="#245a34" stroke-width="1.6" stroke-linejoin="round"/><polyline points="161.2,58.4 167.8,58.4 176.7,67.3 283.2,67.3" fill="none" stroke="#6a9877" stroke-width="0.8" stroke-linejoin="round"/><polyline points="162.5,45.2 184.7,45.2 199.9,30.0 267.4,30.0" fill="none" stroke="#245a34" stroke-width="1.6" stroke-linejoin="round"/><polyline points="162.5,45.2 184.7,45.2 199.9,30.0 267.4,30.0" fill="none" stroke="#78a684" stroke-width="0.8" stroke-linejoin="round"/><polyline points="125.1,59.5 110.8,59.5 100.9,69.4 34.0,69.4" fill="none" stroke="#245a34" stroke-width="1.6" stroke-linejoin="round"/><polyline points="125.1,59.5 110.8,59.5 100.9,69.4 34.0,69.4" fill="none" stroke="#6a9877" stroke-width="0.8" stroke-linejoin="round"/><polyline points="132.0,38.7 132.0,28.3 121.8,18.2 121.8,-27.4" fill="none" stroke="#245a34" stroke-width="1.6" stroke-linejoin="round"/><polyline points="132.0,38.7 132.0,28.3 121.8,18.2 121.8,-27.4" fill="none" stroke="#5a8c6a" stroke-width="0.8" stroke-linejoin="round"/><polyline points="121.6,55.4 105.6,55.4 97.2,63.8 68.8,63.8" fill="none" stroke="#245a34" stroke-width="2.1" stroke-linejoin="round"/><polyline points="121.6,55.4 105.6,55.4 97.2,63.8 68.8,63.8" fill="none" stroke="#5a8c6a" stroke-width="1.3" stroke-linejoin="round"/><polyline points="127.5,40.7 127.5,29.8 118.8,21.0 118.8,-20.9" fill="none" stroke="#245a34" stroke-width="1.6" stroke-linejoin="round"/><polyline points="127.5,40.7 127.5,29.8 118.8,21.0 118.8,-20.9" fill="none" stroke="#78a684" stroke-width="0.8" stroke-linejoin="round"/><polyline points="151.6,63.8 151.6,74.0 165.2,87.6 165.2,106.7" fill="none" stroke="#245a34" stroke-width="1.8" stroke-linejoin="round"/><polyline points="151.6,63.8 151.6,74.0 165.2,87.6 165.2,106.7" fill="none" stroke="#6a9877" stroke-width="1.0" stroke-linejoin="round"/><rect x="147.8" y="11.5" width="6.8" height="3.3" rx="0.8" fill="#1e2e24"/><rect x="152.3" y="29.9" width="5.1" height="3.9" rx="0.8" fill="#b8c4bc"/><rect x="101.3" y="36.4" width="6.9" height="3.1" rx="0.8" fill="#3a4a40"/><rect x="185.9" y="37.7" width="6.1" height="2.8" rx="0.8" fill="#1e2e24"/><rect x="241.8" y="6.1" width="4.3" height="2.3" rx="0.8" fill="#1e2e24"/><rect x="117.2" y="25.9" width="6.5" height="3.7" rx="0.8" fill="#3a4a40"/><rect x="157.9" y="87.4" width="7.0" height="3.1" rx="0.8" fill="#b8c4bc"/><rect x="112.1" y="15.4" width="3.6" height="3.2" rx="0.8" fill="#1e2e24"/><rect x="120.6" y="62.8" width="3.2" height="2.2" rx="0.8" fill="#b8c4bc"/><rect x="96.3" y="80.8" width="4.7" height="3.4" rx="0.8" fill="#3a4a40"/><rect x="194.3" y="70.6" width="4.4" height="2.3" rx="0.8" fill="#1e2e24"/><rect x="110.4" y="80.9" width="3.7" height="3.9" rx="0.8" fill="#1e2e24"/><rect x="27.0" y="7.1" width="5.3" height="2.2" rx="0.8" fill="#3a4a40"/><rect x="96.6" y="68.3" width="4.8" height="3.3" rx="0.8" fill="#b8c4bc"/><ellipse cx="22" cy="61" rx="2.4" ry="2.0" fill="#e4ece6"/><ellipse cx="28" cy="61" rx="2.4" ry="2.0" fill="#e4ece6"/><ellipse cx="22" cy="66.5" rx="2.4" ry="2.0" fill="#e4ece6"/><ellipse cx="28" cy="66.5" rx="2.4" ry="2.0" fill="#e4ece6"/><ellipse cx="63" cy="14" rx="2.6" ry="3.4" fill="#d8e0da"/><ellipse cx="251" cy="18" rx="2.6" ry="3.4" fill="#d8e0da"/><rect x="67" y="59" width="12" height="5" fill="#b8c0bc"/><rect x="78" y="30" width="6" height="4" fill="#1e2a24" transform="rotate(-20 81 32)"/><rect x="121" y="36" width="43" height="30" rx="2" fill="#22402c" opacity="0.5"/><rect x="123" y="38" width="39" height="26" rx="1.5" fill="#262a28"/><rect x="125.5" y="40.5" width="34" height="21" fill="#7a807c"/><rect x="128" y="43" width="29" height="16" fill="#4a504c"/><rect x="133" y="46" width="19" height="10" fill="#9aa09c"/></svg></div><div style="position:absolute;left:393.40px;top:188.80px;font:normal 400 15px/18.00px 'Liberation Sans', sans-serif;color:#fff;white-space:nowrap;">Optimal Control</div><div style="position:absolute;left:626.2px;top:113.9px;width:145.7px;height:109px;background:#8a9098;overflow:hidden"><svg class="img" width="145.7" height="109" viewBox="0 0 145.7 109" style="position:absolute;left:0;top:0"><defs><linearGradient id="sky" x1="0" y1="0" x2="0" y2="1"><stop offset="0" stop-color="#a8adb5"/><stop offset="0.5" stop-color="#babec5"/><stop offset="1" stop-color="#d2d5d9"/></linearGradient></defs><rect width="145.7" height="109" fill="url(#sky)"/><ellipse cx="90" cy="18" rx="50" ry="12" fill="#8e949c" opacity="0.35"/><ellipse cx="120" cy="30" rx="25" ry="6" fill="#8a9098" opacity="0.3"/><ellipse cx="130" cy="44" rx="20" ry="5" fill="#dfe1e4" opacity="0.6"/><rect x="0" y="76" width="145.7" height="33" fill="#c6c7c8"/><polygon points="0,101.5 145.7,91 145.7,109 0,109" fill="#9c9ea1"/><polygon points="0,100.5 145.7,90 145.7,91.5 0,102" fill="#b8babc"/><polygon points="0,24 4,22 8,24 17,26 24,28 24,83 0,83" fill="#2a2624"/><rect x="0" y="52" width="8" height="28" fill="#1e1b1a"/><polygon points="17,28 26,14.5 84,37.5 84,45 119.5,48 119.5,62 114,62 114,79 46,79 30,83 18,83" fill="#2b2725"/><polygon points="26,14.5 84,37.5 84,40 25,18" fill="#1c1917"/><polygon points="46,45 119.5,48 119.5,61 46,61" fill="#3a3330"/><rect x="46" y="61" width="68" height="18" fill="#201d1c"/><rect x="29.6" y="32" width="5.8" height="24" fill="#5f6862"/><rect x="37" y="32" width="5.8" height="24" fill="#535c57"/><rect x="30" y="58" width="9" height="8" fill="#4b6448"/><rect x="49" y="33" width="5" height="4" fill="#8a9096"/><rect x="51.5" y="62" width="6" height="15" fill="#a87434"/><rect x="59.5" y="62" width="2.2" height="17" fill="#9c7446"/><rect x="75" y="62" width="2.2" height="17" fill="#9c7446"/><rect x="97" y="62" width="2" height="16" fill="#7a6050"/><polygon points="121,52 145.7,56 145.7,82 121,82" fill="#2c2927"/><rect x="137" y="63" width="5" height="7" fill="#6a8a60"/><rect x="124" y="74" width="20" height="7" fill="#3a3a30"/><polygon points="128,82 145.7,80 145.7,86 140,86" fill="#8a9a48"/><path d="M79 80 Q80 73 88 71 L98 71 Q104 74 106 79 L106 84 L80 85 Z" fill="#3c3f4a"/><path d="M101 78 Q102 71 110 69 L118 69 Q124 72 125 77 L125 82 L102 82 Z" fill="#4a4650"/><path d="M0 72 L4 73 L5 85 L0 86 Z" fill="#8a3038"/><polygon points="34,82 60,80 73,88 44,91" fill="#5c9a3c"/><polygon points="32,82 44,91 73,88 74,89.5 43,92.5 30,83" fill="#9a9a98"/><rect x="27" y="72" width="6" height="8" fill="#a08078"/></svg></div><div style="position:absolute;left:663.40px;top:227.14px;font:normal 400 8.2px/9.84px 'Liberation Sans', sans-serif;color:#222;white-space:nowrap;">Big Data</div><div style="position:absolute;left:671.40px;top:273.80px;width:100.30px;height:83.30px;background:#a3acb8;"></div><div style="position:absolute;left:671.30px;top:304.14px;width:100px;text-align:center;font:normal 400 10px/12.00px 'Liberation Sans', sans-serif;color:#333a44;white-space:nowrap;">Hypothetical</div><div style="position:absolute;left:671.30px;top:316.54px;width:100px;text-align:center;font:normal 400 10px/12.00px 'Liberation Sans', sans-serif;color:#333a44;white-space:nowrap;">Scenarios</div><div style="position:absolute;left:303.5px;top:231.2px;width:282.5px;height:125.6px;background:#0c1626;overflow:hidden"><svg class="img" width="282.5" height="125.6" viewBox="0 0 282.5 125.6" style="position:absolute;left:0;top:0"><defs><radialGradient id="bg1" cx="0.52" cy="0.5" r="0.42"><stop offset="0" stop-color="#2a5a9a" stop-opacity="0.9"/><stop offset="0.5" stop-color="#1a3a66" stop-opacity="0.5"/><stop offset="1" stop-color="#0b1424" stop-opacity="0"/></radialGradient></defs><rect width="282.5" height="125.6" fill="#080f1c"/><polyline points="-16.9,63.4 -28.1,74.6 -61.5,74.6 -73.1,63.0 -79.6,63.0" fill="none" stroke="#34465e" stroke-width="1.8" stroke-linejoin="round" opacity="1.0"/><polyline points="-16.9,59.3 -28.1,70.4 -61.5,70.4 -73.1,58.8 -79.6,58.8" fill="none" stroke="#34465e" stroke-width="1.8" stroke-linejoin="round" opacity="1.0"/><polyline points="-16.9,55.1 -28.1,66.2 -61.5,66.2 -73.1,54.6 -79.6,54.6" fill="none" stroke="#34465e" stroke-width="1.8" stroke-linejoin="round" opacity="1.0"/><polyline points="-16.9,50.9 -28.1,62.1 -61.5,62.1 -73.1,50.5 -79.6,50.5" fill="none" stroke="#34465e" stroke-width="1.8" stroke-linejoin="round" opacity="1.0"/><polyline points="57.1,38.3 43.7,51.8 19.3,51.8 -8.7,51.8 -15.5,51.8 -24.5,51.8" fill="none" stroke="#2c3c52" stroke-width="3.4" stroke-linejoin="round" opacity="1.0"/><polyline points="8.0,43.1 30.0,43.1 34.3,38.8" fill="none" stroke="#2c3c52" stroke-width="2.6" stroke-linejoin="round" opacity="1.0"/><polyline points="-11.8,86.6 -27.8,86.6 -39.3,98.1 -48.9,88.5 -60.3,88.5 -80.0,68.8" fill="none" stroke="#3c4e68" stroke-width="3.4" stroke-linejoin="round" opacity="1.0"/><polyline points="-11.8,81.1 -27.8,81.1 -39.3,92.7 -48.9,83.1 -60.3,83.1 -80.0,63.4" fill="none" stroke="#3c4e68" stroke-width="3.4" stroke-linejoin="round" opacity="1.0"/><polyline points="97.2,6.2 69.9,6.2 52.6,6.2 33.8,-12.6" fill="none" stroke="#34465e" stroke-width="2.6" stroke-linejoin="round" opacity="1.0"/><polyline points="12.5,62.8 -7.4,62.8 -46.0,62.8 -82.1,62.8" fill="none" stroke="#34465e" stroke-width="1.8" stroke-linejoin="round" opacity="1.0"/><polyline points="12.5,57.1 -7.4,57.1 -46.0,57.1 -82.1,57.1" fill="none" stroke="#34465e" stroke-width="1.8" stroke-linejoin="round" opacity="1.0"/><polyline points="12.5,51.5 -7.4,51.5 -46.0,51.5 -82.1,51.5" fill="none" stroke="#34465e" stroke-width="1.8" stroke-linejoin="round" opacity="1.0"/><polyline points="12.5,45.8 -7.4,45.8 -46.0,45.8 -82.1,45.8" fill="none" stroke="#34465e" stroke-width="1.8" stroke-linejoin="round" opacity="1.0"/><polyline points="38.7,38.6 42.6,42.5 56.8,28.4 62.7,34.3 76.7,20.3 108.1,20.3" fill="none" stroke="#2c3c52" stroke-width="3.4" stroke-linejoin="round" opacity="1.0"/><polyline points="38.7,42.9 42.6,46.9 56.8,32.7 62.7,38.6 76.7,24.6 108.1,24.6" fill="none" stroke="#2c3c52" stroke-width="3.4" stroke-linejoin="round" opacity="1.0"/><polyline points="38.7,47.3 42.6,51.2 56.8,37.1 62.7,43.0 76.7,29.0 108.1,29.0" fill="none" stroke="#2c3c52" stroke-width="3.4" stroke-linejoin="round" opacity="1.0"/><polyline points="87.6,42.5 120.6,42.5 147.1,42.5 172.8,42.5 189.3,42.5" fill="none" stroke="#2c3c52" stroke-width="1.8" stroke-linejoin="round" opacity="1.0"/><polyline points="87.6,46.9 120.6,46.9 147.1,46.9 172.8,46.9 189.3,46.9" fill="none" stroke="#2c3c52" stroke-width="1.8" stroke-linejoin="round" opacity="1.0"/><polyline points="87.6,51.2 120.6,51.2 147.1,51.2 172.8,51.2 189.3,51.2" fill="none" stroke="#2c3c52" stroke-width="1.8" stroke-linejoin="round" opacity="1.0"/><polyline points="13.5,7.5 6.0,-0.0 -28.9,-0.0" fill="none" stroke="#34465e" stroke-width="1.8" stroke-linejoin="round" opacity="1.0"/><polyline points="13.5,1.8 6.0,-5.7 -28.9,-5.7" fill="none" stroke="#34465e" stroke-width="1.8" stroke-linejoin="round" opacity="1.0"/><polyline points="13.5,-3.9 6.0,-11.4 -28.9,-11.4" fill="none" stroke="#34465e" stroke-width="1.8" stroke-linejoin="round" opacity="1.0"/><polyline points="-20.1,34.4 7.7,34.4 11.9,38.6" fill="none" stroke="#3c4e68" stroke-width="2.6" stroke-linejoin="round" opacity="1.0"/><polyline points="-20.1,39.1 7.7,39.1 11.9,43.4" fill="none" stroke="#3c4e68" stroke-width="2.6" stroke-linejoin="round" opacity="1.0"/><polyline points="29.1,16.8 41.4,16.8 71.5,16.8 79.1,16.8" fill="none" stroke="#34465e" stroke-width="2.6" stroke-linejoin="round" opacity="1.0"/><polyline points="24.9,1.3 7.4,18.8 -8.3,3.1 -24.8,3.1" fill="none" stroke="#2c3c52" stroke-width="2.6" stroke-linejoin="round" opacity="1.0"/><polyline points="24.9,-4.7 7.4,12.8 -8.3,-2.9 -24.8,-2.9" fill="none" stroke="#2c3c52" stroke-width="2.6" stroke-linejoin="round" opacity="1.0"/><polyline points="24.9,-10.8 7.4,6.7 -8.3,-8.9 -24.8,-8.9" fill="none" stroke="#2c3c52" stroke-width="2.6" stroke-linejoin="round" opacity="1.0"/><polyline points="92.8,4.8 69.5,4.8 50.0,-14.7" fill="none" stroke="#3c4e68" stroke-width="1.8" stroke-linejoin="round" opacity="1.0"/><polyline points="9.7,26.6 45.2,26.6 72.5,26.6" fill="none" stroke="#34465e" stroke-width="3.4" stroke-linejoin="round" opacity="1.0"/><polyline points="9.7,31.8 45.2,31.8 72.5,31.8" fill="none" stroke="#34465e" stroke-width="3.4" stroke-linejoin="round" opacity="1.0"/><polyline points="9.7,37.1 45.2,37.1 72.5,37.1" fill="none" stroke="#34465e" stroke-width="3.4" stroke-linejoin="round" opacity="1.0"/><polyline points="9.7,42.3 45.2,42.3 72.5,42.3" fill="none" stroke="#34465e" stroke-width="3.4" stroke-linejoin="round" opacity="1.0"/><polyline points="50.3,38.9 32.4,21.0 24.7,21.0 10.3,21.0 -23.5,21.0 -34.2,31.8" fill="none" stroke="#2c3c52" stroke-width="3.4" stroke-linejoin="round" opacity="1.0"/><polyline points="50.3,33.7 32.4,15.8 24.7,15.8 10.3,15.8 -23.5,15.8 -34.2,26.6" fill="none" stroke="#2c3c52" stroke-width="3.4" stroke-linejoin="round" opacity="1.0"/><polyline points="50.3,28.5 32.4,10.6 24.7,10.6 10.3,10.6 -23.5,10.6 -34.2,21.3" fill="none" stroke="#2c3c52" stroke-width="3.4" stroke-linejoin="round" opacity="1.0"/><polyline points="-28.0,42.6 2.3,42.6 34.8,42.6 66.6,42.6 101.8,42.6" fill="none" stroke="#3c4e68" stroke-width="2.6" stroke-linejoin="round" opacity="1.0"/><polyline points="-28.0,47.2 2.3,47.2 34.8,47.2 66.6,47.2 101.8,47.2" fill="none" stroke="#3c4e68" stroke-width="2.6" stroke-linejoin="round" opacity="1.0"/><polyline points="-28.0,51.8 2.3,51.8 34.8,51.8 66.6,51.8 101.8,51.8" fill="none" stroke="#3c4e68" stroke-width="2.6" stroke-linejoin="round" opacity="1.0"/><polyline points="2.8,32.9 -2.9,38.6 -18.1,23.5" fill="none" stroke="#2c3c52" stroke-width="2.6" stroke-linejoin="round" opacity="1.0"/><polyline points="63.9,40.9 78.9,55.8 97.5,55.8 103.8,49.6" fill="none" stroke="#34465e" stroke-width="3.4" stroke-linejoin="round" opacity="1.0"/><polyline points="63.9,46.2 78.9,61.1 97.5,61.1 103.8,54.9" fill="none" stroke="#34465e" stroke-width="3.4" stroke-linejoin="round" opacity="1.0"/><polyline points="63.9,51.4 78.9,66.4 97.5,66.4 103.8,60.2" fill="none" stroke="#34465e" stroke-width="3.4" stroke-linejoin="round" opacity="1.0"/><polyline points="31.0,18.6 15.8,33.8 -6.1,33.8 -19.6,20.3 -48.3,20.3" fill="none" stroke="#34465e" stroke-width="1.8" stroke-linejoin="round" opacity="1.0"/><polyline points="9.1,57.4 2.4,57.4 -4.9,57.4 -19.8,42.5 -38.8,61.5" fill="none" stroke="#34465e" stroke-width="2.6" stroke-linejoin="round" opacity="1.0"/><polyline points="9.1,52.3 2.4,52.3 -4.9,52.3 -19.8,37.4 -38.8,56.4" fill="none" stroke="#34465e" stroke-width="2.6" stroke-linejoin="round" opacity="1.0"/><polyline points="-16.7,51.6 -0.2,51.6 17.8,69.6" fill="none" stroke="#34465e" stroke-width="1.8" stroke-linejoin="round" opacity="1.0"/><polyline points="21.0,77.6 9.8,77.6 -14.1,77.6 -36.8,77.6" fill="none" stroke="#34465e" stroke-width="2.6" stroke-linejoin="round" opacity="1.0"/><polyline points="21.0,73.2 9.8,73.2 -14.1,73.2 -36.8,73.2" fill="none" stroke="#34465e" stroke-width="2.6" stroke-linejoin="round" opacity="1.0"/><polyline points="21.0,68.8 9.8,68.8 -14.1,68.8 -36.8,68.8" fill="none" stroke="#34465e" stroke-width="2.6" stroke-linejoin="round" opacity="1.0"/><polyline points="0.3,58.5 14.7,44.1 29.2,58.7" fill="none" stroke="#34465e" stroke-width="3.4" stroke-linejoin="round" opacity="1.0"/><polyline points="0.3,62.6 14.7,48.3 29.2,62.8" fill="none" stroke="#34465e" stroke-width="3.4" stroke-linejoin="round" opacity="1.0"/><polyline points="0.3,66.8 14.7,52.4 29.2,66.9" fill="none" stroke="#34465e" stroke-width="3.4" stroke-linejoin="round" opacity="1.0"/><polyline points="29.3,62.5 23.6,68.2 -0.7,68.2 -30.2,68.2 -42.1,56.3 -48.7,62.9" fill="none" stroke="#3c4e68" stroke-width="2.6" stroke-linejoin="round" opacity="1.0"/><polyline points="29.3,58.5 23.6,64.2 -0.7,64.2 -30.2,64.2 -42.1,52.2 -48.7,58.9" fill="none" stroke="#3c4e68" stroke-width="2.6" stroke-linejoin="round" opacity="1.0"/><polyline points="27.0,80.7 63.8,80.7 77.2,80.7" fill="none" stroke="#3c4e68" stroke-width="1.8" stroke-linejoin="round" opacity="1.0"/><polyline points="91.9,87.9 110.4,106.5 137.0,106.5" fill="none" stroke="#2c3c52" stroke-width="3.4" stroke-linejoin="round" opacity="1.0"/><polyline points="91.9,92.4 110.4,110.9 137.0,110.9" fill="none" stroke="#2c3c52" stroke-width="3.4" stroke-linejoin="round" opacity="1.0"/><polyline points="83.4,15.5 51.1,15.5 15.1,15.5 6.2,15.5 -5.8,15.5" fill="none" stroke="#34465e" stroke-width="2.6" stroke-linejoin="round" opacity="1.0"/><polyline points="83.4,10.1 51.1,10.1 15.1,10.1 6.2,10.1 -5.8,10.1" fill="none" stroke="#34465e" stroke-width="2.6" stroke-linejoin="round" opacity="1.0"/><polyline points="83.4,4.7 51.1,4.7 15.1,4.7 6.2,4.7 -5.8,4.7" fill="none" stroke="#34465e" stroke-width="2.6" stroke-linejoin="round" opacity="1.0"/><polyline points="93.6,69.9 78.0,85.5 41.6,85.5 36.5,90.6" fill="none" stroke="#34465e" stroke-width="3.4" stroke-linejoin="round" opacity="1.0"/><polyline points="93.6,64.0 78.0,79.6 41.6,79.6 36.5,84.7" fill="none" stroke="#34465e" stroke-width="3.4" stroke-linejoin="round" opacity="1.0"/><polyline points="93.6,58.1 78.0,73.7 41.6,73.7 36.5,78.8" fill="none" stroke="#34465e" stroke-width="3.4" stroke-linejoin="round" opacity="1.0"/><polyline points="93.6,52.1 78.0,67.7 41.6,67.7 36.5,72.8" fill="none" stroke="#34465e" stroke-width="3.4" stroke-linejoin="round" opacity="1.0"/><polyline points="-10.3,13.3 1.0,24.6 14.0,24.6 31.5,24.6" fill="none" stroke="#2c3c52" stroke-width="1.8" stroke-linejoin="round" opacity="1.0"/><polyline points="-10.3,19.1 1.0,30.5 14.0,30.5 31.5,30.5" fill="none" stroke="#2c3c52" stroke-width="1.8" stroke-linejoin="round" opacity="1.0"/><polyline points="-10.3,25.0 1.0,36.3 14.0,36.3 31.5,36.3" fill="none" stroke="#2c3c52" stroke-width="1.8" stroke-linejoin="round" opacity="1.0"/><polyline points="99.1,32.4 105.2,32.4 131.0,32.4" fill="none" stroke="#34465e" stroke-width="3.4" stroke-linejoin="round" opacity="1.0"/><polyline points="99.1,36.9 105.2,36.9 131.0,36.9" fill="none" stroke="#34465e" stroke-width="3.4" stroke-linejoin="round" opacity="1.0"/><polyline points="99.1,41.4 105.2,41.4 131.0,41.4" fill="none" stroke="#34465e" stroke-width="3.4" stroke-linejoin="round" opacity="1.0"/><polyline points="99.1,45.9 105.2,45.9 131.0,45.9" fill="none" stroke="#34465e" stroke-width="3.4" stroke-linejoin="round" opacity="1.0"/><polyline points="37.5,70.9 30.5,70.9 25.3,76.1" fill="none" stroke="#3c4e68" stroke-width="3.4" stroke-linejoin="round" opacity="1.0"/><polyline points="37.5,65.5 30.5,65.5 25.3,70.7" fill="none" stroke="#3c4e68" stroke-width="3.4" stroke-linejoin="round" opacity="1.0"/><polyline points="37.5,60.1 30.5,60.1 25.3,65.3" fill="none" stroke="#3c4e68" stroke-width="3.4" stroke-linejoin="round" opacity="1.0"/><polyline points="37.5,54.7 30.5,54.7 25.3,59.9" fill="none" stroke="#3c4e68" stroke-width="3.4" stroke-linejoin="round" opacity="1.0"/><polyline points="60.6,2.0 70.0,11.4 102.9,11.4" fill="none" stroke="#3c4e68" stroke-width="1.8" stroke-linejoin="round" opacity="1.0"/><polyline points="60.6,7.5 70.0,16.9 102.9,16.9" fill="none" stroke="#3c4e68" stroke-width="1.8" stroke-linejoin="round" opacity="1.0"/><polyline points="64.4,19.7 96.0,19.7 105.5,19.7 133.5,19.7" fill="none" stroke="#2c3c52" stroke-width="2.6" stroke-linejoin="round" opacity="1.0"/><polyline points="64.4,24.9 96.0,24.9 105.5,24.9 133.5,24.9" fill="none" stroke="#2c3c52" stroke-width="2.6" stroke-linejoin="round" opacity="1.0"/><polyline points="-9.5,63.1 -3.2,63.1 4.6,70.9 12.7,70.9 39.2,70.9" fill="none" stroke="#3c4e68" stroke-width="2.6" stroke-linejoin="round" opacity="1.0"/><polyline points="-9.5,68.6 -3.2,68.6 4.6,76.4 12.7,76.4 39.2,76.4" fill="none" stroke="#3c4e68" stroke-width="2.6" stroke-linejoin="round" opacity="1.0"/><polyline points="30.1,90.5 57.7,90.5 66.9,99.7 94.6,99.7 106.3,87.9 113.0,87.9" fill="none" stroke="#2c3c52" stroke-width="3.4" stroke-linejoin="round" opacity="1.0"/><polyline points="30.1,96.6 57.7,96.6 66.9,105.8 94.6,105.8 106.3,94.0 113.0,94.0" fill="none" stroke="#2c3c52" stroke-width="3.4" stroke-linejoin="round" opacity="1.0"/><polyline points="30.1,102.7 57.7,102.7 66.9,111.9 94.6,111.9 106.3,100.2 113.0,100.2" fill="none" stroke="#2c3c52" stroke-width="3.4" stroke-linejoin="round" opacity="1.0"/><polyline points="30.1,108.8 57.7,108.8 66.9,118.0 94.6,118.0 106.3,106.3 113.0,106.3" fill="none" stroke="#2c3c52" stroke-width="3.4" stroke-linejoin="round" opacity="1.0"/><polyline points="64.9,29.2 68.1,32.4 84.3,32.4 95.0,21.7" fill="none" stroke="#34465e" stroke-width="3.4" stroke-linejoin="round" opacity="1.0"/><polyline points="64.9,35.3 68.1,38.6 84.3,38.6 95.0,27.8" fill="none" stroke="#34465e" stroke-width="3.4" stroke-linejoin="round" opacity="1.0"/><polyline points="-24.4,48.0 -19.3,42.9 -7.1,30.8 6.3,30.8 20.7,30.8 53.5,30.8" fill="none" stroke="#3c4e68" stroke-width="3.4" stroke-linejoin="round" opacity="1.0"/><polyline points="10.1,72.9 17.6,72.9 51.1,72.9 58.3,72.9 74.6,89.1 105.1,89.1" fill="none" stroke="#3c4e68" stroke-width="3.4" stroke-linejoin="round" opacity="1.0"/><polyline points="10.1,77.6 17.6,77.6 51.1,77.6 58.3,77.6 74.6,93.8 105.1,93.8" fill="none" stroke="#3c4e68" stroke-width="3.4" stroke-linejoin="round" opacity="1.0"/><polyline points="28.7,21.2 38.7,21.2 61.2,21.2" fill="none" stroke="#34465e" stroke-width="2.6" stroke-linejoin="round" opacity="1.0"/><polyline points="28.7,27.1 38.7,27.1 61.2,27.1" fill="none" stroke="#34465e" stroke-width="2.6" stroke-linejoin="round" opacity="1.0"/><polyline points="3.2,6.1 -15.2,24.5 -27.0,36.2 -40.4,36.2 -55.7,51.6 -82.4,51.6" fill="none" stroke="#34465e" stroke-width="1.8" stroke-linejoin="round" opacity="1.0"/><polyline points="-35.6,16.3 -21.2,30.6 -6.8,30.6" fill="none" stroke="#2c3c52" stroke-width="3.4" stroke-linejoin="round" opacity="1.0"/><polyline points="-35.6,20.7 -21.2,35.1 -6.8,35.1" fill="none" stroke="#2c3c52" stroke-width="3.4" stroke-linejoin="round" opacity="1.0"/><polyline points="-35.6,25.2 -21.2,39.5 -6.8,39.5" fill="none" stroke="#2c3c52" stroke-width="3.4" stroke-linejoin="round" opacity="1.0"/><polyline points="-35.6,29.7 -21.2,44.0 -6.8,44.0" fill="none" stroke="#2c3c52" stroke-width="3.4" stroke-linejoin="round" opacity="1.0"/><polyline points="85.9,13.0 96.7,13.0 133.4,13.0 149.2,13.0 178.9,13.0 183.2,17.4" fill="none" stroke="#34465e" stroke-width="3.4" stroke-linejoin="round" opacity="1.0"/><polyline points="85.9,18.4 96.7,18.4 133.4,18.4 149.2,18.4 178.9,18.4 183.2,22.7" fill="none" stroke="#34465e" stroke-width="3.4" stroke-linejoin="round" opacity="1.0"/><polyline points="85.9,23.8 96.7,23.8 133.4,23.8 149.2,23.8 178.9,23.8 183.2,28.1" fill="none" stroke="#34465e" stroke-width="3.4" stroke-linejoin="round" opacity="1.0"/><polyline points="15.4,57.1 28.6,57.1 44.6,41.1 80.3,41.1 114.2,41.1" fill="none" stroke="#2c3c52" stroke-width="3.4" stroke-linejoin="round" opacity="1.0"/><polyline points="15.4,62.7 28.6,62.7 44.6,46.7 80.3,46.7 114.2,46.7" fill="none" stroke="#2c3c52" stroke-width="3.4" stroke-linejoin="round" opacity="1.0"/><polyline points="15.4,68.3 28.6,68.3 44.6,52.3 80.3,52.3 114.2,52.3" fill="none" stroke="#2c3c52" stroke-width="3.4" stroke-linejoin="round" opacity="1.0"/><polyline points="15.4,74.0 28.6,74.0 44.6,57.9 80.3,57.9 114.2,57.9" fill="none" stroke="#2c3c52" stroke-width="3.4" stroke-linejoin="round" opacity="1.0"/><polyline points="-10.4,11.5 3.9,-2.7 15.7,-14.6 31.6,-30.4 47.5,-14.4 57.3,-14.4" fill="none" stroke="#2c3c52" stroke-width="2.6" stroke-linejoin="round" opacity="1.0"/><polyline points="-10.4,17.2 3.9,2.9 15.7,-8.9 31.6,-24.8 47.5,-8.8 57.3,-8.8" fill="none" stroke="#2c3c52" stroke-width="2.6" stroke-linejoin="round" opacity="1.0"/><polyline points="-10.4,22.8 3.9,8.5 15.7,-3.3 31.6,-19.1 47.5,-3.2 57.3,-3.2" fill="none" stroke="#2c3c52" stroke-width="2.6" stroke-linejoin="round" opacity="1.0"/><polyline points="17.9,33.9 10.1,41.6 -24.3,41.6" fill="none" stroke="#3c4e68" stroke-width="3.4" stroke-linejoin="round" opacity="1.0"/><polyline points="17.9,28.7 10.1,36.5 -24.3,36.5" fill="none" stroke="#3c4e68" stroke-width="3.4" stroke-linejoin="round" opacity="1.0"/><polyline points="17.9,23.5 10.1,31.3 -24.3,31.3" fill="none" stroke="#3c4e68" stroke-width="3.4" stroke-linejoin="round" opacity="1.0"/><rect width="282.5" height="125.6" fill="url(#bg1)"/><polyline points="65.5,40.8 65.5,69.0 59.0,75.5 59.0,90.9 56.0,94.0" fill="none" stroke="#16294a" stroke-width="0.8" stroke-linejoin="round" opacity="1.0"/><polyline points="62.0,40.8 62.0,69.0 55.5,75.5 55.5,90.9 52.4,94.0" fill="none" stroke="#16294a" stroke-width="0.8" stroke-linejoin="round" opacity="1.0"/><polyline points="58.4,40.8 58.4,69.0 52.0,75.5 52.0,90.9 48.9,94.0" fill="none" stroke="#16294a" stroke-width="0.8" stroke-linejoin="round" opacity="1.0"/><polyline points="-6.4,-5.8 28.5,-5.8 42.1,-19.3 51.4,-19.3" fill="none" stroke="#1f3a5e" stroke-width="0.8" stroke-linejoin="round" opacity="1.0"/><polyline points="-6.4,-2.6 28.5,-2.6 42.1,-16.2 51.4,-16.2" fill="none" stroke="#1f3a5e" stroke-width="0.8" stroke-linejoin="round" opacity="1.0"/><polyline points="-6.4,0.5 28.5,0.5 42.1,-13.1 51.4,-13.1" fill="none" stroke="#1f3a5e" stroke-width="0.8" stroke-linejoin="round" opacity="1.0"/><polyline points="214.5,45.9 221.6,53.1 255.6,53.1" fill="none" stroke="#1a3050" stroke-width="1.6" stroke-linejoin="round" opacity="1.0"/><polyline points="214.5,49.9 221.6,57.1 255.6,57.1" fill="none" stroke="#1a3050" stroke-width="1.6" stroke-linejoin="round" opacity="1.0"/><polyline points="291.1,123.7 278.7,123.7 239.3,123.7 220.8,142.2" fill="none" stroke="#1a3050" stroke-width="1.6" stroke-linejoin="round" opacity="1.0"/><polyline points="291.1,120.0 278.7,120.0 239.3,120.0 220.8,138.5" fill="none" stroke="#1a3050" stroke-width="1.6" stroke-linejoin="round" opacity="1.0"/><polyline points="239.4,95.2 263.1,95.2 269.2,95.2 304.8,95.2 324.1,114.5" fill="none" stroke="#1f3a5e" stroke-width="1.2" stroke-linejoin="round" opacity="1.0"/><polyline points="239.4,99.2 263.1,99.2 269.2,99.2 304.8,99.2 324.1,118.5" fill="none" stroke="#1f3a5e" stroke-width="1.2" stroke-linejoin="round" opacity="1.0"/><polyline points="239.4,103.2 263.1,103.2 269.2,103.2 304.8,103.2 324.1,122.5" fill="none" stroke="#1f3a5e" stroke-width="1.2" stroke-linejoin="round" opacity="1.0"/><polyline points="137.5,28.6 137.5,56.4 137.5,72.6 137.5,83.5 137.5,111.7" fill="none" stroke="#16294a" stroke-width="0.8" stroke-linejoin="round" opacity="1.0"/><polyline points="134.5,28.6 134.5,56.4 134.5,72.6 134.5,83.5 134.5,111.7" fill="none" stroke="#16294a" stroke-width="0.8" stroke-linejoin="round" opacity="1.0"/><polyline points="131.4,28.6 131.4,56.4 131.4,72.6 131.4,83.5 131.4,111.7" fill="none" stroke="#16294a" stroke-width="0.8" stroke-linejoin="round" opacity="1.0"/><polyline points="98.7,64.4 134.9,64.4 157.0,64.4 171.2,64.4" fill="none" stroke="#16294a" stroke-width="1.6" stroke-linejoin="round" opacity="1.0"/><polyline points="98.7,68.0 134.9,68.0 157.0,68.0 171.2,68.0" fill="none" stroke="#16294a" stroke-width="1.6" stroke-linejoin="round" opacity="1.0"/><polyline points="98.7,71.7 134.9,71.7 157.0,71.7 171.2,71.7" fill="none" stroke="#16294a" stroke-width="1.6" stroke-linejoin="round" opacity="1.0"/><polyline points="81.7,79.7 81.7,55.5 81.7,28.0 81.7,13.0 81.7,-26.2 63.3,-44.6" fill="none" stroke="#1f3a5e" stroke-width="1.2" stroke-linejoin="round" opacity="1.0"/><polyline points="85.5,79.7 85.5,55.5 85.5,28.0 85.5,13.0 85.5,-26.2 67.1,-44.6" fill="none" stroke="#1f3a5e" stroke-width="1.2" stroke-linejoin="round" opacity="1.0"/><polyline points="89.2,79.7 89.2,55.5 89.2,28.0 89.2,13.0 89.2,-26.2 70.8,-44.6" fill="none" stroke="#1f3a5e" stroke-width="1.2" stroke-linejoin="round" opacity="1.0"/><polyline points="172.5,29.4 172.5,38.3 172.5,71.9 172.5,106.7 172.5,114.8" fill="none" stroke="#16294a" stroke-width="1.6" stroke-linejoin="round" opacity="1.0"/><polyline points="168.9,29.4 168.9,38.3 168.9,71.9 168.9,106.7 168.9,114.8" fill="none" stroke="#16294a" stroke-width="1.6" stroke-linejoin="round" opacity="1.0"/><polyline points="143.3,106.2 143.3,78.4 143.3,38.5 143.3,19.1" fill="none" stroke="#1a3050" stroke-width="1.6" stroke-linejoin="round" opacity="1.0"/><polyline points="146.4,106.2 146.4,78.4 146.4,38.5 146.4,19.1" fill="none" stroke="#1a3050" stroke-width="1.6" stroke-linejoin="round" opacity="1.0"/><polyline points="74.1,44.9 36.5,44.9 1.3,44.9 -24.6,44.9 -32.7,44.9" fill="none" stroke="#16294a" stroke-width="1.2" stroke-linejoin="round" opacity="1.0"/><polyline points="74.1,40.9 36.5,40.9 1.3,40.9 -24.6,40.9 -32.7,40.9" fill="none" stroke="#16294a" stroke-width="1.2" stroke-linejoin="round" opacity="1.0"/><polyline points="74.1,37.0 36.5,37.0 1.3,37.0 -24.6,37.0 -32.7,37.0" fill="none" stroke="#16294a" stroke-width="1.2" stroke-linejoin="round" opacity="1.0"/><polyline points="145.6,28.4 128.0,10.7 116.1,10.7 99.4,10.7" fill="none" stroke="#1a3050" stroke-width="1.6" stroke-linejoin="round" opacity="1.0"/><polyline points="145.6,25.8 128.0,8.1 116.1,8.1 99.4,8.1" fill="none" stroke="#1a3050" stroke-width="1.6" stroke-linejoin="round" opacity="1.0"/><polyline points="145.6,23.1 128.0,5.5 116.1,5.5 99.4,5.5" fill="none" stroke="#1a3050" stroke-width="1.6" stroke-linejoin="round" opacity="1.0"/><polyline points="145.6,20.5 128.0,2.8 116.1,2.8 99.4,2.8" fill="none" stroke="#1a3050" stroke-width="1.6" stroke-linejoin="round" opacity="1.0"/><polyline points="145.6,17.9 128.0,0.2 116.1,0.2 99.4,0.2" fill="none" stroke="#1a3050" stroke-width="1.6" stroke-linejoin="round" opacity="1.0"/><polyline points="135.1,115.1 135.1,126.9 135.1,160.8 131.4,164.5" fill="none" stroke="#16294a" stroke-width="1.2" stroke-linejoin="round" opacity="1.0"/><polyline points="132.0,115.1 132.0,126.9 132.0,160.8 128.3,164.5" fill="none" stroke="#16294a" stroke-width="1.2" stroke-linejoin="round" opacity="1.0"/><polyline points="129.0,115.1 129.0,126.9 129.0,160.8 125.3,164.5" fill="none" stroke="#16294a" stroke-width="1.2" stroke-linejoin="round" opacity="1.0"/><polyline points="125.9,115.1 125.9,126.9 125.9,160.8 122.2,164.5" fill="none" stroke="#16294a" stroke-width="1.2" stroke-linejoin="round" opacity="1.0"/><polyline points="122.8,115.1 122.8,126.9 122.8,160.8 119.1,164.5" fill="none" stroke="#16294a" stroke-width="1.2" stroke-linejoin="round" opacity="1.0"/><polyline points="32.9,106.8 22.9,106.8 -5.0,106.8 -14.4,106.8 -21.7,106.8" fill="none" stroke="#16294a" stroke-width="1.2" stroke-linejoin="round" opacity="1.0"/><polyline points="32.9,103.5 22.9,103.5 -5.0,103.5 -14.4,103.5 -21.7,103.5" fill="none" stroke="#16294a" stroke-width="1.2" stroke-linejoin="round" opacity="1.0"/><polyline points="32.9,100.2 22.9,100.2 -5.0,100.2 -14.4,100.2 -21.7,100.2" fill="none" stroke="#16294a" stroke-width="1.2" stroke-linejoin="round" opacity="1.0"/><polyline points="68.1,108.2 36.5,108.2 24.6,120.1" fill="none" stroke="#1f3a5e" stroke-width="0.8" stroke-linejoin="round" opacity="1.0"/><polyline points="68.1,105.0 36.5,105.0 24.6,116.9" fill="none" stroke="#1f3a5e" stroke-width="0.8" stroke-linejoin="round" opacity="1.0"/><polyline points="68.1,101.7 36.5,101.7 24.6,113.6" fill="none" stroke="#1f3a5e" stroke-width="0.8" stroke-linejoin="round" opacity="1.0"/><polyline points="68.1,98.5 36.5,98.5 24.6,110.4" fill="none" stroke="#1f3a5e" stroke-width="0.8" stroke-linejoin="round" opacity="1.0"/><polyline points="68.1,95.2 36.5,95.2 24.6,107.1" fill="none" stroke="#1f3a5e" stroke-width="0.8" stroke-linejoin="round" opacity="1.0"/><polyline points="127.2,50.0 95.3,50.0 62.0,50.0 48.1,63.9 41.0,71.0 27.1,71.0" fill="none" stroke="#1f3a5e" stroke-width="0.8" stroke-linejoin="round" opacity="1.0"/><polyline points="127.2,46.9 95.3,46.9 62.0,46.9 48.1,60.8 41.0,68.0 27.1,68.0" fill="none" stroke="#1f3a5e" stroke-width="0.8" stroke-linejoin="round" opacity="1.0"/><polyline points="127.2,43.8 95.3,43.8 62.0,43.8 48.1,57.8 41.0,64.9 27.1,64.9" fill="none" stroke="#1f3a5e" stroke-width="0.8" stroke-linejoin="round" opacity="1.0"/><polyline points="127.2,40.8 95.3,40.8 62.0,40.8 48.1,54.7 41.0,61.8 27.1,61.8" fill="none" stroke="#1f3a5e" stroke-width="0.8" stroke-linejoin="round" opacity="1.0"/><polyline points="81.0,112.5 95.6,97.8 115.3,78.1 152.1,78.1 174.1,78.1" fill="none" stroke="#1a3050" stroke-width="1.6" stroke-linejoin="round" opacity="1.0"/><polyline points="81.0,115.5 95.6,100.8 115.3,81.1 152.1,81.1 174.1,81.1" fill="none" stroke="#1a3050" stroke-width="1.6" stroke-linejoin="round" opacity="1.0"/><polyline points="81.0,118.4 95.6,103.8 115.3,84.1 152.1,84.1 174.1,84.1" fill="none" stroke="#1a3050" stroke-width="1.6" stroke-linejoin="round" opacity="1.0"/><polyline points="81.0,121.4 95.6,106.8 115.3,87.1 152.1,87.1 174.1,87.1" fill="none" stroke="#1a3050" stroke-width="1.6" stroke-linejoin="round" opacity="1.0"/><polyline points="63.7,103.9 39.1,103.9 26.3,103.9 2.3,103.9" fill="none" stroke="#1a3050" stroke-width="1.6" stroke-linejoin="round" opacity="1.0"/><polyline points="63.7,100.8 39.1,100.8 26.3,100.8 2.3,100.8" fill="none" stroke="#1a3050" stroke-width="1.6" stroke-linejoin="round" opacity="1.0"/><polyline points="63.7,97.7 39.1,97.7 26.3,97.7 2.3,97.7" fill="none" stroke="#1a3050" stroke-width="1.6" stroke-linejoin="round" opacity="1.0"/><polyline points="63.7,94.6 39.1,94.6 26.3,94.6 2.3,94.6" fill="none" stroke="#1a3050" stroke-width="1.6" stroke-linejoin="round" opacity="1.0"/><polyline points="63.7,91.5 39.1,91.5 26.3,91.5 2.3,91.5" fill="none" stroke="#1a3050" stroke-width="1.6" stroke-linejoin="round" opacity="1.0"/><polyline points="222.6,11.1 222.6,49.3 203.7,68.3 203.7,82.0 203.7,88.7 210.1,95.1" fill="none" stroke="#1a3050" stroke-width="1.6" stroke-linejoin="round" opacity="1.0"/><polyline points="219.1,11.1 219.1,49.3 200.1,68.3 200.1,82.0 200.1,88.7 206.6,95.1" fill="none" stroke="#1a3050" stroke-width="1.6" stroke-linejoin="round" opacity="1.0"/><polyline points="215.5,11.1 215.5,49.3 196.6,68.3 196.6,82.0 196.6,88.7 203.0,95.1" fill="none" stroke="#1a3050" stroke-width="1.6" stroke-linejoin="round" opacity="1.0"/><polyline points="212.0,11.1 212.0,49.3 193.1,68.3 193.1,82.0 193.1,88.7 199.5,95.1" fill="none" stroke="#1a3050" stroke-width="1.6" stroke-linejoin="round" opacity="1.0"/><polyline points="208.4,11.1 208.4,49.3 189.5,68.3 189.5,82.0 189.5,88.7 196.0,95.1" fill="none" stroke="#1a3050" stroke-width="1.6" stroke-linejoin="round" opacity="1.0"/><polyline points="15.7,48.5 51.5,48.5 58.8,48.5 93.7,48.5 126.8,48.5" fill="none" stroke="#1f3a5e" stroke-width="1.6" stroke-linejoin="round" opacity="1.0"/><polyline points="190.9,-6.3 190.9,0.8 190.9,39.1 190.9,77.3" fill="none" stroke="#1f3a5e" stroke-width="1.6" stroke-linejoin="round" opacity="1.0"/><polyline points="201.4,28.1 207.5,22.0 232.9,22.0 244.6,10.3 277.4,10.3" fill="none" stroke="#16294a" stroke-width="0.8" stroke-linejoin="round" opacity="1.0"/><polyline points="201.4,31.3 207.5,25.2 232.9,25.2 244.6,13.5 277.4,13.5" fill="none" stroke="#16294a" stroke-width="0.8" stroke-linejoin="round" opacity="1.0"/><polyline points="201.4,34.4 207.5,28.3 232.9,28.3 244.6,16.6 277.4,16.6" fill="none" stroke="#16294a" stroke-width="0.8" stroke-linejoin="round" opacity="1.0"/><polyline points="236.0,40.5 219.7,56.8 180.7,56.8 163.2,56.8 154.4,65.5 124.4,65.5" fill="none" stroke="#1a3050" stroke-width="0.8" stroke-linejoin="round" opacity="1.0"/><polyline points="236.0,36.6 219.7,52.9 180.7,52.9 163.2,52.9 154.4,61.6 124.4,61.6" fill="none" stroke="#1a3050" stroke-width="0.8" stroke-linejoin="round" opacity="1.0"/><polyline points="236.0,32.6 219.7,49.0 180.7,49.0 163.2,49.0 154.4,57.7 124.4,57.7" fill="none" stroke="#1a3050" stroke-width="0.8" stroke-linejoin="round" opacity="1.0"/><polyline points="236.0,28.7 219.7,45.1 180.7,45.1 163.2,45.1 154.4,53.8 124.4,53.8" fill="none" stroke="#1a3050" stroke-width="0.8" stroke-linejoin="round" opacity="1.0"/><polyline points="151.0,59.9 156.5,54.4 167.2,54.4" fill="none" stroke="#16294a" stroke-width="1.6" stroke-linejoin="round" opacity="1.0"/><polyline points="151.0,62.7 156.5,57.3 167.2,57.3" fill="none" stroke="#16294a" stroke-width="1.6" stroke-linejoin="round" opacity="1.0"/><polyline points="151.0,65.6 156.5,60.1 167.2,60.1" fill="none" stroke="#16294a" stroke-width="1.6" stroke-linejoin="round" opacity="1.0"/><polyline points="151.0,68.4 156.5,63.0 167.2,63.0" fill="none" stroke="#16294a" stroke-width="1.6" stroke-linejoin="round" opacity="1.0"/><polyline points="151.0,71.2 156.5,65.8 167.2,65.8" fill="none" stroke="#16294a" stroke-width="1.6" stroke-linejoin="round" opacity="1.0"/><polyline points="247.9,19.4 264.5,19.4 269.8,24.7 284.2,39.1 293.7,29.5 329.4,29.5" fill="none" stroke="#1f3a5e" stroke-width="0.8" stroke-linejoin="round" opacity="1.0"/><polyline points="247.9,22.0 264.5,22.0 269.8,27.2 284.2,41.6 293.7,32.1 329.4,32.1" fill="none" stroke="#1f3a5e" stroke-width="0.8" stroke-linejoin="round" opacity="1.0"/><polyline points="247.9,24.5 264.5,24.5 269.8,29.8 284.2,44.2 293.7,34.6 329.4,34.6" fill="none" stroke="#1f3a5e" stroke-width="0.8" stroke-linejoin="round" opacity="1.0"/><polyline points="247.9,27.1 264.5,27.1 269.8,32.3 284.2,46.7 293.7,37.2 329.4,37.2" fill="none" stroke="#1f3a5e" stroke-width="0.8" stroke-linejoin="round" opacity="1.0"/><polyline points="247.9,29.6 264.5,29.6 269.8,34.9 284.2,49.3 293.7,39.7 329.4,39.7" fill="none" stroke="#1f3a5e" stroke-width="0.8" stroke-linejoin="round" opacity="1.0"/><polyline points="150.5,82.6 150.5,96.1 150.5,113.6 134.9,129.2 151.4,145.8 151.4,167.3" fill="none" stroke="#16294a" stroke-width="1.6" stroke-linejoin="round" opacity="1.0"/><polyline points="147.3,82.6 147.3,96.1 147.3,113.6 131.7,129.2 148.3,145.8 148.3,167.3" fill="none" stroke="#16294a" stroke-width="1.6" stroke-linejoin="round" opacity="1.0"/><polyline points="144.2,82.6 144.2,96.1 144.2,113.6 128.5,129.2 145.1,145.8 145.1,167.3" fill="none" stroke="#16294a" stroke-width="1.6" stroke-linejoin="round" opacity="1.0"/><polyline points="141.0,82.6 141.0,96.1 141.0,113.6 125.4,129.2 142.0,145.8 142.0,167.3" fill="none" stroke="#16294a" stroke-width="1.6" stroke-linejoin="round" opacity="1.0"/><polyline points="137.9,82.6 137.9,96.1 137.9,113.6 122.2,129.2 138.8,145.8 138.8,167.3" fill="none" stroke="#16294a" stroke-width="1.6" stroke-linejoin="round" opacity="1.0"/><polyline points="53.5,67.2 62.3,76.0 62.3,92.9" fill="none" stroke="#1a3050" stroke-width="1.2" stroke-linejoin="round" opacity="1.0"/><polyline points="59.7,58.5 63.8,54.4 63.8,33.3 63.8,-1.9" fill="none" stroke="#16294a" stroke-width="1.6" stroke-linejoin="round" opacity="1.0"/><polyline points="62.5,58.5 66.6,54.4 66.6,33.3 66.6,-1.9" fill="none" stroke="#16294a" stroke-width="1.6" stroke-linejoin="round" opacity="1.0"/><polyline points="65.3,58.5 69.5,54.4 69.5,33.3 69.5,-1.9" fill="none" stroke="#16294a" stroke-width="1.6" stroke-linejoin="round" opacity="1.0"/><polyline points="68.2,58.5 72.3,54.4 72.3,33.3 72.3,-1.9" fill="none" stroke="#16294a" stroke-width="1.6" stroke-linejoin="round" opacity="1.0"/><polyline points="40.4,77.8 22.8,60.2 14.2,60.2 -19.2,60.2 -54.5,60.2 -94.3,60.2" fill="none" stroke="#1f3a5e" stroke-width="1.2" stroke-linejoin="round" opacity="1.0"/><polyline points="40.4,75.2 22.8,57.6 14.2,57.6 -19.2,57.6 -54.5,57.6 -94.3,57.6" fill="none" stroke="#1f3a5e" stroke-width="1.2" stroke-linejoin="round" opacity="1.0"/><polyline points="40.4,72.6 22.8,55.0 14.2,55.0 -19.2,55.0 -54.5,55.0 -94.3,55.0" fill="none" stroke="#1f3a5e" stroke-width="1.2" stroke-linejoin="round" opacity="1.0"/><polyline points="164.2,109.2 164.2,142.0 164.2,171.0" fill="none" stroke="#1a3050" stroke-width="1.6" stroke-linejoin="round" opacity="1.0"/><polyline points="160.7,109.2 160.7,142.0 160.7,171.0" fill="none" stroke="#1a3050" stroke-width="1.6" stroke-linejoin="round" opacity="1.0"/><polyline points="157.3,109.2 157.3,142.0 157.3,171.0" fill="none" stroke="#1a3050" stroke-width="1.6" stroke-linejoin="round" opacity="1.0"/><polyline points="153.8,109.2 153.8,142.0 153.8,171.0" fill="none" stroke="#1a3050" stroke-width="1.6" stroke-linejoin="round" opacity="1.0"/><polyline points="150.4,109.2 150.4,142.0 150.4,171.0" fill="none" stroke="#1a3050" stroke-width="1.6" stroke-linejoin="round" opacity="1.0"/><polyline points="224.3,46.5 191.3,46.5 161.9,46.5" fill="none" stroke="#16294a" stroke-width="1.6" stroke-linejoin="round" opacity="1.0"/><polyline points="278.2,0.4 283.9,6.1 287.1,9.4 297.1,19.3 297.1,48.6 297.1,61.4" fill="none" stroke="#16294a" stroke-width="1.6" stroke-linejoin="round" opacity="1.0"/><polyline points="188.0,40.2 155.6,40.2 123.8,40.2 112.0,52.0 93.9,52.0" fill="none" stroke="#16294a" stroke-width="1.6" stroke-linejoin="round" opacity="1.0"/><polyline points="188.0,37.3 155.6,37.3 123.8,37.3 112.0,49.1 93.9,49.1" fill="none" stroke="#16294a" stroke-width="1.6" stroke-linejoin="round" opacity="1.0"/><polyline points="188.0,34.4 155.6,34.4 123.8,34.4 112.0,46.2 93.9,46.2" fill="none" stroke="#16294a" stroke-width="1.6" stroke-linejoin="round" opacity="1.0"/><polyline points="188.0,31.5 155.6,31.5 123.8,31.5 112.0,43.3 93.9,43.3" fill="none" stroke="#16294a" stroke-width="1.6" stroke-linejoin="round" opacity="1.0"/><polyline points="188.0,28.7 155.6,28.7 123.8,28.7 112.0,40.4 93.9,40.4" fill="none" stroke="#16294a" stroke-width="1.6" stroke-linejoin="round" opacity="1.0"/><polyline points="125.8,34.4 125.8,13.7 125.8,3.3" fill="none" stroke="#1f3a5e" stroke-width="1.6" stroke-linejoin="round" opacity="1.0"/><polyline points="129.6,34.4 129.6,13.7 129.6,3.3" fill="none" stroke="#1f3a5e" stroke-width="1.6" stroke-linejoin="round" opacity="1.0"/><polyline points="133.3,34.4 133.3,13.7 133.3,3.3" fill="none" stroke="#1f3a5e" stroke-width="1.6" stroke-linejoin="round" opacity="1.0"/><polyline points="137.1,34.4 137.1,13.7 137.1,3.3" fill="none" stroke="#1f3a5e" stroke-width="1.6" stroke-linejoin="round" opacity="1.0"/><polyline points="211.7,68.0 198.5,54.8 176.2,54.8" fill="none" stroke="#1f3a5e" stroke-width="0.8" stroke-linejoin="round" opacity="1.0"/><polyline points="253.2,12.2 253.2,18.8 268.0,33.6 268.0,51.4 268.0,60.9 268.0,73.7" fill="none" stroke="#16294a" stroke-width="1.6" stroke-linejoin="round" opacity="1.0"/><polyline points="250.0,12.2 250.0,18.8 264.8,33.6 264.8,51.4 264.8,60.9 264.8,73.7" fill="none" stroke="#16294a" stroke-width="1.6" stroke-linejoin="round" opacity="1.0"/><polyline points="239.0,64.1 251.6,51.5 290.8,51.5 301.2,61.9 329.1,61.9 345.6,45.4" fill="none" stroke="#1f3a5e" stroke-width="0.8" stroke-linejoin="round" opacity="1.0"/><polyline points="239.0,67.4 251.6,54.8 290.8,54.8 301.2,65.2 329.1,65.2 345.6,48.6" fill="none" stroke="#1f3a5e" stroke-width="0.8" stroke-linejoin="round" opacity="1.0"/><polyline points="239.0,70.6 251.6,58.0 290.8,58.0 301.2,68.4 329.1,68.4 345.6,51.9" fill="none" stroke="#1f3a5e" stroke-width="0.8" stroke-linejoin="round" opacity="1.0"/><polyline points="239.0,73.9 251.6,61.3 290.8,61.3 301.2,71.7 329.1,71.7 345.6,55.1" fill="none" stroke="#1f3a5e" stroke-width="0.8" stroke-linejoin="round" opacity="1.0"/><polyline points="239.0,77.1 251.6,64.5 290.8,64.5 301.2,74.9 329.1,74.9 345.6,58.4" fill="none" stroke="#1f3a5e" stroke-width="0.8" stroke-linejoin="round" opacity="1.0"/><polyline points="136.1,-0.9 156.9,-0.9 177.5,-0.9 191.7,13.2" fill="none" stroke="#1f3a5e" stroke-width="1.6" stroke-linejoin="round" opacity="1.0"/><polyline points="136.1,2.2 156.9,2.2 177.5,2.2 191.7,16.3" fill="none" stroke="#1f3a5e" stroke-width="1.6" stroke-linejoin="round" opacity="1.0"/><polyline points="121.2,13.1 121.2,4.2 121.2,-17.1 121.2,-27.3" fill="none" stroke="#1f3a5e" stroke-width="0.8" stroke-linejoin="round" opacity="1.0"/><polyline points="124.7,13.1 124.7,4.2 124.7,-17.1 124.7,-27.3" fill="none" stroke="#1f3a5e" stroke-width="0.8" stroke-linejoin="round" opacity="1.0"/><polyline points="128.1,13.1 128.1,4.2 128.1,-17.1 128.1,-27.3" fill="none" stroke="#1f3a5e" stroke-width="0.8" stroke-linejoin="round" opacity="1.0"/><polyline points="42.4,83.7 56.3,83.7 83.3,83.7" fill="none" stroke="#16294a" stroke-width="1.2" stroke-linejoin="round" opacity="1.0"/><polyline points="42.4,87.3 56.3,87.3 83.3,87.3" fill="none" stroke="#16294a" stroke-width="1.2" stroke-linejoin="round" opacity="1.0"/><polyline points="42.4,90.9 56.3,90.9 83.3,90.9" fill="none" stroke="#16294a" stroke-width="1.2" stroke-linejoin="round" opacity="1.0"/><polyline points="42.4,94.6 56.3,94.6 83.3,94.6" fill="none" stroke="#16294a" stroke-width="1.2" stroke-linejoin="round" opacity="1.0"/><polyline points="150.7,79.1 166.9,79.1 183.5,95.7 220.7,95.7" fill="none" stroke="#1a3050" stroke-width="1.6" stroke-linejoin="round" opacity="1.0"/><polyline points="150.7,82.3 166.9,82.3 183.5,98.9 220.7,98.9" fill="none" stroke="#1a3050" stroke-width="1.6" stroke-linejoin="round" opacity="1.0"/><polyline points="148.3,58.2 131.7,41.6 114.8,58.5 96.2,58.5 71.0,58.5 59.7,47.1" fill="none" stroke="#1a3050" stroke-width="1.2" stroke-linejoin="round" opacity="1.0"/><polyline points="148.3,55.1 131.7,38.5 114.8,55.3 96.2,55.3 71.0,55.3 59.7,44.0" fill="none" stroke="#1a3050" stroke-width="1.2" stroke-linejoin="round" opacity="1.0"/><polyline points="14.7,13.7 -22.8,13.7 -55.2,13.7 -66.6,2.3" fill="none" stroke="#16294a" stroke-width="0.8" stroke-linejoin="round" opacity="1.0"/><polyline points="14.7,11.1 -22.8,11.1 -55.2,11.1 -66.6,-0.2" fill="none" stroke="#16294a" stroke-width="0.8" stroke-linejoin="round" opacity="1.0"/><polyline points="14.7,8.5 -22.8,8.5 -55.2,8.5 -66.6,-2.8" fill="none" stroke="#16294a" stroke-width="0.8" stroke-linejoin="round" opacity="1.0"/><polyline points="14.7,6.0 -22.8,6.0 -55.2,6.0 -66.6,-5.4" fill="none" stroke="#16294a" stroke-width="0.8" stroke-linejoin="round" opacity="1.0"/><polyline points="14.7,3.4 -22.8,3.4 -55.2,3.4 -66.6,-7.9" fill="none" stroke="#16294a" stroke-width="0.8" stroke-linejoin="round" opacity="1.0"/><polyline points="150.8,123.9 158.7,131.8 185.2,131.8 222.7,131.8" fill="none" stroke="#16294a" stroke-width="1.2" stroke-linejoin="round" opacity="1.0"/><polyline points="150.8,126.8 158.7,134.7 185.2,134.7 222.7,134.7" fill="none" stroke="#16294a" stroke-width="1.2" stroke-linejoin="round" opacity="1.0"/><polyline points="150.8,129.7 158.7,137.6 185.2,137.6 222.7,137.6" fill="none" stroke="#16294a" stroke-width="1.2" stroke-linejoin="round" opacity="1.0"/><polyline points="150.8,132.6 158.7,140.5 185.2,140.5 222.7,140.5" fill="none" stroke="#16294a" stroke-width="1.2" stroke-linejoin="round" opacity="1.0"/><polyline points="150.8,135.5 158.7,143.4 185.2,143.4 222.7,143.4" fill="none" stroke="#16294a" stroke-width="1.2" stroke-linejoin="round" opacity="1.0"/><polyline points="212.7,-9.9 223.7,1.0 228.5,-3.9 265.6,-3.9 295.5,-3.9 299.9,-8.2" fill="none" stroke="#1a3050" stroke-width="0.8" stroke-linejoin="round" opacity="1.0"/><polyline points="212.7,-6.2 223.7,4.7 228.5,-0.1 265.6,-0.1 295.5,-0.1 299.9,-4.5" fill="none" stroke="#1a3050" stroke-width="0.8" stroke-linejoin="round" opacity="1.0"/><polyline points="136.3,93.9 136.3,56.7 136.3,36.6 136.3,7.8 136.3,-3.3" fill="none" stroke="#16294a" stroke-width="1.6" stroke-linejoin="round" opacity="1.0"/><polyline points="251.7,80.1 237.4,80.1 233.8,76.5 202.6,76.5 183.6,95.5" fill="none" stroke="#1a3050" stroke-width="1.2" stroke-linejoin="round" opacity="1.0"/><polyline points="251.7,77.4 237.4,77.4 233.8,73.8 202.6,73.8 183.6,92.8" fill="none" stroke="#1a3050" stroke-width="1.2" stroke-linejoin="round" opacity="1.0"/><polyline points="120.1,133.9 139.8,153.6 178.7,153.6 187.4,153.6" fill="none" stroke="#1a3050" stroke-width="0.8" stroke-linejoin="round" opacity="1.0"/><polyline points="120.1,136.4 139.8,156.1 178.7,156.1 187.4,156.1" fill="none" stroke="#1a3050" stroke-width="0.8" stroke-linejoin="round" opacity="1.0"/><polyline points="120.1,138.9 139.8,158.6 178.7,158.6 187.4,158.6" fill="none" stroke="#1a3050" stroke-width="0.8" stroke-linejoin="round" opacity="1.0"/><polyline points="120.1,141.4 139.8,161.1 178.7,161.1 187.4,161.1" fill="none" stroke="#1a3050" stroke-width="0.8" stroke-linejoin="round" opacity="1.0"/><polyline points="52.7,99.1 69.0,99.1 80.0,88.1 86.2,88.1 101.8,88.1" fill="none" stroke="#16294a" stroke-width="0.8" stroke-linejoin="round" opacity="1.0"/><polyline points="52.7,102.3 69.0,102.3 80.0,91.3 86.2,91.3 101.8,91.3" fill="none" stroke="#16294a" stroke-width="0.8" stroke-linejoin="round" opacity="1.0"/><polyline points="52.7,105.6 69.0,105.6 80.0,94.6 86.2,94.6 101.8,94.6" fill="none" stroke="#16294a" stroke-width="0.8" stroke-linejoin="round" opacity="1.0"/><polyline points="52.7,108.8 69.0,108.8 80.0,97.8 86.2,97.8 101.8,97.8" fill="none" stroke="#16294a" stroke-width="0.8" stroke-linejoin="round" opacity="1.0"/><polyline points="52.7,112.0 69.0,112.0 80.0,101.0 86.2,101.0 101.8,101.0" fill="none" stroke="#16294a" stroke-width="0.8" stroke-linejoin="round" opacity="1.0"/><polyline points="198.1,84.8 198.1,122.2 212.4,136.6 212.4,154.2 212.4,179.0" fill="none" stroke="#1f3a5e" stroke-width="1.6" stroke-linejoin="round" opacity="1.0"/><polyline points="195.3,84.8 195.3,122.2 209.6,136.6 209.6,154.2 209.6,179.0" fill="none" stroke="#1f3a5e" stroke-width="1.6" stroke-linejoin="round" opacity="1.0"/><polyline points="7.6,38.8 -8.6,38.8 -18.7,38.8 -56.0,38.8 -63.1,45.8 -81.8,45.8" fill="none" stroke="#1a3050" stroke-width="0.8" stroke-linejoin="round" opacity="1.0"/><polyline points="7.6,36.3 -8.6,36.3 -18.7,36.3 -56.0,36.3 -63.1,43.3 -81.8,43.3" fill="none" stroke="#1a3050" stroke-width="0.8" stroke-linejoin="round" opacity="1.0"/><polyline points="7.6,33.7 -8.6,33.7 -18.7,33.7 -56.0,33.7 -63.1,40.8 -81.8,40.8" fill="none" stroke="#1a3050" stroke-width="0.8" stroke-linejoin="round" opacity="1.0"/><polyline points="7.6,31.2 -8.6,31.2 -18.7,31.2 -56.0,31.2 -63.1,38.3 -81.8,38.3" fill="none" stroke="#1a3050" stroke-width="0.8" stroke-linejoin="round" opacity="1.0"/><polyline points="7.6,28.7 -8.6,28.7 -18.7,28.7 -56.0,28.7 -63.1,35.7 -81.8,35.7" fill="none" stroke="#1a3050" stroke-width="0.8" stroke-linejoin="round" opacity="1.0"/><polyline points="245.2,-6.7 236.3,-6.7 218.6,-6.7 193.1,-6.7" fill="none" stroke="#1a3050" stroke-width="1.2" stroke-linejoin="round" opacity="1.0"/><polyline points="245.2,-9.9 236.3,-9.9 218.6,-9.9 193.1,-9.9" fill="none" stroke="#1a3050" stroke-width="1.2" stroke-linejoin="round" opacity="1.0"/><polyline points="151.0,3.1 142.2,-5.7 128.0,-5.7 110.9,-22.8" fill="none" stroke="#1f3a5e" stroke-width="0.8" stroke-linejoin="round" opacity="1.0"/><polyline points="151.0,-0.3 142.2,-9.2 128.0,-9.2 110.9,-26.2" fill="none" stroke="#1f3a5e" stroke-width="0.8" stroke-linejoin="round" opacity="1.0"/><polyline points="151.0,-3.7 142.2,-12.6 128.0,-12.6 110.9,-29.7" fill="none" stroke="#1f3a5e" stroke-width="0.8" stroke-linejoin="round" opacity="1.0"/><polyline points="151.0,-7.2 142.2,-16.0 128.0,-16.0 110.9,-33.1" fill="none" stroke="#1f3a5e" stroke-width="0.8" stroke-linejoin="round" opacity="1.0"/><polyline points="17.7,119.3 17.7,110.7 17.7,71.5 5.2,59.1 -13.7,40.2" fill="none" stroke="#16294a" stroke-width="1.2" stroke-linejoin="round" opacity="1.0"/><polyline points="21.1,119.3 21.1,110.7 21.1,71.5 8.7,59.1 -10.2,40.2" fill="none" stroke="#16294a" stroke-width="1.2" stroke-linejoin="round" opacity="1.0"/><polyline points="24.6,119.3 24.6,110.7 24.6,71.5 12.2,59.1 -6.7,40.2" fill="none" stroke="#16294a" stroke-width="1.2" stroke-linejoin="round" opacity="1.0"/><polyline points="28.1,119.3 28.1,110.7 28.1,71.5 15.6,59.1 -3.3,40.2" fill="none" stroke="#16294a" stroke-width="1.2" stroke-linejoin="round" opacity="1.0"/><polyline points="276.1,10.0 280.3,5.7 289.8,5.7 306.8,22.7 333.9,22.7" fill="none" stroke="#1f3a5e" stroke-width="1.2" stroke-linejoin="round" opacity="1.0"/><polyline points="276.1,13.0 280.3,8.7 289.8,8.7 306.8,25.7 333.9,25.7" fill="none" stroke="#1f3a5e" stroke-width="1.2" stroke-linejoin="round" opacity="1.0"/><polyline points="-12.4,-1.5 -12.4,6.3 -12.4,28.0" fill="none" stroke="#16294a" stroke-width="0.8" stroke-linejoin="round" opacity="1.0"/><polyline points="-15.5,-1.5 -15.5,6.3 -15.5,28.0" fill="none" stroke="#16294a" stroke-width="0.8" stroke-linejoin="round" opacity="1.0"/><polyline points="-16.0,16.5 -16.0,48.5 -16.0,85.2 -16.0,107.1 -2.3,120.8 -2.3,148.2" fill="none" stroke="#1a3050" stroke-width="0.8" stroke-linejoin="round" opacity="1.0"/><polyline points="68.3,95.6 99.5,95.6 134.8,95.6 167.0,95.6" fill="none" stroke="#1a3050" stroke-width="0.8" stroke-linejoin="round" opacity="1.0"/><polyline points="23.3,129.1 4.0,109.8 -33.1,109.8 -49.9,93.0" fill="none" stroke="#1a3050" stroke-width="1.2" stroke-linejoin="round" opacity="1.0"/><polyline points="172.5,39.9 172.5,1.9 172.5,-33.6" fill="none" stroke="#1f3a5e" stroke-width="1.6" stroke-linejoin="round" opacity="1.0"/><polyline points="175.0,39.9 175.0,1.9 175.0,-33.6" fill="none" stroke="#1f3a5e" stroke-width="1.6" stroke-linejoin="round" opacity="1.0"/><polyline points="177.6,39.9 177.6,1.9 177.6,-33.6" fill="none" stroke="#1f3a5e" stroke-width="1.6" stroke-linejoin="round" opacity="1.0"/><polyline points="-10.0,97.2 -30.0,117.2 -49.8,97.3" fill="none" stroke="#1f3a5e" stroke-width="1.2" stroke-linejoin="round" opacity="1.0"/><polyline points="-10.0,93.7 -30.0,113.7 -49.8,93.8" fill="none" stroke="#1f3a5e" stroke-width="1.2" stroke-linejoin="round" opacity="1.0"/><polyline points="-10.0,90.2 -30.0,110.1 -49.8,90.3" fill="none" stroke="#1f3a5e" stroke-width="1.2" stroke-linejoin="round" opacity="1.0"/><polyline points="64.8,44.4 51.3,57.9 51.3,76.1 51.3,108.6 51.3,143.3 40.6,154.0" fill="none" stroke="#1a3050" stroke-width="1.2" stroke-linejoin="round" opacity="1.0"/><polyline points="266.8,84.8 253.0,84.8 221.8,84.8 208.1,71.1" fill="none" stroke="#16294a" stroke-width="0.8" stroke-linejoin="round" opacity="1.0"/><polyline points="266.8,82.0 253.0,82.0 221.8,82.0 208.1,68.4" fill="none" stroke="#16294a" stroke-width="0.8" stroke-linejoin="round" opacity="1.0"/><polyline points="266.8,79.3 253.0,79.3 221.8,79.3 208.1,65.6" fill="none" stroke="#16294a" stroke-width="0.8" stroke-linejoin="round" opacity="1.0"/><polyline points="266.8,76.5 253.0,76.5 221.8,76.5 208.1,62.9" fill="none" stroke="#16294a" stroke-width="0.8" stroke-linejoin="round" opacity="1.0"/><polyline points="115.9,46.7 123.2,46.7 136.9,46.7 168.1,46.7 178.1,36.7 193.9,36.7" fill="none" stroke="#1a3050" stroke-width="0.8" stroke-linejoin="round" opacity="1.0"/><polyline points="115.9,50.1 123.2,50.1 136.9,50.1 168.1,50.1 178.1,40.1 193.9,40.1" fill="none" stroke="#1a3050" stroke-width="0.8" stroke-linejoin="round" opacity="1.0"/><polyline points="165.8,127.3 165.8,139.3 155.9,149.3 168.0,161.4 183.1,176.5" fill="none" stroke="#16294a" stroke-width="1.6" stroke-linejoin="round" opacity="1.0"/><polyline points="162.9,127.3 162.9,139.3 153.0,149.3 165.1,161.4 180.2,176.5" fill="none" stroke="#16294a" stroke-width="1.6" stroke-linejoin="round" opacity="1.0"/><polyline points="160.0,127.3 160.0,139.3 150.1,149.3 162.2,161.4 177.3,176.5" fill="none" stroke="#16294a" stroke-width="1.6" stroke-linejoin="round" opacity="1.0"/><polyline points="157.1,127.3 157.1,139.3 147.2,149.3 159.3,161.4 174.4,176.5" fill="none" stroke="#16294a" stroke-width="1.6" stroke-linejoin="round" opacity="1.0"/><polyline points="154.2,127.3 154.2,139.3 144.3,149.3 156.4,161.4 171.5,176.5" fill="none" stroke="#16294a" stroke-width="1.6" stroke-linejoin="round" opacity="1.0"/><polyline points="87.0,52.7 87.0,66.8 87.0,98.3" fill="none" stroke="#1a3050" stroke-width="1.2" stroke-linejoin="round" opacity="1.0"/><polyline points="83.1,52.7 83.1,66.8 83.1,98.3" fill="none" stroke="#1a3050" stroke-width="1.2" stroke-linejoin="round" opacity="1.0"/><polyline points="79.2,52.7 79.2,66.8 79.2,98.3" fill="none" stroke="#1a3050" stroke-width="1.2" stroke-linejoin="round" opacity="1.0"/><polyline points="140.4,73.4 177.9,73.4 214.7,73.4" fill="none" stroke="#16294a" stroke-width="0.8" stroke-linejoin="round" opacity="1.0"/><polyline points="140.4,77.1 177.9,77.1 214.7,77.1" fill="none" stroke="#16294a" stroke-width="0.8" stroke-linejoin="round" opacity="1.0"/><polyline points="140.4,80.8 177.9,80.8 214.7,80.8" fill="none" stroke="#16294a" stroke-width="0.8" stroke-linejoin="round" opacity="1.0"/><polyline points="140.4,84.4 177.9,84.4 214.7,84.4" fill="none" stroke="#16294a" stroke-width="0.8" stroke-linejoin="round" opacity="1.0"/><polyline points="120.2,39.9 150.4,39.9 162.7,27.6" fill="none" stroke="#16294a" stroke-width="1.2" stroke-linejoin="round" opacity="1.0"/><polyline points="120.2,43.5 150.4,43.5 162.7,31.2" fill="none" stroke="#16294a" stroke-width="1.2" stroke-linejoin="round" opacity="1.0"/><polyline points="120.2,47.2 150.4,47.2 162.7,34.8" fill="none" stroke="#16294a" stroke-width="1.2" stroke-linejoin="round" opacity="1.0"/><polyline points="120.2,50.8 150.4,50.8 162.7,38.4" fill="none" stroke="#16294a" stroke-width="1.2" stroke-linejoin="round" opacity="1.0"/><polyline points="222.9,105.2 219.1,109.0 212.0,116.1 200.5,104.7 167.7,104.7" fill="none" stroke="#16294a" stroke-width="1.2" stroke-linejoin="round" opacity="1.0"/><polyline points="222.9,102.5 219.1,106.3 212.0,113.4 200.5,102.0 167.7,102.0" fill="none" stroke="#16294a" stroke-width="1.2" stroke-linejoin="round" opacity="1.0"/><polyline points="222.9,99.8 219.1,103.6 212.0,110.7 200.5,99.3 167.7,99.3" fill="none" stroke="#16294a" stroke-width="1.2" stroke-linejoin="round" opacity="1.0"/><polyline points="222.9,97.1 219.1,100.9 212.0,108.0 200.5,96.5 167.7,96.5" fill="none" stroke="#16294a" stroke-width="1.2" stroke-linejoin="round" opacity="1.0"/><polyline points="222.9,94.4 219.1,98.2 212.0,105.3 200.5,93.8 167.7,93.8" fill="none" stroke="#16294a" stroke-width="1.2" stroke-linejoin="round" opacity="1.0"/><polyline points="237.8,68.3 237.8,44.6 232.3,39.0 240.6,30.7 240.6,13.7 244.6,9.7" fill="none" stroke="#1f3a5e" stroke-width="1.2" stroke-linejoin="round" opacity="1.0"/><polyline points="241.1,68.3 241.1,44.6 235.5,39.0 243.8,30.7 243.8,13.7 247.8,9.7" fill="none" stroke="#1f3a5e" stroke-width="1.2" stroke-linejoin="round" opacity="1.0"/><polyline points="244.3,68.3 244.3,44.6 238.7,39.0 247.0,30.7 247.0,13.7 251.1,9.7" fill="none" stroke="#1f3a5e" stroke-width="1.2" stroke-linejoin="round" opacity="1.0"/><polyline points="247.5,68.3 247.5,44.6 242.0,39.0 250.3,30.7 250.3,13.7 254.3,9.7" fill="none" stroke="#1f3a5e" stroke-width="1.2" stroke-linejoin="round" opacity="1.0"/><polyline points="25.9,69.5 30.8,64.5 37.3,58.1 59.2,58.1 86.2,58.1 94.7,58.1" fill="none" stroke="#1a3050" stroke-width="1.6" stroke-linejoin="round" opacity="1.0"/><polyline points="25.9,73.4 30.8,68.5 37.3,62.0 59.2,62.0 86.2,62.0 94.7,62.0" fill="none" stroke="#1a3050" stroke-width="1.6" stroke-linejoin="round" opacity="1.0"/><polyline points="25.9,77.4 30.8,72.4 37.3,65.9 59.2,65.9 86.2,65.9 94.7,65.9" fill="none" stroke="#1a3050" stroke-width="1.6" stroke-linejoin="round" opacity="1.0"/><polyline points="25.9,81.3 30.8,76.3 37.3,69.9 59.2,69.9 86.2,69.9 94.7,69.9" fill="none" stroke="#1a3050" stroke-width="1.6" stroke-linejoin="round" opacity="1.0"/><polyline points="65.7,125.6 65.7,135.0 71.7,141.0 61.8,151.0" fill="none" stroke="#1a3050" stroke-width="1.6" stroke-linejoin="round" opacity="1.0"/><polyline points="63.0,125.6 63.0,135.0 69.1,141.0 59.1,151.0" fill="none" stroke="#1a3050" stroke-width="1.6" stroke-linejoin="round" opacity="1.0"/><polyline points="60.3,125.6 60.3,135.0 66.4,141.0 56.4,151.0" fill="none" stroke="#1a3050" stroke-width="1.6" stroke-linejoin="round" opacity="1.0"/><polyline points="57.6,125.6 57.6,135.0 63.7,141.0 53.7,151.0" fill="none" stroke="#1a3050" stroke-width="1.6" stroke-linejoin="round" opacity="1.0"/><polyline points="55.0,125.6 55.0,135.0 61.0,141.0 51.1,151.0" fill="none" stroke="#1a3050" stroke-width="1.6" stroke-linejoin="round" opacity="1.0"/><polyline points="46.9,52.1 9.7,52.1 -8.6,52.1 -15.8,59.3" fill="none" stroke="#1f3a5e" stroke-width="1.6" stroke-linejoin="round" opacity="1.0"/><polyline points="46.9,49.5 9.7,49.5 -8.6,49.5 -15.8,56.8" fill="none" stroke="#1f3a5e" stroke-width="1.6" stroke-linejoin="round" opacity="1.0"/><polyline points="46.9,47.0 9.7,47.0 -8.6,47.0 -15.8,54.2" fill="none" stroke="#1f3a5e" stroke-width="1.6" stroke-linejoin="round" opacity="1.0"/><polyline points="83.6,-1.2 110.5,-1.2 145.0,-1.2 158.7,-1.2 166.3,6.4" fill="none" stroke="#1a3050" stroke-width="1.2" stroke-linejoin="round" opacity="1.0"/><polyline points="83.6,1.5 110.5,1.5 145.0,1.5 158.7,1.5 166.3,9.1" fill="none" stroke="#1a3050" stroke-width="1.2" stroke-linejoin="round" opacity="1.0"/><polyline points="298.0,2.3 298.0,-17.4 298.0,-49.5" fill="none" stroke="#1f3a5e" stroke-width="1.6" stroke-linejoin="round" opacity="1.0"/><polyline points="169.9,1.0 208.1,1.0 224.1,-15.0" fill="none" stroke="#1f3a5e" stroke-width="1.2" stroke-linejoin="round" opacity="1.0"/><polyline points="3.8,59.7 -19.3,59.7 -54.5,59.7 -62.1,59.7" fill="none" stroke="#1f3a5e" stroke-width="1.6" stroke-linejoin="round" opacity="1.0"/><polyline points="3.8,56.9 -19.3,56.9 -54.5,56.9 -62.1,56.9" fill="none" stroke="#1f3a5e" stroke-width="1.6" stroke-linejoin="round" opacity="1.0"/><polyline points="3.8,54.0 -19.3,54.0 -54.5,54.0 -62.1,54.0" fill="none" stroke="#1f3a5e" stroke-width="1.6" stroke-linejoin="round" opacity="1.0"/><polyline points="3.8,51.1 -19.3,51.1 -54.5,51.1 -62.1,51.1" fill="none" stroke="#1f3a5e" stroke-width="1.6" stroke-linejoin="round" opacity="1.0"/><polyline points="3.8,48.3 -19.3,48.3 -54.5,48.3 -62.1,48.3" fill="none" stroke="#1f3a5e" stroke-width="1.6" stroke-linejoin="round" opacity="1.0"/><polyline points="238.8,29.7 258.1,10.4 272.3,24.6 290.5,42.8" fill="none" stroke="#16294a" stroke-width="1.6" stroke-linejoin="round" opacity="1.0"/><polyline points="238.8,33.4 258.1,14.1 272.3,28.4 290.5,46.6" fill="none" stroke="#16294a" stroke-width="1.6" stroke-linejoin="round" opacity="1.0"/><polyline points="238.8,37.2 258.1,17.9 272.3,32.2 290.5,50.3" fill="none" stroke="#16294a" stroke-width="1.6" stroke-linejoin="round" opacity="1.0"/><polyline points="247.9,67.2 267.9,67.2 298.7,67.2 316.3,67.2 338.3,67.2 357.0,85.9" fill="none" stroke="#16294a" stroke-width="1.2" stroke-linejoin="round" opacity="1.0"/><polyline points="247.9,70.2 267.9,70.2 298.7,70.2 316.3,70.2 338.3,70.2 357.0,88.9" fill="none" stroke="#16294a" stroke-width="1.2" stroke-linejoin="round" opacity="1.0"/><polyline points="247.9,73.2 267.9,73.2 298.7,73.2 316.3,73.2 338.3,73.2 357.0,91.9" fill="none" stroke="#16294a" stroke-width="1.2" stroke-linejoin="round" opacity="1.0"/><polyline points="247.9,76.2 267.9,76.2 298.7,76.2 316.3,76.2 338.3,76.2 357.0,94.9" fill="none" stroke="#16294a" stroke-width="1.2" stroke-linejoin="round" opacity="1.0"/><polyline points="247.9,79.2 267.9,79.2 298.7,79.2 316.3,79.2 338.3,79.2 357.0,97.9" fill="none" stroke="#16294a" stroke-width="1.2" stroke-linejoin="round" opacity="1.0"/><polyline points="241.0,52.5 222.2,33.8 182.9,33.8" fill="none" stroke="#1a3050" stroke-width="0.8" stroke-linejoin="round" opacity="1.0"/><polyline points="241.0,49.1 222.2,30.3 182.9,30.3" fill="none" stroke="#1a3050" stroke-width="0.8" stroke-linejoin="round" opacity="1.0"/><polyline points="241.0,45.6 222.2,26.9 182.9,26.9" fill="none" stroke="#1a3050" stroke-width="0.8" stroke-linejoin="round" opacity="1.0"/><polyline points="241.0,42.1 222.2,23.4 182.9,23.4" fill="none" stroke="#1a3050" stroke-width="0.8" stroke-linejoin="round" opacity="1.0"/><polyline points="167.3,121.5 161.6,115.8 143.2,97.4 128.2,97.4 101.6,97.4" fill="none" stroke="#2a5f9e" stroke-width="0.9" stroke-linejoin="round" opacity="1.0"/><polyline points="167.3,118.6 161.6,112.9 143.2,94.5 128.2,94.5 101.6,94.5" fill="none" stroke="#2a5f9e" stroke-width="0.9" stroke-linejoin="round" opacity="1.0"/><polyline points="154.4,32.9 169.1,18.1 179.2,28.2" fill="none" stroke="#2f6cb0" stroke-width="1.3" stroke-linejoin="round" opacity="1.0"/><polyline points="99.0,31.5 99.0,0.3 79.1,-19.6" fill="none" stroke="#2f6cb0" stroke-width="1.3" stroke-linejoin="round" opacity="1.0"/><polyline points="191.5,101.1 187.8,97.4 150.7,97.4 138.5,109.7 122.8,109.7" fill="none" stroke="#3a80c8" stroke-width="0.9" stroke-linejoin="round" opacity="1.0"/><polyline points="183.5,75.3 183.5,101.9 183.5,121.3 167.6,137.2 167.6,146.5 167.6,158.9" fill="none" stroke="#2a5f9e" stroke-width="0.9" stroke-linejoin="round" opacity="1.0"/><polyline points="180.2,75.3 180.2,101.9 180.2,121.3 164.3,137.2 164.3,146.5 164.3,158.9" fill="none" stroke="#2a5f9e" stroke-width="0.9" stroke-linejoin="round" opacity="1.0"/><polyline points="98.6,110.1 79.5,110.1 65.4,96.0 49.5,96.0" fill="none" stroke="#3a80c8" stroke-width="0.9" stroke-linejoin="round" opacity="1.0"/><polyline points="98.6,107.1 79.5,107.1 65.4,92.9 49.5,92.9" fill="none" stroke="#3a80c8" stroke-width="0.9" stroke-linejoin="round" opacity="1.0"/><polyline points="98.6,104.0 79.5,104.0 65.4,89.8 49.5,89.8" fill="none" stroke="#3a80c8" stroke-width="0.9" stroke-linejoin="round" opacity="1.0"/><polyline points="191.3,30.9 222.2,30.9 246.4,30.9 265.1,30.9 283.6,30.9" fill="none" stroke="#2f6cb0" stroke-width="1.3" stroke-linejoin="round" opacity="1.0"/><polyline points="191.3,33.8 222.2,33.8 246.4,33.8 265.1,33.8 283.6,33.8" fill="none" stroke="#2f6cb0" stroke-width="1.3" stroke-linejoin="round" opacity="1.0"/><polyline points="191.3,36.7 222.2,36.7 246.4,36.7 265.1,36.7 283.6,36.7" fill="none" stroke="#2f6cb0" stroke-width="1.3" stroke-linejoin="round" opacity="1.0"/><polyline points="117.8,43.7 101.9,43.7 80.4,43.7" fill="none" stroke="#3a80c8" stroke-width="0.9" stroke-linejoin="round" opacity="1.0"/><polyline points="195.8,49.0 195.8,36.6 195.8,22.6 195.8,-9.6 195.8,-26.1 195.8,-38.0" fill="none" stroke="#2f6cb0" stroke-width="0.9" stroke-linejoin="round" opacity="1.0"/><polyline points="198.5,49.0 198.5,36.6 198.5,22.6 198.5,-9.6 198.5,-26.1 198.5,-38.0" fill="none" stroke="#2f6cb0" stroke-width="0.9" stroke-linejoin="round" opacity="1.0"/><polyline points="201.2,49.0 201.2,36.6 201.2,22.6 201.2,-9.6 201.2,-26.1 201.2,-38.0" fill="none" stroke="#2f6cb0" stroke-width="0.9" stroke-linejoin="round" opacity="1.0"/><polyline points="187.9,106.0 172.7,90.8 172.7,62.5" fill="none" stroke="#2a5f9e" stroke-width="0.9" stroke-linejoin="round" opacity="1.0"/><polyline points="191.0,106.0 175.8,90.8 175.8,62.5" fill="none" stroke="#2a5f9e" stroke-width="0.9" stroke-linejoin="round" opacity="1.0"/><polyline points="194.1,106.0 178.9,90.8 178.9,62.5" fill="none" stroke="#2a5f9e" stroke-width="0.9" stroke-linejoin="round" opacity="1.0"/><polyline points="171.0,119.2 171.0,96.8 171.0,77.2 171.0,52.9" fill="none" stroke="#3a80c8" stroke-width="1.3" stroke-linejoin="round" opacity="1.0"/><polyline points="120.9,124.9 120.9,144.6 126.5,150.2 117.4,159.3 117.4,174.4" fill="none" stroke="#3a80c8" stroke-width="1.3" stroke-linejoin="round" opacity="1.0"/><polyline points="117.9,124.9 117.9,144.6 123.5,150.2 114.4,159.3 114.4,174.4" fill="none" stroke="#3a80c8" stroke-width="1.3" stroke-linejoin="round" opacity="1.0"/><polyline points="114.9,124.9 114.9,144.6 120.5,150.2 111.4,159.3 111.4,174.4" fill="none" stroke="#3a80c8" stroke-width="1.3" stroke-linejoin="round" opacity="1.0"/><polyline points="157.6,117.8 162.4,122.6 200.4,122.6 234.9,122.6 254.1,141.9" fill="none" stroke="#2a5f9e" stroke-width="0.9" stroke-linejoin="round" opacity="1.0"/><polyline points="177.9,54.5 177.9,22.6 177.9,13.6 177.9,3.4 177.9,-24.8" fill="none" stroke="#3a80c8" stroke-width="0.9" stroke-linejoin="round" opacity="1.0"/><polyline points="98.6,103.3 127.3,103.3 139.4,103.3 156.3,103.3 174.1,121.1" fill="none" stroke="#2a5f9e" stroke-width="0.9" stroke-linejoin="round" opacity="1.0"/><polyline points="169.8,3.3 169.8,33.5 154.7,48.6 167.0,60.9 167.0,92.9 167.0,108.1" fill="none" stroke="#2f6cb0" stroke-width="0.9" stroke-linejoin="round" opacity="1.0"/><polyline points="165.2,73.4 154.6,73.4 118.1,73.4 98.8,92.6" fill="none" stroke="#3a80c8" stroke-width="1.3" stroke-linejoin="round" opacity="1.0"/><polyline points="99.6,112.8 99.6,98.1 80.8,79.3 71.3,69.8 51.6,50.0" fill="none" stroke="#2a5f9e" stroke-width="0.9" stroke-linejoin="round" opacity="1.0"/><polyline points="102.9,112.8 102.9,98.1 84.1,79.3 74.6,69.8 54.8,50.0" fill="none" stroke="#2a5f9e" stroke-width="0.9" stroke-linejoin="round" opacity="1.0"/><polyline points="136.6,113.6 146.7,123.7 152.2,118.3 175.9,118.3 194.8,99.4 215.8,99.4" fill="none" stroke="#2a5f9e" stroke-width="0.9" stroke-linejoin="round" opacity="1.0"/><polyline points="136.6,116.9 146.7,127.0 152.2,121.5 175.9,121.5 194.8,102.6 215.8,102.6" fill="none" stroke="#2a5f9e" stroke-width="0.9" stroke-linejoin="round" opacity="1.0"/><polyline points="136.6,120.1 146.7,130.2 152.2,124.8 175.9,124.8 194.8,105.8 215.8,105.8" fill="none" stroke="#2a5f9e" stroke-width="0.9" stroke-linejoin="round" opacity="1.0"/><polyline points="166.7,50.1 132.1,50.1 116.7,65.6 110.6,65.6" fill="none" stroke="#2a5f9e" stroke-width="1.3" stroke-linejoin="round" opacity="1.0"/><polyline points="166.7,46.7 132.1,46.7 116.7,62.2 110.6,62.2" fill="none" stroke="#2a5f9e" stroke-width="1.3" stroke-linejoin="round" opacity="1.0"/><polyline points="162.9,95.1 149.0,108.9 149.0,117.8 149.0,135.1" fill="none" stroke="#2a5f9e" stroke-width="1.3" stroke-linejoin="round" opacity="1.0"/><polyline points="159.6,95.1 145.8,108.9 145.8,117.8 145.8,135.1" fill="none" stroke="#2a5f9e" stroke-width="1.3" stroke-linejoin="round" opacity="1.0"/><polyline points="147.0,103.9 147.0,84.8 135.3,73.2 139.3,69.2 139.3,39.0" fill="none" stroke="#2f6cb0" stroke-width="0.9" stroke-linejoin="round" opacity="1.0"/><polyline points="150.0,103.9 150.0,84.8 138.4,73.2 142.3,69.2 142.3,39.0" fill="none" stroke="#2f6cb0" stroke-width="0.9" stroke-linejoin="round" opacity="1.0"/><polyline points="153.0,103.9 153.0,84.8 141.4,73.2 145.4,69.2 145.4,39.0" fill="none" stroke="#2f6cb0" stroke-width="0.9" stroke-linejoin="round" opacity="1.0"/><path d="M112 40 L150 36 L165 40 L190 44 L190 98 L112 98 Z" fill="#2f64a8" opacity="0.85"/><rect x="126" y="46" width="48" height="50" rx="2" fill="#3f7cc4"/><rect x="129" y="49" width="42" height="44" fill="none" stroke="#7ab4ec" stroke-width="1.2" opacity="0.8"/><rect x="132.4" y="51.1" width="35.5" height="39" fill="#5a8ed4"/><circle cx="135.0" cy="54.0" r="0.8" fill="#a8c8f0"/><circle cx="135.0" cy="58.6" r="0.8" fill="#a8c8f0"/><circle cx="135.0" cy="63.2" r="0.8" fill="#a8c8f0"/><circle cx="135.0" cy="67.8" r="0.8" fill="#a8c8f0"/><circle cx="135.0" cy="72.4" r="0.8" fill="#a8c8f0"/><circle cx="135.0" cy="77.0" r="0.8" fill="#a8c8f0"/><circle cx="135.0" cy="81.6" r="0.8" fill="#a8c8f0"/><circle cx="135.0" cy="86.2" r="0.8" fill="#a8c8f0"/><circle cx="139.3" cy="54.0" r="0.8" fill="#a8c8f0"/><circle cx="139.3" cy="58.6" r="0.8" fill="#a8c8f0"/><circle cx="139.3" cy="63.2" r="0.8" fill="#a8c8f0"/><circle cx="139.3" cy="67.8" r="0.8" fill="#a8c8f0"/><circle cx="139.3" cy="72.4" r="0.8" fill="#a8c8f0"/><circle cx="139.3" cy="77.0" r="0.8" fill="#a8c8f0"/><circle cx="139.3" cy="81.6" r="0.8" fill="#a8c8f0"/><circle cx="139.3" cy="86.2" r="0.8" fill="#a8c8f0"/><circle cx="143.6" cy="54.0" r="0.8" fill="#a8c8f0"/><circle cx="143.6" cy="58.6" r="0.8" fill="#a8c8f0"/><circle cx="143.6" cy="63.2" r="0.8" fill="#a8c8f0"/><circle cx="143.6" cy="67.8" r="0.8" fill="#a8c8f0"/><circle cx="143.6" cy="72.4" r="0.8" fill="#a8c8f0"/><circle cx="143.6" cy="77.0" r="0.8" fill="#a8c8f0"/><circle cx="143.6" cy="81.6" r="0.8" fill="#a8c8f0"/><circle cx="143.6" cy="86.2" r="0.8" fill="#a8c8f0"/><circle cx="147.9" cy="54.0" r="0.8" fill="#a8c8f0"/><circle cx="147.9" cy="58.6" r="0.8" fill="#a8c8f0"/><circle cx="147.9" cy="63.2" r="0.8" fill="#a8c8f0"/><circle cx="147.9" cy="67.8" r="0.8" fill="#a8c8f0"/><circle cx="147.9" cy="72.4" r="0.8" fill="#a8c8f0"/><circle cx="147.9" cy="77.0" r="0.8" fill="#a8c8f0"/><circle cx="147.9" cy="81.6" r="0.8" fill="#a8c8f0"/><circle cx="147.9" cy="86.2" r="0.8" fill="#a8c8f0"/><circle cx="152.2" cy="54.0" r="0.8" fill="#a8c8f0"/><circle cx="152.2" cy="58.6" r="0.8" fill="#a8c8f0"/><circle cx="152.2" cy="63.2" r="0.8" fill="#a8c8f0"/><circle cx="152.2" cy="67.8" r="0.8" fill="#a8c8f0"/><circle cx="152.2" cy="72.4" r="0.8" fill="#a8c8f0"/><circle cx="152.2" cy="77.0" r="0.8" fill="#a8c8f0"/><circle cx="152.2" cy="81.6" r="0.8" fill="#a8c8f0"/><circle cx="152.2" cy="86.2" r="0.8" fill="#a8c8f0"/><circle cx="156.5" cy="54.0" r="0.8" fill="#a8c8f0"/><circle cx="156.5" cy="58.6" r="0.8" fill="#a8c8f0"/><circle cx="156.5" cy="63.2" r="0.8" fill="#a8c8f0"/><circle cx="156.5" cy="67.8" r="0.8" fill="#a8c8f0"/><circle cx="156.5" cy="72.4" r="0.8" fill="#a8c8f0"/><circle cx="156.5" cy="77.0" r="0.8" fill="#a8c8f0"/><circle cx="156.5" cy="81.6" r="0.8" fill="#a8c8f0"/><circle cx="156.5" cy="86.2" r="0.8" fill="#a8c8f0"/><circle cx="160.8" cy="54.0" r="0.8" fill="#a8c8f0"/><circle cx="160.8" cy="58.6" r="0.8" fill="#a8c8f0"/><circle cx="160.8" cy="63.2" r="0.8" fill="#a8c8f0"/><circle cx="160.8" cy="67.8" r="0.8" fill="#a8c8f0"/><circle cx="160.8" cy="72.4" r="0.8" fill="#a8c8f0"/><circle cx="160.8" cy="77.0" r="0.8" fill="#a8c8f0"/><circle cx="160.8" cy="81.6" r="0.8" fill="#a8c8f0"/><circle cx="160.8" cy="86.2" r="0.8" fill="#a8c8f0"/><circle cx="165.1" cy="54.0" r="0.8" fill="#a8c8f0"/><circle cx="165.1" cy="58.6" r="0.8" fill="#a8c8f0"/><circle cx="165.1" cy="63.2" r="0.8" fill="#a8c8f0"/><circle cx="165.1" cy="67.8" r="0.8" fill="#a8c8f0"/><circle cx="165.1" cy="72.4" r="0.8" fill="#a8c8f0"/><circle cx="165.1" cy="77.0" r="0.8" fill="#a8c8f0"/><circle cx="165.1" cy="81.6" r="0.8" fill="#a8c8f0"/><circle cx="165.1" cy="86.2" r="0.8" fill="#a8c8f0"/><circle cx="181" cy="50" r="1.3" fill="#9ec0f0"/><circle cx="117" cy="52" r="1.2" fill="#8ab0e0"/><circle cx="181" cy="56" r="1.3" fill="#9ec0f0"/><circle cx="117" cy="58" r="1.2" fill="#8ab0e0"/><circle cx="181" cy="62" r="1.3" fill="#9ec0f0"/><circle cx="117" cy="64" r="1.2" fill="#8ab0e0"/><circle cx="181" cy="68" r="1.3" fill="#9ec0f0"/><circle cx="117" cy="70" r="1.2" fill="#8ab0e0"/><circle cx="181" cy="74" r="1.3" fill="#9ec0f0"/><circle cx="117" cy="76" r="1.2" fill="#8ab0e0"/><circle cx="181" cy="80" r="1.3" fill="#9ec0f0"/><circle cx="117" cy="82" r="1.2" fill="#8ab0e0"/><circle cx="181" cy="86" r="1.3" fill="#9ec0f0"/><circle cx="117" cy="88" r="1.2" fill="#8ab0e0"/><circle cx="181" cy="92" r="1.3" fill="#9ec0f0"/><circle cx="117" cy="94" r="1.2" fill="#8ab0e0"/><ellipse cx="127" cy="36" rx="3" ry="2" fill="#c8dcf8"/><rect x="136" y="33" width="7" height="3.2" fill="#c8dcf8"/><rect x="122" y="92" width="6" height="4" fill="#c8dcf8"/><rect x="139" y="92" width="6" height="4" fill="#c8dcf8"/><circle cx="115.5" cy="45.4" r="0.5" fill="#cfe0ff" opacity="0.78"/><circle cx="270.4" cy="66.0" r="0.9" fill="#cfe0ff" opacity="0.70"/><circle cx="157.3" cy="89.1" r="0.9" fill="#cfe0ff" opacity="0.41"/><circle cx="192.4" cy="26.9" r="0.5" fill="#cfe0ff" opacity="0.42"/><circle cx="204.4" cy="95.5" r="0.7" fill="#cfe0ff" opacity="0.70"/><circle cx="9.0" cy="9.8" r="0.9" fill="#cfe0ff" opacity="0.74"/><circle cx="227.8" cy="59.5" r="0.5" fill="#cfe0ff" opacity="0.61"/><circle cx="1.4" cy="11.2" r="0.7" fill="#cfe0ff" opacity="0.55"/><circle cx="66.3" cy="11.2" r="0.9" fill="#cfe0ff" opacity="0.72"/><circle cx="250.9" cy="116.7" r="0.7" fill="#cfe0ff" opacity="0.48"/><circle cx="181.5" cy="79.6" r="0.7" fill="#cfe0ff" opacity="0.76"/><circle cx="122.0" cy="2.5" r="0.7" fill="#cfe0ff" opacity="0.68"/><circle cx="100.9" cy="88.6" r="0.7" fill="#cfe0ff" opacity="0.69"/><circle cx="195.3" cy="71.5" r="0.5" fill="#cfe0ff" opacity="0.75"/><circle cx="154.1" cy="85.9" r="0.5" fill="#cfe0ff" opacity="0.54"/><circle cx="56.5" cy="60.2" r="0.7" fill="#cfe0ff" opacity="0.83"/><circle cx="5.0" cy="23.4" r="0.5" fill="#cfe0ff" opacity="0.73"/><circle cx="56.9" cy="16.7" r="0.9" fill="#cfe0ff" opacity="0.51"/><circle cx="171.9" cy="58.7" r="0.9" fill="#cfe0ff" opacity="0.78"/><circle cx="23.8" cy="98.9" r="0.7" fill="#cfe0ff" opacity="0.41"/><circle cx="179.3" cy="25.5" r="0.9" fill="#cfe0ff" opacity="0.70"/><circle cx="279.4" cy="124.3" r="0.7" fill="#cfe0ff" opacity="0.43"/><circle cx="247.2" cy="117.1" r="0.5" fill="#cfe0ff" opacity="0.44"/><circle cx="219.5" cy="121.5" r="0.9" fill="#cfe0ff" opacity="0.62"/><circle cx="154.6" cy="116.4" r="0.7" fill="#cfe0ff" opacity="0.80"/><circle cx="110.1" cy="64.4" r="0.9" fill="#cfe0ff" opacity="0.90"/><circle cx="190.2" cy="103.7" r="0.5" fill="#cfe0ff" opacity="0.83"/><circle cx="146.2" cy="83.1" r="0.7" fill="#cfe0ff" opacity="0.53"/><circle cx="177.7" cy="35.8" r="0.7" fill="#cfe0ff" opacity="0.55"/><circle cx="271.9" cy="87.0" r="0.9" fill="#cfe0ff" opacity="0.88"/><circle cx="100.5" cy="21.6" r="0.5" fill="#cfe0ff" opacity="0.69"/><circle cx="151.5" cy="88.8" r="0.7" fill="#cfe0ff" opacity="0.51"/><circle cx="58.4" cy="123.0" r="0.7" fill="#cfe0ff" opacity="0.50"/><circle cx="167.5" cy="84.1" r="0.5" fill="#cfe0ff" opacity="0.75"/><circle cx="123.2" cy="100.5" r="0.5" fill="#cfe0ff" opacity="0.51"/><circle cx="156.0" cy="80.3" r="0.9" fill="#cfe0ff" opacity="0.76"/><circle cx="55.4" cy="13.6" r="0.5" fill="#cfe0ff" opacity="0.44"/><circle cx="101.2" cy="102.5" r="0.7" fill="#cfe0ff" opacity="0.49"/><circle cx="80.1" cy="42.1" r="0.5" fill="#cfe0ff" opacity="0.83"/><circle cx="261.8" cy="31.6" r="0.5" fill="#cfe0ff" opacity="0.73"/><circle cx="256.1" cy="1.5" r="0.7" fill="#cfe0ff" opacity="0.79"/><circle cx="140.3" cy="26.5" r="0.9" fill="#cfe0ff" opacity="0.63"/><circle cx="57.8" cy="92.2" r="0.7" fill="#cfe0ff" opacity="0.79"/><circle cx="4.9" cy="82.6" r="0.9" fill="#cfe0ff" opacity="0.67"/><circle cx="165.3" cy="22.6" r="0.7" fill="#cfe0ff" opacity="0.76"/><circle cx="273.5" cy="69.4" r="0.9" fill="#cfe0ff" opacity="0.90"/><circle cx="63.0" cy="22.7" r="0.7" fill="#cfe0ff" opacity="0.78"/><circle cx="279.7" cy="31.6" r="0.9" fill="#cfe0ff" opacity="0.44"/><circle cx="244.8" cy="43.5" r="0.7" fill="#cfe0ff" opacity="0.52"/><circle cx="102.8" cy="112.2" r="0.7" fill="#cfe0ff" opacity="0.65"/><circle cx="187.7" cy="121.0" r="0.7" fill="#cfe0ff" opacity="0.50"/><circle cx="2.8" cy="108.4" r="0.9" fill="#cfe0ff" opacity="0.61"/><circle cx="176.6" cy="49.1" r="0.9" fill="#cfe0ff" opacity="0.72"/><circle cx="175.1" cy="41.4" r="0.5" fill="#cfe0ff" opacity="0.45"/><circle cx="5.2" cy="43.4" r="0.7" fill="#cfe0ff" opacity="0.79"/><circle cx="220.3" cy="111.5" r="0.7" fill="#cfe0ff" opacity="0.60"/><circle cx="208.2" cy="44.8" r="0.9" fill="#cfe0ff" opacity="0.44"/><circle cx="175.1" cy="4.3" r="0.9" fill="#cfe0ff" opacity="0.69"/><circle cx="211.0" cy="7.6" r="0.9" fill="#cfe0ff" opacity="0.55"/><circle cx="96.6" cy="63.4" r="0.7" fill="#cfe0ff" opacity="0.64"/><circle cx="69.1" cy="85.8" r="0.5" fill="#cfe0ff" opacity="0.81"/><circle cx="58.3" cy="49.9" r="0.9" fill="#cfe0ff" opacity="0.63"/><circle cx="95.6" cy="18.5" r="0.7" fill="#cfe0ff" opacity="0.64"/><circle cx="140.2" cy="76.1" r="0.5" fill="#cfe0ff" opacity="0.67"/><circle cx="140.8" cy="95.3" r="0.7" fill="#cfe0ff" opacity="0.79"/><circle cx="123.9" cy="26.0" r="0.7" fill="#cfe0ff" opacity="0.51"/><circle cx="242.9" cy="7.6" r="0.5" fill="#cfe0ff" opacity="0.44"/><circle cx="265.2" cy="24.0" r="0.5" fill="#cfe0ff" opacity="0.57"/><circle cx="68.8" cy="58.7" r="0.9" fill="#cfe0ff" opacity="0.50"/><circle cx="210.8" cy="64.7" r="0.7" fill="#cfe0ff" opacity="0.76"/><circle cx="271.8" cy="76.3" r="0.9" fill="#cfe0ff" opacity="0.67"/><circle cx="120.2" cy="36.8" r="0.9" fill="#cfe0ff" opacity="0.63"/><circle cx="237.7" cy="20.0" r="0.7" fill="#cfe0ff" opacity="0.58"/><circle cx="188.5" cy="75.4" r="0.7" fill="#cfe0ff" opacity="0.61"/><circle cx="135.7" cy="96.5" r="0.5" fill="#cfe0ff" opacity="0.51"/><circle cx="105.0" cy="105.7" r="0.9" fill="#cfe0ff" opacity="0.83"/><circle cx="83.1" cy="40.0" r="0.5" fill="#cfe0ff" opacity="0.80"/><circle cx="232.6" cy="1.0" r="0.7" fill="#cfe0ff" opacity="0.72"/><circle cx="191.0" cy="79.9" r="0.5" fill="#cfe0ff" opacity="0.84"/><circle cx="116.2" cy="116.7" r="0.5" fill="#cfe0ff" opacity="0.67"/><circle cx="250" cy="32" r="1.6" fill="#8aa8d8"/><circle cx="255" cy="33" r="1.6" fill="#8aa8d8"/><circle cx="261" cy="33" r="1.6" fill="#8aa8d8"/><circle cx="267" cy="34" r="1.6" fill="#8aa8d8"/><circle cx="274" cy="35" r="1.6" fill="#8aa8d8"/><circle cx="254" cy="63" r="1.6" fill="#8aa8d8"/><circle cx="261" cy="64" r="1.6" fill="#8aa8d8"/><circle cx="268" cy="64" r="1.6" fill="#8aa8d8"/><circle cx="275" cy="65" r="1.6" fill="#8aa8d8"/><circle cx="14" cy="47" r="1.6" fill="#8aa8d8"/></svg></div><div style="position:absolute;left:349.20px;top:331.40px;font:normal 400 15px/18.00px 'Liberation Sans', sans-serif;color:#fff;white-space:nowrap;">Modeling for Physical Realism</div><div style="position:absolute;left:95.2px;top:273.3px;width:145.6px;height:108.2px;background:#8a95ad;overflow:hidden"><svg class="img" width="145.6" height="108.2" viewBox="0 0 145.6 108.2" style="position:absolute;left:0;top:0"><defs><linearGradient id="hrbg" x1="0" y1="0" x2="0" y2="1"><stop offset="0" stop-color="#8690ac"/><stop offset="1" stop-color="#98a2bc"/></linearGradient></defs><rect width="145.6" height="108.2" fill="url(#hrbg)"/><polygon points="10,85 90,85 90,108.2 10,108.2" fill="#d6d6d8"/><rect x="10.3" y="85.6" width="48" height="8" fill="#c8b898"/><rect x="91.5" y="76" width="27" height="9.6" fill="#cdb898"/><polygon points="118,85 125,85 135,98 128,100" fill="#c8b090"/><polygon points="7.4,8.2 95.4,30.5 95.4,85.6 10,85.6 10,104 6,104 6,9" fill="#1f1f22"/><polygon points="7.4,8.2 95.4,30.5 95.4,35 9,19" fill="#48484d"/><polygon points="9,19 95.4,35 95.4,37 10,22" fill="#151517"/><rect x="42.5" y="8" width="1.2" height="9" fill="#b0b0b0"/><polygon points="93.5,44 118,44 141.8,55 141.8,72.1 138,95.3 120,95 118.6,72.1 93.5,72" fill="#1c1c1f"/><polygon points="93.5,52.7 119,52.7 122.5,59.5 93.5,59.5" fill="#d8c29c"/><rect x="45" y="59.5" width="77" height="2" fill="#cdb48c"/><rect x="39" y="61.4" width="80" height="14.6" fill="#242427"/><rect x="17" y="32.4" width="6.8" height="26" fill="#b8b0b4"/><rect x="25" y="32.4" width="6.8" height="26" fill="#c0b4b8"/><rect x="18" y="38" width="5" height="6" fill="#c07a80"/><rect x="26" y="38" width="5" height="6" fill="#c07a80"/><rect x="43.2" y="40.2" width="6.8" height="14.5" fill="#8a9096"/><rect x="64.4" y="41.1" width="18.4" height="11.6" fill="#7e848a"/><rect x="17" y="68" width="12" height="8" fill="#5c6064"/><rect x="43.2" y="76.9" width="8.7" height="7.8" fill="#e08a1a"/><rect x="42.5" y="84" width="1.8" height="16" fill="#222"/><rect x="41.0" y="100" width="5" height="2" fill="#e8e8e8"/><rect x="61.5" y="84" width="1.8" height="16" fill="#222"/><rect x="60.0" y="100" width="5" height="2" fill="#e8e8e8"/><rect x="97.5" y="84" width="1.8" height="16" fill="#222"/><rect x="96.0" y="100" width="5" height="2" fill="#e8e8e8"/></svg></div><div style="position:absolute;left:53.30px;top:385.30px;width:718.10px;height:116.70px;background:#a3acb8;"></div><div style="position:absolute;left:63.10px;top:388.18px;font:normal 400 9.85px/11.82px 'Liberation Sans', sans-serif;color:#151515;white-space:nowrap;">Digital Siblings</div><div style="position:absolute;left:121.70px;top:414.97px;font:normal 400 12.5px/15.00px 'Liberation Sans', sans-serif;color:#1a1a1a;white-space:nowrap;">Risk Assessment</div><div style="position:absolute;left:109.6px;top:421.90px;width:2.7px;height:2.7px;border-radius:50%;background:#1a1a1a"></div><div style="position:absolute;left:121.70px;top:429.97px;font:normal 400 12.5px/15.00px 'Liberation Sans', sans-serif;color:#1a1a1a;white-space:nowrap;"><i>What if?</i> Analysis</div><div style="position:absolute;left:109.6px;top:436.90px;width:2.7px;height:2.7px;border-radius:50%;background:#1a1a1a"></div><div style="position:absolute;left:121.70px;top:444.97px;font:normal 400 12.5px/15.00px 'Liberation Sans', sans-serif;color:#1a1a1a;white-space:nowrap;">Uncertainty Quantification</div><div style="position:absolute;left:109.6px;top:451.90px;width:2.7px;height:2.7px;border-radius:50%;background:#1a1a1a"></div><div style="position:absolute;left:121.70px;top:459.97px;font:normal 400 12.5px/15.00px 'Liberation Sans', sans-serif;color:#1a1a1a;white-space:nowrap;">Process Optimization</div><div style="position:absolute;left:109.6px;top:466.90px;width:2.7px;height:2.7px;border-radius:50%;background:#1a1a1a"></div><div style="position:absolute;left:320.4px;top:407.1px;width:106.5px;height:74.4px;background:#8090b0;overflow:hidden"><svg class="img" width="106.5" height="74.4" viewBox="0 0 106.5 74.4" style="position:absolute;left:0;top:0"><defs><linearGradient id="s1bg" x1="0" y1="0" x2="0" y2="1"><stop offset="0" stop-color="#c4daf2"/><stop offset="0.5" stop-color="#b0c4dc"/><stop offset="1" stop-color="#9eaac0"/></linearGradient></defs><rect width="106.5" height="74.4" fill="url(#s1bg)"/><polygon points="9.5,29 36,29 36,21 96.5,13.3 106.5,16 106.5,58.6 96.5,60 96.5,64 36,65 36,49.4 9.5,49.4" fill="#1d1d20"/><rect x="10" y="49.4" width="27" height="1.8" fill="#e0c898"/><polygon points="37,62.5 96.5,62 96.5,64.5 37,65.5" fill="#e6cc98"/><rect x="63.9" y="8" width="1.4" height="7" fill="#aaa"/><rect x="64" y="26" width="12.599999999999994" height="5" fill="#808488"/><rect x="82.4" y="25.5" width="11.199999999999989" height="9.0" fill="#808488"/><rect x="64.6" y="38" width="8.5" height="6.399999999999999" fill="#808488"/><rect x="82.4" y="39" width="11.199999999999989" height="5" fill="#808488"/><rect x="65.3" y="53.6" width="8.5" height="7.100000000000001" fill="#808488"/><rect x="80.9" y="48.6" width="14.099999999999994" height="12.799999999999997" fill="#808488"/><rect x="82" y="50" width="12" height="10" fill="#b89090"/><rect x="48" y="25" width="1.2" height="10" fill="#999"/><rect x="52" y="25" width="1.2" height="10" fill="#999"/><rect x="75.5" y="64" width="1.2" height="6" fill="#222"/></svg></div><div style="position:absolute;left:454.3px;top:407.1px;width:112px;height:72.8px;background:#7d8498;overflow:hidden"><svg class="img" width="112" height="72.8" viewBox="0 0 112 72.8" style="position:absolute;left:0;top:0"><rect width="112" height="72.8" fill="#858ea6"/><polygon points="0,26 0,72.8 30,72.8 30,54 14,40" fill="#2a2a2e"/><polygon points="0,24 14,38 0,40" fill="#3c3c40"/><polygon points="0,53.9 32.6,53.9 38,71.6 0,71.6" fill="#d2b890"/><polygon points="3.1,10.4 35.5,34 78.3,22.2 78.3,36 59,45.8 52,57 40,71.6 30,70 10,56 3.1,50" fill="#1b1b1e"/><polygon points="3.1,10.4 45.9,3.8 78.3,22.2 35.5,34" fill="#3c3c40"/><rect x="36.5" y="6" width="1.4" height="8" fill="#aaa"/><polygon points="76,18.5 109.5,34.7 107,43.5 70,64.2 52,57 56,46" fill="#151517"/><polygon points="54.7,45.8 78.3,25.9 103.4,36.9 69.5,58.3" fill="#d5ba90"/><polygon points="40,64 58,60 66,66 50,71.6 40,71.6" fill="#d2b890"/><rect x="0" y="71.6" width="112" height="1.2" fill="#2a2a30"/><rect x="37.5" y="37" width="3" height="13" fill="#c8ccd0"/><rect x="42" y="37" width="3.2" height="13" fill="#c8ccd0"/><rect x="62" y="31" width="10" height="7" fill="#8a9098"/><rect x="51" y="37" width="4" height="8" fill="#6a7078"/><rect x="51.5" y="55" width="4" height="6" fill="#d88420"/><rect x="3" y="43" width="10" height="10" fill="#6a7078"/><rect x="88" y="58" width="1.2" height="8" fill="#333"/><rect x="64" y="67" width="1.2" height="5" fill="#333"/><rect x="94" y="50" width="5" height="3" fill="#ddd"/><rect x="86" y="62" width="5" height="3" fill="#ddd"/></svg></div><div style="position:absolute;left:595.8px;top:406.4px;width:115.7px;height:75.9px;background:#8a95b0;overflow:hidden"><svg class="img" width="115.7" height="75.9" viewBox="0 0 115.7 75.9" style="position:absolute;left:0;top:0"><defs><linearGradient id="s3bg" x1="0" y1="0" x2="0" y2="1"><stop offset="0" stop-color="#a8b6d2"/><stop offset="1" stop-color="#98a4bc"/></linearGradient></defs><rect width="115.7" height="75.9" fill="url(#s3bg)"/><rect x="17" y="60.6" width="58" height="15.3" fill="#dedfe2"/><polygon points="0,55 17,50 17,70 0,70" fill="#d8c4a0"/><rect x="0" y="70" width="17" height="5.9" fill="#b8bec8"/><polygon points="0.3,7.3 15,10.4 29.2,8.1 79.5,16.5 79.5,32.5 97.8,32.5 97.8,69.8 94,70 94,60 75,60 75,75.9 72,75.9 72,60.6 17,60.6 17,55 0.3,61" fill="#1e1e21"/><polygon points="0.3,7.3 15,10.4 29.2,8.1 79.5,16.5 79.5,22 29,14 15,16 0.3,14" fill="#3a3a3e"/><rect x="49.5" y="2" width="1.4" height="8" fill="#aaa"/><rect x="75" y="38.5" width="21.5" height="3.8" fill="#e0cfb0"/><rect x="75.5" y="55" width="21" height="5" fill="#d8ccb8"/><rect x="21.5" y="21.8" width="4.5" height="16" fill="#b8bcc0"/><rect x="27.5" y="21.8" width="4.5" height="16" fill="#b0b4b8"/><rect x="39.2" y="27.9" width="5.3" height="10.7" fill="#9aa0a6"/><rect x="55.1" y="29.4" width="12.2" height="7.6" fill="#7c8288"/><rect x="1" y="22.5" width="8.4" height="7.6" fill="#8a8e94"/><rect x="40" y="52.3" width="6.8" height="7.6" fill="#d88a2a"/><rect x="30.8" y="60" width="1.8" height="14" fill="#222"/><rect x="44.5" y="60" width="1.8" height="14" fill="#222"/><rect x="70.4" y="60" width="1.8" height="14" fill="#222"/><rect x="93.5" y="70" width="3" height="2.5" fill="#eee"/></svg></div><div style="position:absolute;left:325.70px;top:485.54px;font:normal 400 10px/12.00px 'Liberation Sans', sans-serif;color:#222;white-space:nowrap;">Scenario 1</div><div style="position:absolute;left:459.50px;top:485.14px;font:normal 400 10px/12.00px 'Liberation Sans', sans-serif;color:#222;white-space:nowrap;">Scenario 2</div><div style="position:absolute;left:601.10px;top:485.34px;font:normal 400 10px/12.00px 'Liberation Sans', sans-serif;color:#222;white-space:nowrap;">Scenario 3</div><div style="position:absolute;left:213.20px;top:517.61px;width:400px;text-align:center;font:normal 400 11.08px/13.30px 'Liberation Serif', serif;color:#000;white-space:nowrap;">Figure 1: Example of a full-fledged digital twin pipeline.</div><div style="position:absolute;left:53.30px;top:613.50px;width:720.50px;height:21.50px;background:#dcdcdc;"></div><svg style="position:absolute;left:0;top:0" width="827" height="1169"><polygon points="82.0,606.0 162.0,606.0 168.5,624.0 162.0,642.0 82.0,642.0" fill="#1a6d9e"/><polygon points="197.3,606.0 277.3,606.0 283.8,624.0 277.3,642.0 197.3,642.0" fill="#f39425"/><polygon points="312.6,606.0 392.6,606.0 399.1,624.0 392.6,642.0 312.6,642.0" fill="#b23c2f"/><polygon points="427.9,606.0 507.9,606.0 514.4,624.0 507.9,642.0 427.9,642.0" fill="#22405f"/><polygon points="543.2,606.0 623.2,606.0 629.7,624.0 623.2,642.0 543.2,642.0" fill="#1ba8b8"/><polygon points="658.5,606.0 738.5,606.0 745.0,624.0 738.5,642.0 658.5,642.0" fill="#0b8a25"/></svg><div style="position:absolute;left:90.30px;top:616.36px;font:normal 700 12.3px/14.76px 'Liberation Sans', sans-serif;color:#fff;white-space:nowrap;">0</div><div style="position:absolute;left:205.60px;top:616.36px;font:normal 700 12.3px/14.76px 'Liberation Sans', sans-serif;color:#fff;white-space:nowrap;">1</div><div style="position:absolute;left:320.90px;top:616.36px;font:normal 700 12.3px/14.76px 'Liberation Sans', sans-serif;color:#fff;white-space:nowrap;">2</div><div style="position:absolute;left:436.20px;top:616.36px;font:normal 700 12.3px/14.76px 'Liberation Sans', sans-serif;color:#fff;white-space:nowrap;">3</div><div style="position:absolute;left:551.50px;top:616.36px;font:normal 700 12.3px/14.76px 'Liberation Sans', sans-serif;color:#fff;white-space:nowrap;">4</div><div style="position:absolute;left:666.80px;top:616.36px;font:normal 700 12.3px/14.76px 'Liberation Sans', sans-serif;color:#fff;white-space:nowrap;">5</div><div style="position:absolute;left:53.3px;top:548.6px;width:185.1px;height:48.1px;border:1.2px solid #4a8fbf;border-radius:5px;background:#dedede"></div><div style="position:absolute;left:37.05px;top:554.24px;width:220px;text-align:center;font:normal 700 10.1px/12.12px 'Liberation Sans', sans-serif;color:#3486bd;white-space:nowrap;">Standalone</div><div style="position:absolute;left:37.05px;top:565.66px;width:220px;text-align:center;font:normal 400 8.6px/10.32px 'Liberation Sans', sans-serif;color:#161616;white-space:nowrap;">Standalone description of the asset</div><div style="position:absolute;left:37.05px;top:575.66px;width:220px;text-align:center;font:normal 400 8.6px/10.32px 'Liberation Sans', sans-serif;color:#161616;white-space:nowrap;">disconnected from the real environment.</div><div style="position:absolute;left:37.05px;top:585.66px;width:220px;text-align:center;font:normal 400 8.6px/10.32px 'Liberation Sans', sans-serif;color:#161616;white-space:nowrap;">The physical asset may not yet exist.</div><div style="position:absolute;left:266.6px;top:548.6px;width:185.0px;height:48.1px;border:1.2px solid #c46e6a;border-radius:5px;background:#dedede"></div><div style="position:absolute;left:250.30px;top:554.24px;width:220px;text-align:center;font:normal 700 10.1px/12.12px 'Liberation Sans', sans-serif;color:#bd4842;white-space:nowrap;">Diagnostic</div><div style="position:absolute;left:250.30px;top:565.66px;width:220px;text-align:center;font:normal 400 8.6px/10.32px 'Liberation Sans', sans-serif;color:#161616;white-space:nowrap;">Can present diagnostic information which</div><div style="position:absolute;left:250.30px;top:575.66px;width:220px;text-align:center;font:normal 400 8.6px/10.32px 'Liberation Sans', sans-serif;color:#161616;white-space:nowrap;">supports users with condition monitoring and</div><div style="position:absolute;left:250.30px;top:585.66px;width:220px;text-align:center;font:normal 400 8.6px/10.32px 'Liberation Sans', sans-serif;color:#161616;white-space:nowrap;">troubleshooting.</div><div style="position:absolute;left:491.8px;top:548.6px;width:185.3px;height:48.1px;border:1.2px solid #4ab5c8;border-radius:5px;background:#dedede"></div><div style="position:absolute;left:475.65px;top:554.24px;width:220px;text-align:center;font:normal 700 10.1px/12.12px 'Liberation Sans', sans-serif;color:#2ab0c4;white-space:nowrap;">Prescriptive</div><div style="position:absolute;left:475.65px;top:565.66px;width:220px;text-align:center;font:normal 400 8.6px/10.32px 'Liberation Sans', sans-serif;color:#161616;white-space:nowrap;">Can provide prescription or recommendations</div><div style="position:absolute;left:475.65px;top:575.66px;width:220px;text-align:center;font:normal 400 8.6px/10.32px 'Liberation Sans', sans-serif;color:#161616;white-space:nowrap;">based on what if / risk analysis and uncertainty</div><div style="position:absolute;left:475.65px;top:585.66px;width:220px;text-align:center;font:normal 400 8.6px/10.32px 'Liberation Sans', sans-serif;color:#161616;white-space:nowrap;">quantification.</div><div style="position:absolute;left:146.7px;top:649.2px;width:185.6px;height:48.1px;border:1.2px solid #f0a850;border-radius:5px;background:#dedede"></div><div style="position:absolute;left:130.70px;top:654.84px;width:220px;text-align:center;font:normal 700 10.1px/12.12px 'Liberation Sans', sans-serif;color:#f0a047;white-space:nowrap;">Descriptive</div><div style="position:absolute;left:130.70px;top:666.26px;width:220px;text-align:center;font:normal 400 8.6px/10.32px 'Liberation Sans', sans-serif;color:#161616;white-space:nowrap;">CAD-models and real-time stream of sensor</div><div style="position:absolute;left:130.70px;top:676.56px;width:220px;text-align:center;font:normal 400 8.6px/10.32px 'Liberation Sans', sans-serif;color:#161616;white-space:nowrap;">data describe the up to date state of the asset</div><div style="position:absolute;left:130.70px;top:686.86px;width:220px;text-align:center;font:normal 400 8.6px/10.32px 'Liberation Sans', sans-serif;color:#161616;white-space:nowrap;">at any point of time.</div><div style="position:absolute;left:377.5px;top:649.2px;width:185.1px;height:48.1px;border:1.2px solid #3d4f66;border-radius:5px;background:#dedede"></div><div style="position:absolute;left:361.25px;top:654.84px;width:220px;text-align:center;font:normal 700 10.1px/12.12px 'Liberation Sans', sans-serif;color:#3a5878;white-space:nowrap;">Predictive</div><div style="position:absolute;left:361.25px;top:666.26px;width:220px;text-align:center;font:normal 400 8.6px/10.32px 'Liberation Sans', sans-serif;color:#161616;white-space:nowrap;">Can predict the system's future</div><div style="position:absolute;left:361.25px;top:676.56px;width:220px;text-align:center;font:normal 400 8.6px/10.32px 'Liberation Sans', sans-serif;color:#161616;white-space:nowrap;">states or performance and can support</div><div style="position:absolute;left:361.25px;top:686.86px;width:220px;text-align:center;font:normal 400 8.6px/10.32px 'Liberation Sans', sans-serif;color:#161616;white-space:nowrap;">prognostic capabilities.</div><div style="position:absolute;left:593.2px;top:649.2px;width:178.7px;height:48.1px;border:1.2px solid #3c9c48;border-radius:5px;background:#dedede"></div><div style="position:absolute;left:573.75px;top:654.84px;width:220px;text-align:center;font:normal 700 10.1px/12.12px 'Liberation Sans', sans-serif;color:#1d7a33;white-space:nowrap;">Autonomous</div><div style="position:absolute;left:573.75px;top:666.26px;width:220px;text-align:center;font:normal 400 8.6px/10.32px 'Liberation Sans', sans-serif;color:#161616;white-space:nowrap;">Can replace the user by closing the control</div><div style="position:absolute;left:573.75px;top:676.56px;width:220px;text-align:center;font:normal 400 8.6px/10.32px 'Liberation Sans', sans-serif;color:#161616;white-space:nowrap;">loop to make decisions and execute control</div><div style="position:absolute;left:573.75px;top:686.86px;width:220px;text-align:center;font:normal 400 8.6px/10.32px 'Liberation Sans', sans-serif;color:#161616;white-space:nowrap;">actions on the system autonomously.</div><div style="position:absolute;left:213.00px;top:715.21px;width:400px;text-align:center;font:normal 400 11.08px/13.30px 'Liberation Serif', serif;color:#000;white-space:nowrap;">Figure 2: Description of capability levels of a digital twin.</div><div style="position:absolute;left:213.60px;top:744.79px;width:400px;text-align:center;font:normal 400 11.1px/13.32px 'Liberation Serif', serif;color:#000;white-space:nowrap;">Table 1: Comparing current work with industry DT services.</div><svg style="position:absolute;left:0;top:0" width="827" height="1169"><line x1="124.4" y1="772.5" x2="699.9" y2="772.5" stroke="#4a4a4a" stroke-width="1"/><line x1="124.4" y1="790" x2="699.9" y2="790" stroke="#4a4a4a" stroke-width="1"/><line x1="124.4" y1="807" x2="699.9" y2="807" stroke="#4a4a4a" stroke-width="1"/><line x1="124.4" y1="824.2" x2="699.9" y2="824.2" stroke="#4a4a4a" stroke-width="1"/><line x1="124.4" y1="841.1" x2="699.9" y2="841.1" stroke="#4a4a4a" stroke-width="1"/><line x1="124.4" y1="858.7" x2="699.9" y2="858.7" stroke="#4a4a4a" stroke-width="1"/><line x1="124.4" y1="875.6" x2="699.9" y2="875.6" stroke="#4a4a4a" stroke-width="1"/><line x1="124.4" y1="892.4" x2="699.9" y2="892.4" stroke="#4a4a4a" stroke-width="1"/><line x1="124.4" y1="909.3" x2="699.9" y2="909.3" stroke="#4a4a4a" stroke-width="1"/><line x1="124.4" y1="772.5" x2="124.4" y2="909.3" stroke="#4a4a4a" stroke-width="1"/><line x1="229.6" y1="790" x2="229.6" y2="909.3" stroke="#4a4a4a" stroke-width="1"/><line x1="325.5" y1="790" x2="325.5" y2="909.3" stroke="#4a4a4a" stroke-width="1"/><line x1="421.4" y1="790" x2="421.4" y2="909.3" stroke="#4a4a4a" stroke-width="1"/><line x1="517.3" y1="790" x2="517.3" y2="909.3" stroke="#4a4a4a" stroke-width="1"/><line x1="603.5" y1="790" x2="603.5" y2="909.3" stroke="#4a4a4a" stroke-width="1"/><line x1="699.9" y1="772.5" x2="699.9" y2="909.3" stroke="#4a4a4a" stroke-width="1"/></svg><div style="position:absolute;left:210.90px;top:773.46px;width:400px;text-align:center;font:normal 400 13.7px/16.44px 'Liberation Serif', serif;color:#000;white-space:nowrap;">Comparing Digital Twin Solutions</div><div style="position:absolute;left:133.00px;top:790.86px;font:normal 400 13.7px/16.44px 'Liberation Serif', serif;color:#000;white-space:nowrap;"><b>Capability</b></div><div style="position:absolute;left:238.20px;top:790.86px;font:normal 400 13.7px/16.44px 'Liberation Serif', serif;color:#000;white-space:nowrap;">Standalone</div><div style="position:absolute;left:334.10px;top:790.86px;font:normal 400 13.7px/16.44px 'Liberation Serif', serif;color:#000;white-space:nowrap;">Descriptive</div><div style="position:absolute;left:430.00px;top:790.86px;font:normal 400 13.7px/16.44px 'Liberation Serif', serif;color:#000;white-space:nowrap;">Diagnostic</div><div style="position:absolute;left:525.90px;top:790.86px;font:normal 400 13.7px/16.44px 'Liberation Serif', serif;color:#000;white-space:nowrap;">Predictive</div><div style="position:absolute;left:612.10px;top:790.86px;font:normal 400 13.7px/16.44px 'Liberation Serif', serif;color:#000;white-space:nowrap;">Prescriptive</div><div style="position:absolute;left:133.00px;top:807.86px;font:normal 400 13.7px/16.44px 'Liberation Serif', serif;color:#000;white-space:nowrap;">Current work</div><div style="position:absolute;left:238.20px;top:807.86px;font:normal 400 13.7px/16.44px 'Liberation Serif', serif;color:#000;white-space:nowrap;">X</div><div style="position:absolute;left:334.10px;top:807.86px;font:normal 400 13.7px/16.44px 'Liberation Serif', serif;color:#000;white-space:nowrap;">X</div><div style="position:absolute;left:430.00px;top:807.86px;font:normal 400 13.7px/16.44px 'Liberation Serif', serif;color:#000;white-space:nowrap;">X</div><div style="position:absolute;left:525.90px;top:807.86px;font:normal 400 13.7px/16.44px 'Liberation Serif', serif;color:#000;white-space:nowrap;">X</div><div style="position:absolute;left:612.10px;top:807.86px;font:normal 400 13.7px/16.44px 'Liberation Serif', serif;color:#000;white-space:nowrap;">X</div><div style="position:absolute;left:133.00px;top:825.06px;font:normal 400 13.7px/16.44px 'Liberation Serif', serif;color:#000;white-space:nowrap;">Matterport</div><div style="position:absolute;left:238.20px;top:825.06px;font:normal 400 13.7px/16.44px 'Liberation Serif', serif;color:#000;white-space:nowrap;">X</div><div style="position:absolute;left:334.10px;top:825.06px;font:normal 400 13.7px/16.44px 'Liberation Serif', serif;color:#000;white-space:nowrap;">-</div><div style="position:absolute;left:430.00px;top:825.06px;font:normal 400 13.7px/16.44px 'Liberation Serif', serif;color:#000;white-space:nowrap;">-</div><div style="position:absolute;left:525.90px;top:825.06px;font:normal 400 13.7px/16.44px 'Liberation Serif', serif;color:#000;white-space:nowrap;">-</div><div style="position:absolute;left:612.10px;top:825.06px;font:normal 400 13.7px/16.44px 'Liberation Serif', serif;color:#000;white-space:nowrap;">-</div><div style="position:absolute;left:133.00px;top:841.96px;font:normal 400 13.7px/16.44px 'Liberation Serif', serif;color:#000;white-space:nowrap;">Openspace</div><div style="position:absolute;left:238.20px;top:841.96px;font:normal 400 13.7px/16.44px 'Liberation Serif', serif;color:#000;white-space:nowrap;">X</div><div style="position:absolute;left:334.10px;top:841.96px;font:normal 400 13.7px/16.44px 'Liberation Serif', serif;color:#000;white-space:nowrap;">-</div><div style="position:absolute;left:430.00px;top:841.96px;font:normal 400 13.7px/16.44px 'Liberation Serif', serif;color:#000;white-space:nowrap;">-</div><div style="position:absolute;left:525.90px;top:841.96px;font:normal 400 13.7px/16.44px 'Liberation Serif', serif;color:#000;white-space:nowrap;">-</div><div style="position:absolute;left:612.10px;top:841.96px;font:normal 400 13.7px/16.44px 'Liberation Serif', serif;color:#000;white-space:nowrap;">-</div><div style="position:absolute;left:133.00px;top:859.56px;font:normal 400 13.7px/16.44px 'Liberation Serif', serif;color:#000;white-space:nowrap;">Revit</div><div style="position:absolute;left:238.20px;top:859.56px;font:normal 400 13.7px/16.44px 'Liberation Serif', serif;color:#000;white-space:nowrap;">X</div><div style="position:absolute;left:334.10px;top:859.56px;font:normal 400 13.7px/16.44px 'Liberation Serif', serif;color:#000;white-space:nowrap;">-</div><div style="position:absolute;left:430.00px;top:859.56px;font:normal 400 13.7px/16.44px 'Liberation Serif', serif;color:#000;white-space:nowrap;">-</div><div style="position:absolute;left:525.90px;top:859.56px;font:normal 400 13.7px/16.44px 'Liberation Serif', serif;color:#000;white-space:nowrap;">-</div><div style="position:absolute;left:612.10px;top:859.56px;font:normal 400 13.7px/16.44px 'Liberation Serif', serif;color:#000;white-space:nowrap;">-</div><div style="position:absolute;left:133.00px;top:876.46px;font:normal 400 13.7px/16.44px 'Liberation Serif', serif;color:#000;white-space:nowrap;">Invicara</div><div style="position:absolute;left:238.20px;top:876.46px;font:normal 400 13.7px/16.44px 'Liberation Serif', serif;color:#000;white-space:nowrap;">X</div><div style="position:absolute;left:334.10px;top:876.46px;font:normal 400 13.7px/16.44px 'Liberation Serif', serif;color:#000;white-space:nowrap;">X</div><div style="position:absolute;left:430.00px;top:876.46px;font:normal 400 13.7px/16.44px 'Liberation Serif', serif;color:#000;white-space:nowrap;">-</div><div style="position:absolute;left:525.90px;top:876.46px;font:normal 400 13.7px/16.44px 'Liberation Serif', serif;color:#000;white-space:nowrap;">-</div><div style="position:absolute;left:612.10px;top:876.46px;font:normal 400 13.7px/16.44px 'Liberation Serif', serif;color:#000;white-space:nowrap;">-</div><div style="position:absolute;left:133.00px;top:893.26px;font:normal 400 13.7px/16.44px 'Liberation Serif', serif;color:#000;white-space:nowrap;">TwinView</div><div style="position:absolute;left:238.20px;top:893.26px;font:normal 400 13.7px/16.44px 'Liberation Serif', serif;color:#000;white-space:nowrap;">X</div><div style="position:absolute;left:334.10px;top:893.26px;font:normal 400 13.7px/16.44px 'Liberation Serif', serif;color:#000;white-space:nowrap;">X</div><div style="position:absolute;left:430.00px;top:893.26px;font:normal 400 13.7px/16.44px 'Liberation Serif', serif;color:#000;white-space:nowrap;">-</div><div style="position:absolute;left:525.90px;top:893.26px;font:normal 400 13.7px/16.44px 'Liberation Serif', serif;color:#000;white-space:nowrap;">X</div><div style="position:absolute;left:612.10px;top:893.26px;font:normal 400 13.7px/16.44px 'Liberation Serif', serif;color:#000;white-space:nowrap;">-</div><div class="jl" id="l0_0" style="left:52.6px;top:954.63px;width:348.4px;word-spacing:0.588px"><span>the built environment, a BIM of a building relates somehow to</span></div><div class="jl" id="l0_1" style="left:52.6px;top:971.13px;width:348.4px;word-spacing:-0.025px"><span>the DT of the asset, but many still struggle to see the liaison be-</span></div><div class="jl" id="l0_2" style="left:52.6px;top:987.63px;width:348.4px;word-spacing:0.648px"><span>tween the two <span class="c">[15]</span>. More recently some encouraging advance-</span></div><div class="jl" id="l0_3" style="left:52.6px;top:1004.13px;width:348.4px;word-spacing:1.092px"><span>ment has started to happen in the field for e.g. &nbsp;<span class="c">[65]</span> improves</span></div><div class="jl" id="l0_4" style="left:52.6px;top:1020.63px;width:348.4px;word-spacing:0.348px"><span>the construction efficiency to ensure the infrastructure needs of</span></div><div class="jl" id="l0_5" style="left:52.6px;top:1037.13px;width:348.4px;word-spacing:1.272px"><span>urban development using the BIM model. In <span class="c">[35]</span> the focus is</span></div><div class="jl" id="l1_0" style="left:426.1px;top:954.63px;width:347.9px;word-spacing:1.639px"><span>on the modelling methodology used by the energy domain to</span></div><div class="jl" id="l1_1" style="left:426.1px;top:971.13px;width:347.9px;word-spacing:1.050px"><span>support the development of a DT for a multi-functional build-</span></div><div class="jl" id="l1_2" style="left:426.1px;top:987.63px;width:347.9px;word-spacing:1.478px"><span>ing element. &nbsp;The authors in <span class="c">[66]</span> argue that a comprehensive</span></div><div class="jl" id="l1_3" style="left:426.1px;top:1004.13px;width:347.9px;word-spacing:0.113px"><span>perception of physical systems is the preconditions for DTs im-</span></div><div class="jl" id="l1_4" style="left:426.1px;top:1020.63px;width:347.9px;word-spacing:0.120px"><span>plementation while in <span class="c">[73]</span> it is demonstrated that DT technolo-</span></div><div class="jl" id="l1_5" style="left:426.1px;top:1037.13px;width:347.9px;word-spacing:1.709px"><span>gies can enable efficient and responsive planning and control</span></div><div style="position:absolute;left:393.30px;top:1069.16px;width:40px;text-align:center;font:normal 400 13.7px/16.44px 'Liberation Serif', serif;color:#000;white-space:nowrap;">2</div>
</body></html>
